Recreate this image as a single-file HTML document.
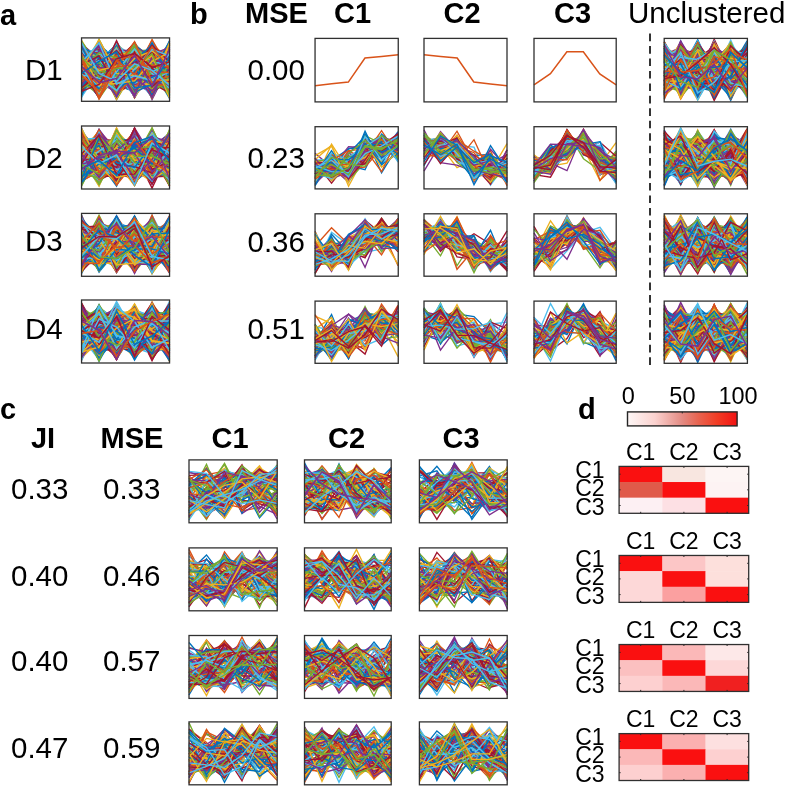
<!DOCTYPE html>
<html><head><meta charset="utf-8"><title>Figure</title>
<style>
html,body{margin:0;padding:0;background:#fff;overflow:hidden}
svg{display:block}
text{font-family:"Liberation Sans",Arial,Helvetica,sans-serif;fill:#000}
.L{font-weight:bold;font-size:29px}
.H{font-weight:bold;font-size:29px}
.N{font-size:29.5px}
.s{font-size:23px}
.s2{font-size:23.5px}
g path{fill:none;stroke-linejoin:miter;stroke-miterlimit:3}
.k0{stroke:#0072BD}.k1{stroke:#D95319}.k2{stroke:#EDB120}.k3{stroke:#7E2F8E}.k4{stroke:#77AC30}.k5{stroke:#4DBEEE}.k6{stroke:#A2142F}
.bx{fill:none;stroke:#303030;stroke-width:1.3}
.tk{fill:none;stroke:#262626;stroke-width:1}
</style></head><body>
<svg width="785" height="787" viewBox="0 0 785 787">
<rect width="785" height="787" fill="#fff"/>
<text class="L" x="0" y="24.5">a</text>
<text class="L" x="190" y="24">b</text>
<text class="L" x="0" y="419">c</text>
<text class="L" x="578" y="418.5">d</text>
<text class="H" x="245" y="22.7">MSE</text>
<text class="H" x="352.5" y="22.7" text-anchor="middle">C1</text>
<text class="H" x="462" y="22.7" text-anchor="middle">C2</text>
<text class="H" x="572.5" y="22.7" text-anchor="middle">C3</text>
<text class="N" x="628" y="22.7">Unclustered</text>
<text class="N" x="25" y="80.3">D1</text>
<text class="N" x="25" y="167.8">D2</text>
<text class="N" x="25" y="251.3">D3</text>
<text class="N" x="25" y="339.2">D4</text>
<text class="N" x="247.5" y="80.3">0.00</text>
<text class="N" x="247.5" y="168.2">0.23</text>
<text class="N" x="247.5" y="252">0.36</text>
<text class="N" x="247.5" y="339">0.51</text>
<path d="M650 33.6V366" stroke="#333" stroke-width="2" stroke-dasharray="7.6 4.85" fill="none"/>
<text class="H" x="43" y="447.6" text-anchor="middle">JI</text>
<text class="H" x="100.5" y="447.6">MSE</text>
<text class="H" x="230" y="447.6" text-anchor="middle">C1</text>
<text class="H" x="346.5" y="447.6" text-anchor="middle">C2</text>
<text class="H" x="461" y="447.6" text-anchor="middle">C3</text>
<text class="N" x="11" y="498.5">0.33</text><text class="N" x="103" y="498.5">0.33</text>
<text class="N" x="11" y="585.5">0.40</text><text class="N" x="103" y="585.5">0.46</text>
<text class="N" x="11" y="670.8">0.40</text><text class="N" x="103" y="670.8">0.57</text>
<text class="N" x="11" y="758.2">0.47</text><text class="N" x="103" y="758.2">0.59</text>
<g style="stroke-width:3" transform="translate(81.55,37.9) scale(.5)">
<path class="k1" d="M0 69 35 15 70 92 106 97 141 51 176 56M0 88 35 17 70 50 106 103 141 68 176 55M0 83 35 44 70 101 106 22 141 82 176 48"/>
<path class="k0" d="M0 40 35 22 70 57 106 94 141 68 176 100M0 94 35 60 70 26 106 103 141 39 176 59M0 71 35 105 70 64 106 80 141 20 176 39M0 102 35 36 70 93 106 38 141 74 176 38"/>
<path class="k4" d="M0 44 35 54 70 123 106 64 141 50 176 45M0 37 35 32 70 88 106 76 141 43 176 104M0 70 35 71 70 27 106 36 141 112 176 65"/>
<path class="k5" d="M0 96 35 60 70 77 106 71 141 7 176 71M0 88 35 73 70 14 106 39 141 83 176 84M0 59 35 102 70 50 106 95 141 22 176 53"/>
<path class="k2" d="M0 46 35 88 70 51 106 22 141 105 176 69M0 83 35 49 70 78 106 49 141 19 176 102M0 74 35 18 70 88 106 99 141 40 176 61"/>
<path class="k3" d="M0 93 35 72 70 91 106 36 141 71 176 18M0 31 35 70 70 35 106 113 141 77 176 54M0 66 35 9 70 94 106 88 141 65 176 57"/>
<path class="k6" d="M0 69 35 11 70 104 106 74 141 60 176 63M0 79 35 6 70 86 106 81 141 54 176 74M0 41 35 64 70 48 106 113 141 83 176 32"/>
<path class="k6" d="M0 21 35 91 70 61 106 71 141 99 176 38M0 27 35 35 70 87 106 98 141 48 176 85M0 28 35 82 70 45 106 76 141 108 176 41"/>
<path class="k1" d="M0 64 35 110 70 33 106 28 141 70 176 75M0 92 35 95 70 15 106 73 141 48 176 58M0 44 35 30 70 76 106 109 141 40 176 81M0 83 35 92 70 84 106 16 141 38 176 68"/>
<path class="k2" d="M0 60 35 93 70 9 106 76 141 56 176 86M0 86 35 91 70 9 106 76 141 65 176 53M0 108 35 31 70 51 106 34 141 84 176 72"/>
<path class="k3" d="M0 84 35 105 70 25 106 69 141 34 176 64M0 34 35 49 70 58 106 87 141 112 176 41M0 96 35 91 70 41 106 86 141 33 176 34"/>
<path class="k4" d="M0 103 35 57 70 87 106 16 141 63 176 54M0 40 35 121 70 71 106 54 141 50 176 44M0 18 35 95 70 43 106 65 141 64 176 96"/>
<path class="k0" d="M0 54 35 48 70 105 106 21 141 90 176 63M0 52 35 30 70 95 106 107 141 45 176 51M0 27 35 65 70 101 106 94 141 33 176 61"/>
<path class="k5" d="M0 92 35 76 70 11 106 73 141 83 176 46M0 87 35 28 70 111 106 48 141 59 176 47M0 95 35 37 70 77 106 69 141 87 176 17"/>
<path class="k4" d="M0 40 35 118 70 44 106 52 141 48 176 78M0 96 35 41 70 93 106 51 141 21 176 79M0 58 35 22 70 55 106 69 141 115 176 61"/>
<path class="k5" d="M0 92 35 88 70 33 106 67 141 81 176 20M0 86 35 63 70 69 106 97 141 55 176 10M0 96 35 83 70 28 106 31 141 52 176 90"/>
<path class="k6" d="M0 79 35 76 70 110 106 29 141 43 176 44M0 48 35 45 70 85 106 20 141 95 176 88M0 79 35 87 70 52 106 9 141 63 176 90"/>
<path class="k1" d="M0 30 35 59 70 77 106 93 141 95 176 27M0 22 35 73 70 83 106 101 141 68 176 33M0 38 35 40 70 39 106 107 141 64 176 92"/>
<path class="k3" d="M0 73 35 107 70 28 106 35 141 85 176 53M0 62 35 53 70 53 106 36 141 123 176 54M0 42 35 31 70 109 106 75 141 43 176 81"/>
<path class="k0" d="M0 12 35 62 70 53 106 95 141 91 176 67M0 41 35 116 70 48 106 33 141 76 176 66M0 91 35 37 70 43 106 90 141 29 176 90"/>
<path class="k2" d="M0 89 35 38 70 77 106 19 141 97 176 60M0 41 35 60 70 78 106 111 141 66 176 25M0 15 35 94 70 90 106 76 141 43 176 63M0 60 35 58 70 94 106 99 141 16 176 53"/>
<path class="k1" d="M0 18 35 106 70 71 106 69 141 43 176 74M0 94 35 30 70 80 106 77 141 21 176 78M0 66 35 66 70 107 106 65 141 64 176 12"/>
<path class="k2" d="M0 78 35 58 70 86 106 96 141 49 176 13M0 46 35 78 70 83 106 97 141 13 176 63M0 5 35 65 70 84 106 63 141 80 176 84"/>
<path class="k0" d="M0 54 35 103 70 69 106 32 141 92 176 30M0 95 35 46 70 13 106 87 141 75 176 65M0 20 35 61 70 77 106 111 141 61 176 49"/>
<path class="k6" d="M0 76 35 94 70 16 106 74 141 36 176 84M0 26 35 79 70 54 106 103 141 34 176 84M0 31 35 85 70 65 106 95 141 82 176 22"/>
<path class="k3" d="M0 53 35 29 70 113 106 84 141 54 176 48M0 102 35 46 70 70 106 82 141 15 176 65M0 62 35 71 70 65 106 69 141 10 176 103M0 62 35 116 70 25 106 64 141 45 176 69"/>
<path class="k4" d="M0 73 35 27 70 54 106 101 141 91 176 34M0 16 35 94 70 54 106 75 141 93 176 47M0 92 35 77 70 86 106 26 141 24 176 75"/>
<path class="k5" d="M0 58 35 116 70 36 106 55 141 36 176 79M0 65 35 23 70 59 106 117 141 62 176 54M0 79 35 58 70 23 106 108 141 40 176 73"/>
<path class="k4" d="M0 87 35 102 70 54 106 75 141 23 176 39M0 82 35 25 70 50 106 104 141 38 176 81M0 69 35 55 70 37 106 120 141 58 176 42M0 90 35 22 70 42 106 101 141 52 176 73"/>
<path class="k6" d="M0 36 35 32 70 54 106 74 141 70 176 114M0 13 35 65 70 69 106 101 141 83 176 49M0 92 35 76 70 45 106 11 141 80 176 76"/>
<path class="k0" d="M0 64 35 80 70 44 106 115 141 36 176 41M0 56 35 69 70 27 106 112 141 77 176 39M0 67 35 30 70 74 106 26 141 104 176 79"/>
<path class="k1" d="M0 63 35 73 70 37 106 118 141 40 176 48M0 47 35 27 70 55 106 84 141 56 176 112M0 67 35 37 70 29 106 107 141 89 176 51"/>
<path class="k2" d="M0 54 35 48 70 112 106 88 141 33 176 45M0 99 35 31 70 50 106 39 141 101 176 60M0 81 35 109 70 27 106 44 141 44 176 75"/>
<path class="k3" d="M0 66 35 120 70 55 106 35 141 40 176 65M0 67 35 74 70 113 106 60 141 26 176 40M0 30 35 73 70 28 106 96 141 94 176 58"/>
<path class="k5" d="M0 80 35 25 70 79 106 51 141 39 176 107M0 101 35 84 70 35 106 77 141 61 176 22M0 71 35 14 70 46 106 92 141 93 176 65"/>
<path class="k3" d="M0 68 35 49 70 96 106 85 141 71 176 11M0 47 35 109 70 39 106 94 141 40 176 52M0 81 35 78 70 45 106 46 141 24 176 106"/>
<path class="k2" d="M0 69 35 95 70 9 106 55 141 84 176 68M0 9 35 54 70 95 106 75 141 82 176 66M0 29 35 78 70 61 106 75 141 30 176 107"/>
<path class="k4" d="M0 49 35 83 70 57 106 13 141 87 176 92M0 52 35 40 70 63 106 67 141 120 176 38M0 29 35 59 70 70 106 35 141 77 176 111"/>
<path class="k5" d="M0 63 35 101 70 97 106 55 141 29 176 35M0 53 35 78 70 72 106 112 141 29 176 37M0 41 35 36 70 57 106 76 141 118 176 53M0 73 35 105 70 81 106 52 141 53 176 17"/>
<path class="k1" d="M0 71 35 52 70 30 106 81 141 36 176 111M0 75 35 69 70 114 106 33 141 55 176 35M0 39 35 115 70 77 106 30 141 57 176 63"/>
<path class="k6" d="M0 66 35 60 70 11 106 73 141 105 176 64M0 48 35 44 70 122 106 46 141 69 176 51M0 50 35 52 70 87 106 26 141 110 176 54"/>
<path class="k0" d="M0 30 35 71 70 97 106 90 141 24 176 69M0 27 35 63 70 112 106 38 141 78 176 63M0 96 35 78 70 8 106 70 141 74 176 54"/>
<path class="k6" d="M0 42 35 99 70 66 106 73 141 85 176 15M0 48 35 29 70 69 106 68 141 48 176 117M0 68 35 21 70 72 106 91 141 95 176 33M0 74 35 118 70 35 106 40 141 55 176 58"/>
<path class="k2" d="M0 96 35 62 70 64 106 52 141 93 176 14M0 98 35 88 70 24 106 59 141 32 176 79M0 86 35 56 70 19 106 90 141 39 176 90"/>
<path class="k1" d="M0 55 35 100 70 9 106 71 141 73 176 72M0 32 35 43 70 70 106 105 141 39 176 92M0 72 35 53 70 65 106 112 141 60 176 18"/>
<path class="k5" d="M0 9 35 84 70 73 106 81 141 47 176 87M0 72 35 68 70 24 106 61 141 42 176 113M0 63 35 117 70 57 106 28 141 72 176 44"/>
<path class="k3" d="M0 31 35 88 70 109 106 47 141 39 176 66M0 52 35 92 70 80 106 12 141 56 176 89M0 60 35 25 70 33 106 100 141 72 176 90"/>
<path class="k0" d="M0 76 35 118 70 33 106 59 141 44 176 52M0 94 35 52 70 30 106 43 141 107 176 54M0 109 35 69 70 41 106 27 141 85 176 49"/>
<path class="k4" d="M0 61 35 94 70 40 106 98 141 67 176 21M0 61 35 48 70 20 106 73 141 112 176 67M0 73 35 33 70 112 106 47 141 77 176 37"/>
<path class="k4" d="M0 71 35 98 70 92 106 23 141 63 176 33M0 10 35 75 70 71 106 67 141 56 176 101M0 75 35 53 70 13 106 66 141 68 176 105"/>
<path class="k1" d="M0 28 35 78 70 90 106 26 141 63 176 95M0 109 35 35 70 78 106 27 141 57 176 74M0 50 35 118 70 29 106 67 141 67 176 50"/>
<path class="k0" d="M0 30 35 74 70 82 106 66 141 25 176 102M0 44 35 99 70 63 106 50 141 99 176 25M0 66 35 34 70 49 106 49 141 62 176 121M0 66 35 14 70 43 106 93 141 88 176 77"/>
<path class="k5" d="M0 47 35 64 70 18 106 103 141 58 176 89M0 25 35 89 70 50 106 108 141 55 176 53M0 53 35 73 70 47 106 68 141 25 176 114"/>
<path class="k3" d="M0 96 35 21 70 50 106 88 141 84 176 42M0 30 35 93 70 28 106 85 141 91 176 54M0 19 35 91 70 45 106 100 141 54 176 71"/>
<path class="k2" d="M0 98 35 40 70 28 106 101 141 64 176 50M0 34 35 81 70 81 106 105 141 49 176 30M0 10 35 73 70 85 106 60 141 96 176 56"/>
<path class="k6" d="M0 33 35 36 70 109 106 90 141 57 176 55M0 93 35 27 70 72 106 33 141 56 176 100M0 61 35 13 70 63 106 81 141 59 176 104"/>
<path class="k6" d="M0 26 35 116 70 57 106 77 141 54 176 51M0 67 35 45 70 69 106 19 141 70 176 110M0 43 35 26 70 65 106 53 141 109 176 85"/>
<path class="k2" d="M0 70 35 82 70 57 106 103 141 14 176 55M0 64 35 85 70 65 106 86 141 5 176 76M0 22 35 63 70 55 106 46 141 90 176 105"/>
<path class="k0" d="M0 92 35 85 70 47 106 58 141 86 176 13M0 72 35 105 70 54 106 26 141 36 176 87M0 17 35 109 70 64 106 51 141 65 176 75"/>
<path class="k3" d="M0 71 35 30 70 50 106 119 141 59 176 51M0 69 35 99 70 54 106 87 141 59 176 12M0 65 35 90 70 68 106 64 141 7 176 88"/>
<path class="k5" d="M0 118 35 66 70 63 106 39 141 32 176 62M0 38 35 98 70 19 106 61 141 87 176 78M0 105 35 77 70 21 106 40 141 81 176 56"/>
<path class="k1" d="M0 33 35 97 70 93 106 37 141 38 176 82M0 32 35 109 70 73 106 28 141 63 176 75M0 103 35 39 70 76 106 84 141 57 176 22M0 45 35 43 70 46 106 119 141 49 176 78"/>
<path class="k4" d="M0 64 35 69 70 49 106 83 141 14 176 102M0 42 35 29 70 43 106 71 141 89 176 106M0 68 35 70 70 43 106 15 141 85 176 100"/>
<path class="k5" d="M0 70 35 30 70 26 106 72 141 77 176 105M0 33 35 117 70 63 106 57 141 73 176 37M0 90 35 96 70 26 106 83 141 35 176 50"/>
<path class="k3" d="M0 43 35 44 70 33 106 100 141 102 176 58M0 113 35 61 70 45 106 70 141 22 176 69M0 21 35 60 70 100 106 97 141 53 176 50"/>
<path class="k4" d="M0 88 35 21 70 53 106 46 141 104 176 68M0 117 35 32 70 60 106 76 141 50 176 45M0 39 35 66 70 49 106 36 141 73 176 117"/>
<path class="k0" d="M0 71 35 87 70 80 106 13 141 42 176 89M0 48 35 40 70 89 106 24 141 80 176 99M0 72 35 58 70 15 106 103 141 51 176 82"/>
<path class="k1" d="M0 42 35 17 70 84 106 97 141 83 176 57M0 73 35 58 70 93 106 69 141 80 176 7M0 64 35 44 70 72 106 46 141 119 176 36"/>
<path class="k6" d="M0 57 35 75 70 51 106 19 141 69 176 110M0 36 35 74 70 89 106 17 141 73 176 91M0 13 35 41 70 85 106 89 141 78 176 74"/>
<path class="k2" d="M0 101 35 66 70 47 106 35 141 98 176 34M0 103 35 50 70 47 106 49 141 32 176 100M0 105 35 23 70 79 106 82 141 49 176 42M0 66 35 34 70 46 106 118 141 70 176 45"/>
<path class="k4" d="M0 72 35 77 70 106 106 54 141 15 176 57M0 47 35 45 70 82 106 44 141 45 176 117M0 63 35 24 70 87 106 73 141 33 176 101"/>
<path class="k3" d="M0 41 35 73 70 73 106 115 141 44 176 35M0 81 35 87 70 24 106 26 141 89 176 74M0 70 35 101 70 78 106 76 141 19 176 36M0 108 35 59 70 30 106 55 141 91 176 38"/>
<path class="k2" d="M0 91 35 39 70 76 106 80 141 13 176 80M0 15 35 50 70 76 106 53 141 98 176 87M0 50 35 84 70 39 106 25 141 104 176 78"/>
<path class="k0" d="M0 20 35 54 70 80 106 78 141 44 176 104M0 30 35 50 70 80 106 39 141 70 176 112M0 109 35 36 70 89 106 31 141 57 176 58"/>
<path class="k5" d="M0 32 35 52 70 93 106 30 141 100 176 72M0 62 35 40 70 70 106 117 141 61 176 30M0 70 35 101 70 58 106 13 141 84 176 55"/>
<path class="k6" d="M0 53 35 31 70 48 106 49 141 91 176 110M0 46 35 109 70 28 106 91 141 56 176 51M0 85 35 90 70 91 106 38 141 20 176 57"/>
<path class="k1" d="M0 85 35 91 70 53 106 48 141 15 176 88M0 26 35 76 70 50 106 115 141 58 176 55M0 17 35 60 70 54 106 102 141 55 176 91"/>
<path class="k4" d="M0 87 35 44 70 75 106 105 141 27 176 43M0 102 35 70 70 71 106 9 141 70 176 59M0 63 35 77 70 32 106 110 141 69 176 29M0 67 35 44 70 101 106 89 141 18 176 61"/>
<path class="k0" d="M0 49 35 102 70 86 106 23 141 78 176 42M0 56 35 44 70 25 106 95 141 56 176 103M0 86 35 71 70 24 106 87 141 86 176 26"/>
<path class="k6" d="M0 67 35 74 70 46 106 78 141 13 176 101M0 86 35 65 70 22 106 107 141 55 176 44M0 34 35 83 70 39 106 57 141 114 176 54"/>
<path class="k1" d="M0 52 35 102 70 67 106 75 141 74 176 11M0 77 35 74 70 53 106 40 141 26 176 110M0 72 35 24 70 65 106 106 141 78 176 34"/>
<path class="k3" d="M0 9 35 50 70 70 106 73 141 88 176 90M0 61 35 96 70 55 106 19 141 99 176 51M0 60 35 110 70 81 106 29 141 33 176 67"/>
<path class="k5" d="M0 87 35 32 70 49 106 35 141 107 176 71M0 119 35 42 70 72 106 38 141 64 176 46M0 69 35 76 70 58 106 77 141 7 176 94"/>
<path class="k2" d="M0 39 35 90 70 103 106 54 141 70 176 24M0 16 35 46 70 61 106 100 141 90 176 67M0 45 35 76 70 74 106 79 141 95 176 12"/>
<path class="k6" d="M0 81 35 23 70 40 106 108 141 58 176 71M0 98 35 56 70 34 106 94 141 73 176 26M0 42 35 109 70 32 106 52 141 91 176 54"/>
<path class="k5" d="M0 82 35 48 70 71 106 97 141 11 176 71M0 93 35 63 70 10 106 56 141 90 176 70M0 27 35 37 70 73 106 87 141 105 176 51M0 88 35 40 70 39 106 98 141 30 176 86"/>
<path class="k3" d="M0 40 35 18 70 105 106 68 141 73 176 75M0 57 35 55 70 60 106 118 141 26 176 65M0 76 35 71 70 74 106 39 141 103 176 18"/>
<path class="k2" d="M0 21 35 90 70 84 106 29 141 80 176 77M0 25 35 71 70 40 106 70 141 61 176 113M0 89 35 96 70 84 106 50 141 30 176 31"/>
<path class="k0" d="M0 108 35 39 70 43 106 49 141 96 176 46M0 74 35 56 70 88 106 82 141 74 176 6M0 89 35 102 70 80 106 36 141 32 176 42"/>
<path class="k4" d="M0 90 35 90 70 35 106 92 141 43 176 30M0 63 35 53 70 52 106 19 141 105 176 88M0 93 35 104 70 60 106 32 141 60 176 31"/>
<path class="k1" d="M0 52 35 46 70 98 106 24 141 101 176 60M0 81 35 88 70 90 106 65 141 13 176 43M0 39 35 109 70 27 106 87 141 63 176 55"/>
<path class="k1" d="M0 49 35 105 70 36 106 66 141 32 176 93M0 41 35 108 70 69 106 89 141 32 176 42M0 96 35 86 70 31 106 70 141 75 176 22"/>
<path class="k6" d="M0 54 35 91 70 68 106 29 141 105 176 34M0 22 35 84 70 103 106 63 141 36 176 72M0 47 35 67 70 104 106 18 141 87 176 58M0 106 35 74 70 43 106 44 141 27 176 86"/>
<path class="k4" d="M0 88 35 113 70 42 106 44 141 51 176 42M0 8 35 66 70 52 106 88 141 86 176 80M0 113 35 54 70 53 106 49 141 27 176 83"/>
<path class="k2" d="M0 54 35 78 70 51 106 96 141 88 176 14M0 38 35 52 70 122 106 61 141 46 176 60M0 60 35 95 70 49 106 106 141 37 176 35"/>
<path class="k0" d="M0 45 35 47 70 118 106 58 141 36 176 77M0 100 35 54 70 25 106 79 141 87 176 35M0 71 35 30 70 93 106 44 141 103 176 40"/>
<path class="k5" d="M0 73 35 49 70 90 106 91 141 11 176 66M0 56 35 36 70 108 106 26 141 78 176 75M0 26 35 55 70 73 106 100 141 93 176 35"/>
<path class="k3" d="M0 85 35 82 70 71 106 90 141 33 176 19M0 27 35 66 70 75 106 29 141 78 176 105M0 81 35 84 70 42 106 50 141 102 176 22"/>
<path class="k0" d="M0 115 35 43 70 67 106 40 141 78 176 37M0 34 35 82 70 53 106 37 141 114 176 61M0 57 35 116 70 30 106 43 141 57 176 76M0 69 35 34 70 25 106 82 141 63 176 106"/>
<path class="k2" d="M0 46 35 99 70 20 106 85 141 46 176 84M0 56 35 65 70 20 106 109 141 81 176 49M0 71 35 33 70 94 106 60 141 97 176 25"/>
<path class="k5" d="M0 14 35 89 70 50 106 59 141 99 176 69M0 39 35 73 70 22 106 94 141 56 176 97M0 24 35 27 70 82 106 93 141 79 176 76"/>
<path class="k4" d="M0 16 35 74 70 52 106 109 141 69 176 60M0 83 35 3 70 70 106 84 141 70 176 70M0 57 35 71 70 34 106 26 141 101 176 91"/>
<path class="k6" d="M0 56 35 111 70 33 106 35 141 61 176 85M0 25 35 84 70 76 106 49 141 40 176 105M0 94 35 42 70 84 106 82 141 14 176 65"/>
<path class="k1" d="M0 21 35 36 70 61 106 74 141 94 176 94M0 87 35 76 70 77 106 72 141 4 176 64M0 68 35 78 70 45 106 19 141 108 176 62"/>
<path class="k3" d="M0 66 35 6 70 68 106 94 141 79 176 68M0 91 35 79 70 92 106 18 141 37 176 62M0 53 35 64 70 43 106 67 141 119 176 34"/>
<path class="k2" d="M0 23 35 35 70 84 106 72 141 103 176 64M0 48 35 95 70 36 106 26 141 85 176 90M0 56 35 58 70 76 106 85 141 95 176 10"/>
<path class="k6" d="M0 107 35 53 70 25 106 64 141 42 176 89M0 64 35 66 70 37 106 81 141 25 176 109M0 79 35 80 70 6 106 87 141 75 176 53"/>
<path class="k4" d="M0 101 35 81 70 55 106 18 141 44 176 82M0 7 35 59 70 82 106 60 141 90 176 82M0 35 35 105 70 88 106 53 141 72 176 28"/>
<path class="k1" d="M0 21 35 56 70 112 106 77 141 54 176 61M0 19 35 67 70 35 106 98 141 84 176 77M0 35 35 51 70 67 106 86 141 33 176 109M0 67 35 93 70 36 106 105 141 37 176 43"/>
<path class="k5" d="M0 25 35 72 70 71 106 102 141 81 176 30M0 66 35 99 70 96 106 20 141 49 176 51M0 68 35 45 70 81 106 14 141 71 176 101"/>
<path class="k3" d="M0 61 35 12 70 62 106 105 141 77 176 62M0 44 35 71 70 117 106 32 141 49 176 66M0 99 35 25 70 50 106 74 141 94 176 38"/>
<path class="k0" d="M0 35 35 40 70 61 106 109 141 92 176 43M0 68 35 102 70 71 106 44 141 15 176 80M0 17 35 86 70 40 106 62 141 96 176 80"/>
<path class="k0" d="M0 19 35 36 70 96 106 87 141 79 176 64M0 46 35 88 70 82 106 90 141 13 176 61M0 99 35 51 70 76 106 68 141 10 176 76"/>
<path class="k4" d="M0 62 35 30 70 40 106 112 141 53 176 84M0 83 35 48 70 107 106 19 141 54 176 70M0 67 35 66 70 77 106 14 141 106 176 51"/>
<path class="k3" d="M0 32 35 81 70 56 106 114 141 39 176 59M0 14 35 59 70 60 106 80 141 106 176 62M0 61 35 14 70 93 106 50 141 66 176 96"/>
<path class="k6" d="M0 54 35 36 70 100 106 28 141 98 176 64M0 100 35 71 70 87 106 60 141 15 176 48M0 64 35 120 70 48 106 32 141 58 176 58"/>
<path class="k2" d="M0 72 35 110 70 80 106 41 141 26 176 51M0 41 35 65 70 56 106 63 141 35 176 120M0 63 35 4 70 71 106 75 141 84 176 84M0 33 35 94 70 91 106 86 141 47 176 29"/>
<path class="k5" d="M0 49 35 10 70 92 106 76 141 85 176 68M0 74 35 80 70 105 106 62 141 23 176 36M0 57 35 114 70 68 106 22 141 68 176 51"/>
<path class="k1" d="M0 34 35 122 70 58 106 53 141 55 176 58M0 60 35 87 70 59 106 8 141 90 176 76M0 44 35 118 70 45 106 35 141 68 176 69"/>
<path class="k4" d="M0 37 35 79 70 61 106 58 141 32 176 114"/>
<path class="k0" d="M0 71 35 47 70 28 106 100 141 95 176 38"/>
<path class="k6" d="M0 107 35 93 70 42 106 31 141 59 176 48"/>
<path class="k1" d="M0 75 35 107 70 45 106 73 141 18 176 62"/>
<path class="k5" d="M0 10 35 71 70 87 106 52 141 65 176 95"/>
<path class="k3" d="M0 57 35 90 70 81 106 35 141 96 176 23"/>
</g>
<rect class="bx" x="81.55" y="37.9" width="88" height="63.4"/>
<g style="stroke-width:3" transform="translate(81.55,126) scale(.5)">
<path class="k2" d="M0 28 35 59 70 64 106 118 141 59 176 50M0 86 35 101 70 22 106 62 141 36 176 70M0 72 35 45 70 50 106 42 141 49 176 120"/>
<path class="k3" d="M0 47 35 73 70 74 106 101 141 69 176 13M0 41 35 106 70 62 106 24 141 57 176 88M0 94 35 51 70 92 106 29 141 31 176 81"/>
<path class="k6" d="M0 85 35 10 70 47 106 79 141 68 176 88M0 87 35 8 70 70 106 90 141 69 176 54M0 72 35 69 70 42 106 98 141 81 176 14"/>
<path class="k4" d="M0 91 35 77 70 99 106 28 141 35 176 48M0 105 35 47 70 39 106 67 141 90 176 30M0 62 35 58 70 78 106 36 141 31 176 113"/>
<path class="k1" d="M0 94 35 74 70 94 106 52 141 47 176 17M0 81 35 23 70 32 106 101 141 77 176 63M0 81 35 109 70 50 106 61 141 20 176 57"/>
<path class="k0" d="M0 93 35 90 70 29 106 30 141 52 176 84M0 35 35 71 70 52 106 75 141 112 176 32M0 80 35 67 70 101 106 71 141 45 176 14M0 48 35 31 70 115 106 74 141 66 176 44"/>
<path class="k5" d="M0 117 35 47 70 68 106 52 141 65 176 29M0 18 35 70 70 58 106 57 141 112 176 62M0 32 35 55 70 56 106 36 141 102 176 97"/>
<path class="k3" d="M0 45 35 50 70 90 106 55 141 108 176 29M0 26 35 102 70 94 106 60 141 60 176 37M0 78 35 30 70 63 106 61 141 112 176 35"/>
<path class="k5" d="M0 85 35 15 70 53 106 101 141 51 176 73M0 91 35 24 70 44 106 59 141 105 176 56M0 85 35 72 70 23 106 46 141 105 176 47"/>
<path class="k6" d="M0 13 35 78 70 105 106 54 141 63 176 65M0 97 35 40 70 72 106 98 141 32 176 40M0 45 35 72 70 19 106 54 141 104 176 84"/>
<path class="k4" d="M0 55 35 108 70 20 106 52 141 84 176 59M0 26 35 86 70 50 106 46 141 109 176 60M0 65 35 66 70 57 106 18 141 112 176 59"/>
<path class="k0" d="M0 99 35 51 70 27 106 95 141 37 176 70M0 84 35 8 70 71 106 72 141 53 176 91M0 22 35 102 70 60 106 50 141 50 176 95"/>
<path class="k2" d="M0 106 35 17 70 54 106 71 141 78 176 51M0 45 35 73 70 102 106 14 141 69 176 75M0 88 35 74 70 57 106 77 141 5 176 78"/>
<path class="k1" d="M0 104 35 22 70 75 106 71 141 72 176 34M0 13 35 68 70 86 106 49 141 65 176 98M0 95 35 86 70 36 106 37 141 89 176 34M0 73 35 57 70 33 106 85 141 103 176 26"/>
<path class="k4" d="M0 75 35 41 70 118 106 60 141 39 176 46M0 80 35 68 70 37 106 35 141 45 176 113M0 23 35 98 70 48 106 77 141 91 176 41"/>
<path class="k3" d="M0 104 35 41 70 54 106 98 141 36 176 45M0 52 35 67 70 60 106 113 141 67 176 20M0 41 35 112 70 78 106 29 141 50 176 68"/>
<path class="k6" d="M0 53 35 83 70 50 106 83 141 95 176 14M0 10 35 55 70 56 106 86 141 82 176 89M0 87 35 91 70 51 106 37 141 89 176 23"/>
<path class="k1" d="M0 94 35 103 70 33 106 31 141 55 176 62M0 112 35 53 70 66 106 34 141 34 176 79M0 28 35 59 70 77 106 98 141 88 176 28"/>
<path class="k2" d="M0 26 35 63 70 112 106 61 141 76 176 40M0 74 35 109 70 17 106 53 141 60 176 65M0 54 35 98 70 20 106 43 141 72 176 92M0 67 35 92 70 73 106 5 141 66 176 75"/>
<path class="k0" d="M0 88 35 68 70 76 106 13 141 90 176 43M0 43 35 82 70 52 106 21 141 76 176 104M0 84 35 60 70 54 106 48 141 109 176 23"/>
<path class="k5" d="M0 44 35 94 70 100 106 62 141 57 176 21M0 42 35 104 70 91 106 40 141 71 176 31M0 91 35 29 70 82 106 27 141 93 176 57"/>
<path class="k0" d="M0 74 35 96 70 67 106 18 141 86 176 37M0 35 35 20 70 73 106 101 141 79 176 70M0 100 35 21 70 52 106 80 141 84 176 41"/>
<path class="k2" d="M0 78 35 43 70 67 106 76 141 14 176 99M0 67 35 80 70 9 106 49 141 84 176 88M0 26 35 55 70 39 106 80 141 69 176 110"/>
<path class="k3" d="M0 19 35 43 70 55 106 73 141 99 176 89M0 101 35 47 70 50 106 39 141 102 176 39M0 60 35 104 70 71 106 71 141 12 176 60M0 22 35 104 70 36 106 76 141 80 176 59"/>
<path class="k5" d="M0 67 35 119 70 45 106 64 141 51 176 33M0 93 35 31 70 85 106 93 141 40 176 36M0 68 35 23 70 44 106 51 141 106 176 86"/>
<path class="k1" d="M0 44 35 41 70 102 106 27 141 77 176 87M0 60 35 20 70 60 106 90 141 45 176 103M0 68 35 105 70 24 106 70 141 78 176 32"/>
<path class="k6" d="M0 99 35 93 70 49 106 40 141 73 176 24M0 27 35 89 70 64 106 25 141 85 176 88M0 48 35 20 70 71 106 47 141 97 176 95"/>
<path class="k4" d="M0 109 35 89 70 44 106 28 141 54 176 54M0 49 35 17 70 91 106 55 141 67 176 99M0 76 35 94 70 88 106 52 141 57 176 12"/>
<path class="k1" d="M0 118 35 40 70 37 106 50 141 72 176 61M0 96 35 24 70 61 106 80 141 30 176 86M0 110 35 91 70 39 106 48 141 53 176 38"/>
<path class="k6" d="M0 35 35 67 70 75 106 24 141 107 176 70M0 113 35 66 70 56 106 24 141 46 176 74M0 35 35 51 70 38 106 52 141 102 176 100"/>
<path class="k3" d="M0 66 35 51 70 94 106 22 141 46 176 100M0 79 35 25 70 54 106 51 141 113 176 55M0 60 35 64 70 93 106 69 141 7 176 84"/>
<path class="k0" d="M0 39 35 103 70 73 106 52 141 87 176 24M0 81 35 59 70 74 106 20 141 39 176 104M0 17 35 53 70 91 106 51 141 67 176 100"/>
<path class="k4" d="M0 74 35 61 70 16 106 70 141 50 176 107M0 57 35 89 70 84 106 51 141 86 176 11M0 110 35 63 70 61 106 71 141 16 176 57M0 108 35 53 70 44 106 48 141 92 176 33"/>
<path class="k2" d="M0 83 35 29 70 90 106 63 141 23 176 90M0 53 35 59 70 106 106 17 141 82 176 62M0 19 35 108 70 49 106 66 141 79 176 57"/>
<path class="k5" d="M0 14 35 57 70 104 106 76 141 73 176 54M0 92 35 24 70 65 106 29 141 85 176 84M0 50 35 66 70 77 106 38 141 33 176 114"/>
<path class="k3" d="M0 46 35 17 70 79 106 52 141 93 176 92M0 83 35 73 70 97 106 68 141 40 176 16M0 76 35 7 70 54 106 74 141 91 176 77"/>
<path class="k5" d="M0 85 35 99 70 78 106 59 141 26 176 30M0 19 35 110 70 48 106 74 141 61 176 65M0 64 35 108 70 57 106 51 141 18 176 80M0 47 35 71 70 16 106 101 141 85 176 58"/>
<path class="k2" d="M0 50 35 18 70 107 106 69 141 78 176 55M0 63 35 23 70 41 106 103 141 91 176 58M0 11 35 57 70 96 106 62 141 62 176 89"/>
<path class="k4" d="M0 60 35 60 70 90 106 11 141 60 176 96M0 89 35 41 70 91 106 15 141 66 176 77M0 32 35 30 70 72 106 60 141 75 176 110"/>
<path class="k1" d="M0 44 35 115 70 53 106 28 141 69 176 70M0 94 35 64 70 52 106 11 141 67 176 89M0 41 35 39 70 66 106 99 141 99 176 33"/>
<path class="k0" d="M0 16 35 109 70 62 106 53 141 70 176 68M0 90 35 96 70 27 106 77 141 29 176 59M0 48 35 72 70 120 106 38 141 48 176 52"/>
<path class="k6" d="M0 59 35 32 70 56 106 33 141 97 176 101M0 75 35 61 70 18 106 110 141 61 176 53M0 23 35 67 70 47 106 114 141 59 176 69"/>
<path class="k2" d="M0 67 35 84 70 23 106 105 141 62 176 37M0 85 35 104 70 39 106 67 141 61 176 22M0 70 35 79 70 53 106 110 141 43 176 24"/>
<path class="k5" d="M0 107 35 63 70 79 106 15 141 56 176 59M0 59 35 64 70 14 106 57 141 78 176 105M0 64 35 18 70 76 106 82 141 100 176 38"/>
<path class="k6" d="M0 57 35 109 70 89 106 42 141 31 176 50M0 61 35 105 70 56 106 84 141 17 176 54M0 57 35 81 70 42 106 37 141 115 176 45M0 63 35 64 70 77 106 5 141 78 176 90"/>
<path class="k4" d="M0 41 35 87 70 12 106 81 141 78 176 79M0 104 35 22 70 71 106 85 141 39 176 57M0 46 35 101 70 40 106 96 141 29 176 66"/>
<path class="k0" d="M0 30 35 31 70 70 106 87 141 104 176 57M0 10 35 62 70 57 106 91 141 92 176 67M0 39 35 54 70 88 106 20 141 80 176 96"/>
<path class="k1" d="M0 24 35 54 70 40 106 67 141 104 176 90M0 52 35 93 70 63 106 9 141 78 176 82M0 96 35 64 70 34 106 28 141 57 176 99"/>
<path class="k3" d="M0 20 35 87 70 69 106 56 141 103 176 42M0 14 35 106 70 53 106 65 141 71 176 69M0 59 35 40 70 84 106 100 141 75 176 19"/>
<path class="k4" d="M0 77 35 23 70 51 106 47 141 70 176 110M0 59 35 52 70 113 106 20 141 65 176 69M0 50 35 65 70 48 106 104 141 21 176 89"/>
<path class="k1" d="M0 69 35 29 70 106 106 52 141 86 176 35M0 73 35 81 70 5 106 88 141 69 176 62M0 60 35 34 70 39 106 62 141 65 176 118"/>
<path class="k2" d="M0 49 35 11 70 69 106 96 141 85 176 68M0 68 35 88 70 4 106 76 141 63 176 79M0 71 35 58 70 81 106 62 141 97 176 9"/>
<path class="k0" d="M0 37 35 33 70 60 106 112 141 83 176 53M0 51 35 19 70 112 106 65 141 64 176 67M0 65 35 32 70 59 106 119 141 44 176 58M0 37 35 80 70 16 106 92 141 69 176 85"/>
<path class="k6" d="M0 5 35 85 70 83 106 61 141 76 176 68M0 49 35 94 70 72 106 60 141 13 176 90M0 43 35 67 70 55 106 59 141 34 176 119"/>
<path class="k5" d="M0 81 35 99 70 21 106 35 141 82 176 61M0 43 35 68 70 85 106 14 141 97 176 72M0 54 35 70 70 32 106 76 141 34 176 112"/>
<path class="k3" d="M0 96 35 31 70 27 106 58 141 96 176 69M0 79 35 68 70 82 106 4 141 61 176 83M0 15 35 94 70 69 106 89 141 42 176 68"/>
<path class="k1" d="M0 13 35 86 70 51 106 67 141 99 176 62M0 75 35 39 70 40 106 107 141 84 176 33M0 58 35 51 70 100 106 62 141 91 176 17M0 49 35 29 70 33 106 94 141 80 176 94"/>
<path class="k5" d="M0 112 35 43 70 34 106 80 141 68 176 41M0 69 35 23 70 39 106 89 141 102 176 56M0 62 35 116 70 39 106 30 141 71 176 60"/>
<path class="k4" d="M0 32 35 93 70 88 106 69 141 76 176 20M0 22 35 76 70 104 106 67 141 74 176 35M0 41 35 23 70 69 106 69 141 111 176 64"/>
<path class="k3" d="M0 60 35 11 70 59 106 64 141 90 176 94M0 65 35 77 70 14 106 105 141 64 176 52M0 27 35 43 70 114 106 60 141 57 176 77"/>
<path class="k6" d="M0 32 35 88 70 103 106 46 141 34 176 75M0 41 35 58 70 95 106 105 141 45 176 34M0 86 35 44 70 99 106 70 141 16 176 62"/>
<path class="k0" d="M0 113 35 28 70 67 106 36 141 63 176 71M0 40 35 112 70 32 106 86 141 54 176 53M0 32 35 59 70 103 106 54 141 35 176 96"/>
<path class="k2" d="M0 33 35 79 70 19 106 89 141 69 176 90M0 61 35 120 70 39 106 46 141 45 176 68M0 66 35 20 70 50 106 103 141 50 176 90"/>
<path class="k4" d="M0 120 35 50 70 34 106 50 141 57 176 67M0 76 35 12 70 83 106 45 141 70 176 93M0 27 35 73 70 75 106 54 141 111 176 38"/>
<path class="k2" d="M0 30 35 45 70 42 106 94 141 104 176 63M0 34 35 32 70 48 106 93 141 69 176 102M0 63 35 110 70 66 106 20 141 73 176 46M0 69 35 91 70 48 106 32 141 104 176 35"/>
<path class="k6" d="M0 91 35 98 70 73 106 32 141 59 176 25M0 30 35 54 70 114 106 39 141 71 176 70M0 44 35 49 70 57 106 54 141 124 176 50"/>
<path class="k5" d="M0 22 35 60 70 52 106 106 141 89 176 50M0 5 35 72 70 86 106 85 141 66 176 65M0 67 35 46 70 97 106 45 141 99 176 25"/>
<path class="k1" d="M0 34 35 36 70 88 106 102 141 79 176 39M0 42 35 74 70 61 106 67 141 22 176 110M0 41 35 86 70 92 106 40 141 92 176 27"/>
<path class="k3" d="M0 53 35 96 70 51 106 28 141 47 176 104M0 43 35 102 70 66 106 17 141 68 176 83M0 84 35 23 70 46 106 41 141 95 176 90"/>
<path class="k0" d="M0 64 35 69 70 104 106 78 141 14 176 49M0 98 35 57 70 64 106 33 141 97 176 29M0 62 35 46 70 63 106 112 141 74 176 21"/>
<path class="k4" d="M0 22 35 32 70 60 106 85 141 92 176 86M0 48 35 53 70 18 106 94 141 98 176 68M0 73 35 115 70 41 106 70 141 38 176 40"/>
<path class="k0" d="M0 28 35 56 70 114 106 77 141 44 176 59M0 25 35 75 70 53 106 67 141 113 176 47M0 65 35 25 70 50 106 115 141 68 176 55"/>
<path class="k2" d="M0 103 35 36 70 97 106 38 141 62 176 43M0 75 35 21 70 91 106 49 141 44 176 98M0 70 35 75 70 30 106 68 141 107 176 28"/>
<path class="k3" d="M0 74 35 25 70 77 106 109 141 52 176 41M0 22 35 54 70 51 106 102 141 95 176 55M0 112 35 44 70 75 106 49 141 27 176 72M0 100 35 60 70 60 106 28 141 34 176 95"/>
<path class="k5" d="M0 75 35 65 70 106 106 57 141 61 176 14M0 58 35 61 70 97 106 23 141 98 176 40M0 98 35 25 70 40 106 46 141 93 176 75"/>
<path class="k6" d="M0 26 35 63 70 32 106 85 141 67 176 104M0 89 35 23 70 79 106 30 141 93 176 63M0 81 35 75 70 109 106 33 141 43 176 37"/>
<path class="k1" d="M0 41 35 92 70 83 106 53 141 19 176 91M0 33 35 95 70 27 106 82 141 91 176 50M0 19 35 76 70 74 106 93 141 32 176 83"/>
<path class="k1" d="M0 93 35 80 70 94 106 51 141 33 176 27M0 35 35 108 70 83 106 57 141 28 176 67M0 73 35 102 70 21 106 65 141 36 176 81"/>
<path class="k0" d="M0 31 35 70 70 117 106 55 141 43 176 62M0 41 35 37 70 107 106 34 141 72 176 87M0 58 35 88 70 9 106 70 141 62 176 91"/>
<path class="k5" d="M0 117 35 26 70 62 106 61 141 63 176 48M0 57 35 34 70 75 106 25 141 81 176 105M0 79 35 83 70 70 106 23 141 94 176 28"/>
<path class="k6" d="M0 53 35 105 70 39 106 79 141 78 176 23M0 78 35 96 70 88 106 17 141 55 176 43M0 88 35 64 70 31 106 38 141 48 176 108"/>
<path class="k4" d="M0 75 35 105 70 26 106 59 141 33 176 79M0 50 35 21 70 50 106 66 141 86 176 106M0 102 35 60 70 21 106 71 141 38 176 86M0 24 35 86 70 77 106 98 141 63 176 30"/>
<path class="k2" d="M0 92 35 64 70 54 106 85 141 75 176 9M0 94 35 50 70 32 106 58 141 38 176 105M0 64 35 17 70 77 106 99 141 40 176 81"/>
<path class="k3" d="M0 50 35 26 70 72 106 56 141 116 176 58M0 78 35 55 70 78 106 86 141 6 176 75M0 83 35 42 70 95 106 43 141 91 176 24"/>
<path class="k6" d="M0 55 35 50 70 75 106 27 141 115 176 56M0 34 35 60 70 64 106 46 141 54 176 120M0 44 35 102 70 99 106 59 141 35 176 39"/>
<path class="k3" d="M0 67 35 101 70 74 106 10 141 72 176 53M0 29 35 91 70 23 106 76 141 92 176 66M0 57 35 74 70 79 106 6 141 89 176 74"/>
<path class="k2" d="M0 35 35 51 70 72 106 119 141 51 176 50M0 27 35 104 70 59 106 91 141 59 176 38M0 50 35 46 70 45 106 88 141 112 176 36"/>
<path class="k5" d="M0 83 35 38 70 81 106 72 141 90 176 15M0 21 35 59 70 101 106 81 141 37 176 79M0 39 35 113 70 37 106 83 141 62 176 44M0 39 35 68 70 18 106 84 141 100 176 69"/>
<path class="k0" d="M0 9 35 82 70 71 106 52 141 94 176 70M0 75 35 13 70 96 106 79 141 43 176 72M0 39 35 26 70 51 106 67 141 99 176 96"/>
<path class="k1" d="M0 14 35 67 70 55 106 105 141 59 176 77M0 90 35 105 70 52 106 38 141 27 176 66M0 107 35 48 70 52 106 69 141 82 176 20"/>
<path class="k4" d="M0 69 35 34 70 78 106 81 141 97 176 19M0 118 35 55 70 42 106 63 141 32 176 68M0 68 35 112 70 73 106 21 141 48 176 57"/>
<path class="k6" d="M0 56 35 68 70 61 106 117 141 50 176 26M0 27 35 36 70 66 106 112 141 72 176 64M0 51 35 96 70 40 106 22 141 96 176 72M0 11 35 96 70 48 106 85 141 69 176 68"/>
<path class="k1" d="M0 73 35 37 70 27 106 110 141 53 176 77M0 88 35 53 70 89 106 36 141 90 176 23M0 109 35 91 70 57 106 38 141 42 176 41"/>
<path class="k0" d="M0 20 35 74 70 92 106 55 141 96 176 40M0 114 35 68 70 56 106 72 141 28 176 40M0 89 35 49 70 36 106 69 141 30 176 105"/>
<path class="k4" d="M0 87 35 75 70 10 106 75 141 86 176 46M0 116 35 26 70 68 106 64 141 59 176 46M0 43 35 117 70 59 106 76 141 47 176 36"/>
<path class="k5" d="M0 97 35 89 70 57 106 68 141 13 176 54M0 24 35 106 70 61 106 79 141 35 176 72M0 79 35 109 70 58 106 19 141 50 176 63"/>
<path class="k2" d="M0 93 35 72 70 61 106 28 141 96 176 28M0 59 35 43 70 73 106 109 141 21 176 74M0 42 35 64 70 79 106 78 141 16 176 99"/>
<path class="k3" d="M0 17 35 58 70 59 106 76 141 109 176 60M0 45 35 91 70 79 106 23 141 96 176 44M0 81 35 20 70 56 106 105 141 74 176 42"/>
<path class="k1" d="M0 50 35 108 70 80 106 25 141 73 176 42M0 30 35 67 70 22 106 92 141 80 176 87M0 62 35 8 70 85 106 54 141 82 176 87"/>
<path class="k0" d="M0 15 35 82 70 71 106 100 141 43 176 69M0 92 35 89 70 35 106 37 141 91 176 34M0 22 35 56 70 72 106 65 141 113 176 49M0 99 35 88 70 24 106 32 141 61 176 74"/>
<path class="k6" d="M0 58 35 23 70 53 106 70 141 115 176 60M0 66 35 26 70 39 106 113 141 68 176 64M0 75 35 78 70 16 106 91 141 82 176 35"/>
<path class="k5" d="M0 111 35 63 70 17 106 63 141 56 176 69M0 78 35 87 70 99 106 31 141 26 176 56M0 78 35 52 70 28 106 36 141 77 176 107"/>
<path class="k3" d="M0 89 35 81 70 92 106 64 141 21 176 32M0 64 35 14 70 79 106 103 141 70 176 48M0 93 35 94 70 36 106 57 141 76 176 22"/>
<path class="k2" d="M0 51 35 78 70 115 106 36 141 62 176 36M0 81 35 14 70 88 106 82 141 75 176 37M0 29 35 67 70 38 106 88 141 49 176 107"/>
<path class="k4" d="M0 81 35 67 70 15 106 103 141 45 176 66M0 98 35 64 70 21 106 89 141 71 176 34M0 67 35 40 70 23 106 87 141 105 176 57"/>
<path class="k4" d="M0 64 35 82 70 82 106 67 141 4 176 80M0 31 35 53 70 71 106 54 141 51 176 119M0 86 35 62 70 65 106 65 141 92 176 7"/>
<path class="k0" d="M0 58 35 39 70 106 106 36 141 45 176 94M0 106 35 65 70 43 106 48 141 26 176 89M0 15 35 60 70 80 106 42 141 89 176 92"/>
<path class="k6" d="M0 58 35 102 70 35 106 23 141 79 176 81M0 90 35 55 70 108 106 52 141 30 176 42M0 12 35 102 70 63 106 83 141 56 176 62"/>
<path class="k5" d="M0 27 35 24 70 80 106 75 141 96 176 75M0 66 35 103 70 59 106 86 141 18 176 46M0 39 35 78 70 100 106 25 141 89 176 46"/>
<path class="k1" d="M0 110 35 26 70 54 106 45 141 85 176 58M0 10 35 76 70 74 106 50 141 96 176 72M0 41 35 102 70 58 106 47 141 32 176 98M0 10 35 72 70 66 106 55 141 77 176 99"/>
<path class="k2" d="M0 65 35 51 70 20 106 50 141 105 176 87M0 106 35 89 70 65 106 52 141 29 176 37M0 38 35 82 70 90 106 26 141 46 176 97"/>
<path class="k3" d="M0 109 35 81 70 33 106 38 141 74 176 43M0 29 35 50 70 88 106 31 141 88 176 93M0 86 35 66 70 29 106 41 141 47 176 109"/>
<path class="k1" d="M0 58 35 48 70 118 106 72 141 30 176 52M0 53 35 63 70 59 106 114 141 68 176 21M0 16 35 91 70 74 106 56 141 95 176 47"/>
<path class="k5" d="M0 92 35 13 70 87 106 79 141 46 176 61M0 48 35 77 70 18 106 62 141 65 176 108M0 77 35 50 70 28 106 75 141 110 176 39"/>
<path class="k2" d="M0 5 35 76 70 67 106 60 141 83 176 87M0 29 35 63 70 103 106 95 141 47 176 41M0 44 35 78 70 42 106 116 141 62 176 36M0 52 35 81 70 12 106 69 141 63 176 101"/>
<path class="k6" d="M0 76 35 20 70 77 106 81 141 94 176 31M0 32 35 74 70 69 106 115 141 45 176 43M0 68 35 65 70 83 106 4 141 87 176 71"/>
<path class="k4" d="M0 108 35 18 70 64 106 51 141 57 176 80M0 25 35 66 70 31 106 73 141 78 176 104M0 93 35 105 70 29 106 46 141 41 176 64"/>
<path class="k0" d="M0 106 35 25 70 73 106 83 141 38 176 53M0 102 35 76 70 65 106 44 141 76 176 15M0 113 35 62 70 67 106 41 141 25 176 69"/>
<path class="k3" d="M0 69 35 16 70 56 106 55 141 108 176 73M0 77 35 65 70 51 106 105 141 67 176 14M0 57 35 103 70 50 106 20 141 92 176 56"/>
<path class="k6" d="M0 56 35 19 70 97 106 96 141 47 176 63"/>
<path class="k4" d="M0 77 35 96 70 8 106 61 141 60 176 76"/>
<path class="k1" d="M0 25 35 93 70 67 106 29 141 71 176 94"/>
<path class="k5" d="M0 41 35 75 70 58 106 117 141 34 176 54"/>
<path class="k0" d="M0 85 35 69 70 99 106 33 141 21 176 71"/>
<path class="k3" d="M0 87 35 59 70 50 106 54 141 21 176 106"/>
</g>
<rect class="bx" x="81.55" y="126" width="88" height="63"/>
<g style="stroke-width:3" transform="translate(81.55,213.4) scale(.5)">
<path class="k2" d="M0 9 35 86 70 58 106 84 141 86 176 54M0 53 35 69 70 24 106 40 141 106 176 84M0 55 35 32 70 77 106 116 141 50 176 48"/>
<path class="k1" d="M0 50 35 72 70 80 106 26 141 41 176 109M0 24 35 97 70 83 106 28 141 70 176 75M0 112 35 41 70 83 106 36 141 63 176 43"/>
<path class="k0" d="M0 71 35 46 70 99 106 61 141 85 176 15M0 30 35 78 70 50 106 106 141 81 176 33M0 43 35 98 70 71 106 88 141 62 176 16M0 63 35 94 70 15 106 88 141 42 176 75"/>
<path class="k5" d="M0 88 35 56 70 10 106 67 141 64 176 94M0 75 35 75 70 14 106 41 141 95 176 78M0 45 35 52 70 107 106 90 141 27 176 57"/>
<path class="k6" d="M0 87 35 19 70 32 106 87 141 84 176 67M0 81 35 66 70 62 106 18 141 105 176 45M0 21 35 68 70 113 106 68 141 55 176 53"/>
<path class="k4" d="M0 101 35 99 70 40 106 42 141 35 176 61M0 65 35 88 70 52 106 55 141 16 176 102M0 30 35 51 70 118 106 51 141 58 176 70"/>
<path class="k3" d="M0 95 35 44 70 34 106 70 141 100 176 34M0 56 35 90 70 80 106 29 141 96 176 28M0 19 35 101 70 65 106 40 141 86 176 66"/>
<path class="k4" d="M0 24 35 111 70 61 106 58 141 80 176 43M0 57 35 86 70 11 106 82 141 90 176 51M0 65 35 69 70 53 106 85 141 95 176 10"/>
<path class="k1" d="M0 78 35 20 70 107 106 70 141 42 176 59M0 56 35 50 70 114 106 45 141 32 176 81M0 81 35 24 70 101 106 71 141 30 176 70M0 111 35 63 70 68 106 36 141 27 176 74"/>
<path class="k0" d="M0 48 35 117 70 75 106 46 141 34 176 58M0 106 35 79 70 59 106 23 141 37 176 74M0 19 35 66 70 88 106 45 141 103 176 57"/>
<path class="k3" d="M0 98 35 85 70 27 106 31 141 54 176 83M0 39 35 50 70 33 106 58 141 111 176 86M0 106 35 15 70 51 106 77 141 62 176 66"/>
<path class="k6" d="M0 61 35 67 70 52 106 13 141 101 176 84M0 61 35 47 70 38 106 40 141 118 176 73M0 73 35 28 70 70 106 26 141 101 176 79"/>
<path class="k5" d="M0 93 35 97 70 22 106 53 141 40 176 73M0 41 35 93 70 106 106 62 141 35 176 40M0 112 35 57 70 85 106 45 141 45 176 34"/>
<path class="k2" d="M0 50 35 76 70 87 106 7 141 80 176 78M0 95 35 8 70 66 106 73 141 56 176 79M0 117 35 49 70 71 106 63 141 30 176 47"/>
<path class="k3" d="M0 81 35 84 70 93 106 31 141 67 176 20M0 19 35 42 70 52 106 84 141 96 176 84M0 12 35 71 70 99 106 84 141 59 176 52"/>
<path class="k6" d="M0 25 35 39 70 88 106 58 141 61 176 106M0 77 35 26 70 39 106 103 141 48 176 85M0 75 35 61 70 47 106 117 141 32 176 46"/>
<path class="k0" d="M0 29 35 80 70 41 106 112 141 65 176 51M0 4 35 84 70 82 106 64 141 75 176 69M0 24 35 98 70 88 106 80 141 39 176 48"/>
<path class="k2" d="M0 29 35 68 70 93 106 99 141 30 176 59M0 27 35 58 70 112 106 65 141 40 176 76M0 46 35 35 70 107 106 40 141 56 176 94M0 84 35 29 70 22 106 91 141 82 176 71"/>
<path class="k5" d="M0 74 35 15 70 63 106 94 141 42 176 88M0 116 35 69 70 71 106 38 141 42 176 41M0 70 35 26 70 52 106 108 141 83 176 39"/>
<path class="k4" d="M0 65 35 113 70 41 106 68 141 65 176 25M0 76 35 31 70 41 106 111 141 75 176 44M0 50 35 34 70 27 106 98 141 78 176 90"/>
<path class="k1" d="M0 90 35 72 70 78 106 19 141 86 176 32M0 39 35 78 70 60 106 51 141 115 176 34M0 75 35 32 70 45 106 97 141 95 176 34"/>
<path class="k3" d="M0 87 35 92 70 66 106 8 141 68 176 57M0 84 35 51 70 86 106 57 141 87 176 11M0 82 35 110 70 28 106 43 141 48 176 66M0 90 35 70 70 11 106 50 141 65 176 91"/>
<path class="k1" d="M0 54 35 35 70 115 106 54 141 40 176 79M0 88 35 27 70 34 106 94 141 86 176 49M0 61 35 37 70 52 106 40 141 69 176 119"/>
<path class="k6" d="M0 71 35 94 70 87 106 25 141 73 176 26M0 76 35 95 70 36 106 19 141 90 176 61M0 26 35 35 70 91 106 94 141 82 176 50"/>
<path class="k2" d="M0 43 35 92 70 15 106 69 141 93 176 66M0 77 35 25 70 41 106 73 141 52 176 110M0 83 35 78 70 34 106 22 141 61 176 100"/>
<path class="k0" d="M0 46 35 96 70 56 106 50 141 103 176 27M0 74 35 85 70 107 106 36 141 34 176 42M0 65 35 84 70 46 106 109 141 51 176 24"/>
<path class="k5" d="M0 96 35 40 70 21 106 81 141 51 176 88M0 6 35 87 70 71 106 72 141 84 176 57M0 65 35 85 70 84 106 36 141 17 176 91"/>
<path class="k4" d="M0 63 35 83 70 20 106 104 141 67 176 40M0 56 35 19 70 98 106 53 141 96 176 55M0 49 35 38 70 48 106 52 141 120 176 70"/>
<path class="k1" d="M0 26 35 97 70 53 106 59 141 101 176 42M0 86 35 25 70 92 106 46 141 90 176 38M0 81 35 26 70 32 106 96 141 90 176 53"/>
<path class="k5" d="M0 25 35 39 70 77 106 50 141 82 176 105M0 83 35 72 70 66 106 7 141 92 176 57M0 52 35 71 70 103 106 46 141 85 176 19"/>
<path class="k3" d="M0 91 35 62 70 63 106 47 141 97 176 16M0 102 35 59 70 36 106 36 141 46 176 98M0 92 35 31 70 63 106 105 141 46 176 40"/>
<path class="k6" d="M0 81 35 111 70 45 106 68 141 42 176 30M0 31 35 109 70 56 106 57 141 87 176 38M0 8 35 89 70 62 106 56 141 83 176 81"/>
<path class="k4" d="M0 45 35 70 70 85 106 78 141 11 176 89M0 70 35 102 70 82 106 67 141 22 176 35M0 35 35 91 70 74 106 27 141 100 176 52M0 91 35 96 70 55 106 15 141 70 176 50"/>
<path class="k2" d="M0 62 35 71 70 75 106 6 141 69 176 94M0 5 35 80 70 60 106 72 141 90 176 70M0 67 35 44 70 49 106 23 141 101 176 93"/>
<path class="k0" d="M0 112 35 37 70 83 106 40 141 63 176 42M0 51 35 49 70 82 106 72 141 18 176 105M0 41 35 52 70 105 106 64 141 25 176 89"/>
<path class="k5" d="M0 46 35 71 70 112 106 22 141 65 176 61M0 63 35 46 70 15 106 73 141 78 176 103M0 84 35 25 70 88 106 96 141 44 176 41M0 84 35 65 70 73 106 82 141 4 176 70"/>
<path class="k3" d="M0 115 35 57 70 40 106 72 141 30 176 63M0 73 35 37 70 85 106 15 141 77 176 90M0 59 35 40 70 66 106 24 141 109 176 80"/>
<path class="k6" d="M0 38 35 52 70 40 106 114 141 49 176 84M0 36 35 53 70 80 106 44 141 48 176 116M0 42 35 88 70 16 106 96 141 62 176 73"/>
<path class="k2" d="M0 73 35 70 70 50 106 9 141 84 176 91M0 111 35 24 70 43 106 57 141 63 176 78M0 29 35 64 70 111 106 58 141 79 176 36"/>
<path class="k4" d="M0 14 35 42 70 76 106 66 141 87 176 92M0 30 35 65 70 48 106 71 141 116 176 48M0 35 35 98 70 27 106 89 141 48 176 80"/>
<path class="k1" d="M0 53 35 65 70 13 106 89 141 98 176 60M0 15 35 87 70 75 106 37 141 88 176 76M0 83 35 59 70 66 106 38 141 107 176 25"/>
<path class="k0" d="M0 80 35 81 70 19 106 31 141 77 176 90M0 57 35 76 70 93 106 94 141 25 176 32M0 71 35 34 70 79 106 43 141 39 176 111"/>
<path class="k0" d="M0 38 35 37 70 59 106 54 141 118 176 70M0 27 35 36 70 73 106 51 141 87 176 104M0 113 35 28 70 56 106 54 141 82 176 45"/>
<path class="k1" d="M0 30 35 110 70 82 106 64 141 57 176 34M0 35 35 58 70 38 106 79 141 52 176 115M0 77 35 73 70 59 106 80 141 4 176 83"/>
<path class="k4" d="M0 70 35 4 70 74 106 89 141 64 176 76M0 37 35 106 70 44 106 46 141 48 176 96M0 15 35 47 70 66 106 63 141 87 176 100"/>
<path class="k3" d="M0 31 35 48 70 118 106 63 141 51 176 67M0 35 35 26 70 67 106 77 141 109 176 64M0 67 35 55 70 33 106 36 141 71 176 115"/>
<path class="k5" d="M0 72 35 61 70 22 106 47 141 112 176 63M0 53 35 102 70 31 106 63 141 94 176 34M0 60 35 55 70 73 106 111 141 59 176 19"/>
<path class="k6" d="M0 100 35 51 70 54 106 44 141 29 176 100M0 53 35 88 70 28 106 42 141 108 176 59M0 48 35 92 70 22 106 101 141 68 176 47M0 56 35 37 70 114 106 45 141 42 176 83"/>
<path class="k2" d="M0 101 35 61 70 43 106 91 141 63 176 20M0 47 35 36 70 62 106 37 141 112 176 83M0 100 35 80 70 65 106 28 141 26 176 79"/>
<path class="k0" d="M0 111 35 42 70 81 106 39 141 69 176 35M0 120 35 52 70 55 106 34 141 65 176 51M0 62 35 67 70 86 106 6 141 69 176 88M0 24 35 53 70 98 106 56 141 47 176 99"/>
<path class="k5" d="M0 104 35 49 70 95 106 49 141 52 176 28M0 76 35 70 70 54 106 18 141 108 176 51M0 50 35 117 70 45 106 45 141 79 176 41"/>
<path class="k1" d="M0 63 35 113 70 52 106 62 141 20 176 68M0 78 35 70 70 106 106 54 141 16 176 53M0 21 35 64 70 105 106 41 141 83 176 63"/>
<path class="k4" d="M0 46 35 62 70 70 106 49 141 32 176 118M0 62 35 24 70 63 106 42 141 75 176 112M0 79 35 58 70 63 106 9 141 99 176 69"/>
<path class="k3" d="M0 63 35 59 70 76 106 88 141 85 176 6M0 112 35 21 70 67 106 60 141 47 176 69M0 30 35 75 70 61 106 40 141 58 176 115"/>
<path class="k6" d="M0 12 35 50 70 77 106 95 141 84 176 60M0 91 35 56 70 39 106 92 141 80 176 19M0 41 35 115 70 28 106 63 141 59 176 71"/>
<path class="k2" d="M0 118 35 52 70 35 106 57 141 42 176 73M0 56 35 100 70 22 106 93 141 42 176 65M0 46 35 92 70 19 106 48 141 91 176 82"/>
<path class="k5" d="M0 44 35 75 70 87 106 82 141 10 176 79M0 74 35 98 70 77 106 75 141 36 176 18M0 16 35 76 70 53 106 63 141 108 176 61"/>
<path class="k1" d="M0 85 35 84 70 91 106 62 141 41 176 15M0 93 35 7 70 76 106 63 141 79 176 59M0 72 35 31 70 40 106 48 141 74 176 113M0 81 35 90 70 6 106 59 141 72 176 69"/>
<path class="k4" d="M0 41 35 76 70 68 106 53 141 28 176 113M0 65 35 114 70 72 106 28 141 58 176 40M0 19 35 98 70 51 106 58 141 55 176 96"/>
<path class="k6" d="M0 81 35 46 70 113 106 41 141 33 176 64M0 81 35 57 70 43 106 56 141 113 176 28M0 116 35 80 70 54 106 41 141 39 176 47"/>
<path class="k2" d="M0 46 35 54 70 48 106 39 141 120 176 70M0 45 35 53 70 91 106 100 141 69 176 20M0 32 35 81 70 81 106 19 141 93 176 71"/>
<path class="k3" d="M0 22 35 48 70 67 106 70 141 56 176 113M0 30 35 54 70 36 106 67 141 81 176 110M0 83 35 11 70 53 106 65 141 99 176 67"/>
<path class="k0" d="M0 12 35 53 70 84 106 55 141 77 176 97M0 46 35 45 70 91 106 59 141 107 176 29M0 9 35 52 70 93 106 78 141 79 176 67"/>
<path class="k5" d="M0 18 35 91 70 70 106 97 141 42 176 59M0 63 35 64 70 34 106 40 141 59 176 118M0 56 35 110 70 20 106 53 141 80 176 57"/>
<path class="k4" d="M0 104 35 76 70 36 106 32 141 44 176 86M0 72 35 29 70 71 106 109 141 31 176 65M0 39 35 40 70 44 106 117 141 75 176 62"/>
<path class="k2" d="M0 67 35 37 70 54 106 42 141 120 176 57M0 99 35 24 70 58 106 76 141 33 176 86M0 25 35 88 70 107 106 52 141 59 176 46M0 13 35 104 70 51 106 65 141 68 176 75"/>
<path class="k3" d="M0 44 35 22 70 67 106 108 141 54 176 82M0 62 35 49 70 104 106 29 141 93 176 40M0 87 35 35 70 67 106 90 141 81 176 17"/>
<path class="k0" d="M0 44 35 100 70 84 106 70 141 15 176 64M0 66 35 63 70 57 106 117 141 27 176 47M0 72 35 96 70 39 106 96 141 26 176 48"/>
<path class="k6" d="M0 38 35 61 70 66 106 59 141 118 176 35M0 95 35 77 70 16 106 67 141 84 176 38M0 55 35 75 70 14 106 60 141 106 176 69"/>
<path class="k1" d="M0 37 35 66 70 117 106 70 141 36 176 52M0 64 35 91 70 48 106 11 141 75 176 88M0 91 35 53 70 16 106 64 141 100 176 54"/>
<path class="k0" d="M0 112 35 21 70 73 106 57 141 62 176 52M0 30 35 86 70 49 106 36 141 70 176 107M0 102 35 37 70 83 106 68 141 20 176 69"/>
<path class="k2" d="M0 49 35 67 70 115 106 40 141 33 176 74M0 85 35 75 70 94 106 47 141 12 176 66M0 112 35 61 70 67 106 18 141 59 176 61"/>
<path class="k4" d="M0 57 35 87 70 24 106 76 141 33 176 100M0 65 35 61 70 8 106 87 141 63 176 93M0 25 35 97 70 87 106 76 141 30 176 63"/>
<path class="k3" d="M0 74 35 38 70 50 106 91 141 25 176 99M0 49 35 36 70 69 106 42 141 63 176 119M0 52 35 92 70 65 106 22 141 102 176 45M0 59 35 85 70 61 106 32 141 32 176 109"/>
<path class="k5" d="M0 56 35 75 70 19 106 108 141 49 176 71M0 92 35 84 70 19 106 32 141 78 176 72M0 88 35 39 70 72 106 66 141 96 176 17"/>
<path class="k1" d="M0 91 35 94 70 85 106 40 141 37 176 31M0 74 35 97 70 46 106 87 141 15 176 60M0 52 35 71 70 10 106 63 141 92 176 90"/>
<path class="k6" d="M0 46 35 70 70 38 106 99 141 96 176 29M0 58 35 58 70 26 106 117 141 65 176 54M0 91 35 15 70 78 106 92 141 47 176 53"/>
<path class="k0" d="M0 58 35 112 70 62 106 20 141 53 176 72M0 37 35 36 70 63 106 48 141 78 176 114M0 19 35 74 70 87 106 61 141 98 176 38"/>
<path class="k5" d="M0 87 35 101 70 30 106 39 141 80 176 41M0 80 35 90 70 20 106 90 141 34 176 63M0 19 35 59 70 44 106 87 141 102 176 68"/>
<path class="k3" d="M0 106 35 80 70 80 106 44 141 31 176 36M0 33 35 109 70 43 106 89 141 44 176 60M0 85 35 48 70 9 106 76 141 75 176 85"/>
<path class="k6" d="M0 40 35 86 70 13 106 83 141 70 176 86M0 94 35 102 70 55 106 56 141 47 176 23M0 52 35 82 70 90 106 11 141 57 176 86"/>
<path class="k2" d="M0 44 35 56 70 104 106 90 141 23 176 60M0 40 35 63 70 115 106 28 141 59 176 71M0 104 35 74 70 64 106 51 141 71 176 13"/>
<path class="k1" d="M0 19 35 102 70 39 106 82 141 64 176 71M0 18 35 105 70 57 106 53 141 60 176 85M0 86 35 80 70 49 106 66 141 9 176 88"/>
<path class="k4" d="M0 88 35 63 70 35 106 107 141 54 176 30M0 51 35 33 70 70 106 111 141 35 176 78M0 43 35 94 70 85 106 89 141 46 176 22M0 55 35 74 70 51 106 91 141 13 176 93"/>
<path class="k0" d="M0 110 35 74 70 35 106 67 141 67 176 26M0 79 35 80 70 26 106 24 141 76 176 92M0 92 35 101 70 25 106 52 141 69 176 38"/>
<path class="k3" d="M0 47 35 81 70 52 106 32 141 51 176 115M0 78 35 90 70 5 106 73 141 61 176 70M0 70 35 92 70 78 106 48 141 10 176 80"/>
<path class="k6" d="M0 58 35 42 70 95 106 22 141 99 176 61M0 52 35 30 70 111 106 54 141 44 176 86M0 82 35 43 70 107 106 74 141 27 176 44"/>
<path class="k2" d="M0 96 35 23 70 89 106 74 141 32 176 64M0 97 35 46 70 20 106 97 141 59 176 58M0 56 35 101 70 40 106 78 141 20 176 83"/>
<path class="k4" d="M0 54 35 66 70 87 106 37 141 106 176 27M0 65 35 79 70 37 106 21 141 72 176 104M0 86 35 36 70 31 106 73 141 46 176 106"/>
<path class="k1" d="M0 58 35 30 70 108 106 45 141 46 176 90M0 19 35 92 70 47 106 73 141 97 176 48M0 56 35 100 70 11 106 59 141 70 176 81"/>
<path class="k5" d="M0 29 35 40 70 57 106 94 141 105 176 53M0 82 35 15 70 64 106 104 141 60 176 53M0 69 35 103 70 84 106 42 141 18 176 61M0 89 35 43 70 14 106 84 141 87 176 60"/>
<path class="k2" d="M0 100 35 62 70 79 106 12 141 52 176 72M0 97 35 100 70 31 106 53 141 62 176 34M0 33 35 49 70 64 106 99 141 98 176 35"/>
<path class="k6" d="M0 31 35 54 70 100 106 59 141 36 176 98M0 68 35 44 70 13 106 86 141 70 176 96M0 33 35 91 70 68 106 51 141 103 176 31M0 53 35 75 70 75 106 98 141 67 176 10"/>
<path class="k1" d="M0 65 35 87 70 84 106 69 141 66 176 5M0 71 35 76 70 31 106 111 141 56 176 33M0 21 35 79 70 79 106 102 141 38 176 59"/>
<path class="k4" d="M0 30 35 45 70 69 106 115 141 47 176 71M0 115 35 33 70 47 106 80 141 58 176 44M0 88 35 44 70 29 106 64 141 45 176 108"/>
<path class="k0" d="M0 110 35 44 70 50 106 28 141 59 176 86M0 30 35 56 70 77 106 111 141 69 176 35M0 78 35 69 70 62 106 5 141 74 176 89"/>
<path class="k3" d="M0 60 35 86 70 106 106 34 141 64 176 27M0 64 35 101 70 93 106 57 141 35 176 27M0 63 35 23 70 87 106 80 141 94 176 30"/>
<path class="k5" d="M0 46 35 69 70 92 106 102 141 45 176 25M0 21 35 104 70 56 106 77 141 79 176 40M0 66 35 109 70 48 106 53 141 79 176 22"/>
<path class="k3" d="M0 63 35 33 70 50 106 120 141 49 176 63M0 5 35 89 70 63 106 82 141 65 176 73M0 112 35 50 70 86 106 33 141 53 176 43"/>
<path class="k4" d="M0 104 35 52 70 90 106 46 141 23 176 63M0 91 35 25 70 26 106 70 141 87 176 79M0 63 35 115 70 55 106 37 141 74 176 33"/>
<path class="k2" d="M0 117 35 38 70 42 106 73 141 65 176 43M0 96 35 88 70 64 106 33 141 75 176 22M0 31 35 99 70 100 106 51 141 37 176 58"/>
<path class="k1" d="M0 109 35 72 70 22 106 64 141 39 176 71M0 21 35 54 70 102 106 48 141 92 176 61M0 105 35 78 70 37 106 21 141 75 176 62"/>
<path class="k5" d="M0 104 35 74 70 15 106 57 141 77 176 51M0 62 35 45 70 67 106 48 141 119 176 36M0 83 35 16 70 44 106 98 141 59 176 78"/>
<path class="k6" d="M0 36 35 50 70 29 106 108 141 78 176 77M0 29 35 56 70 83 106 36 141 64 176 109M0 76 35 53 70 19 106 68 141 52 176 109"/>
<path class="k0" d="M0 99 35 44 70 91 106 25 141 43 176 76M0 61 35 104 70 65 106 88 141 32 176 28M0 104 35 54 70 67 106 16 141 53 176 83M0 65 35 27 70 39 106 52 141 89 176 105"/>
<path class="k0" d="M0 103 35 77 70 33 106 25 141 81 176 58M0 56 35 22 70 112 106 77 141 51 176 60M0 91 35 37 70 98 106 32 141 39 176 79"/>
<path class="k6" d="M0 101 35 61 70 10 106 74 141 73 176 60M0 32 35 33 70 103 106 49 141 92 176 68M0 28 35 25 70 80 106 87 141 93 176 64"/>
<path class="k2" d="M0 98 35 28 70 88 106 38 141 83 176 43M0 81 35 27 70 103 106 29 141 66 176 72M0 102 35 30 70 69 106 86 141 63 176 27"/>
<path class="k3" d="M0 79 35 90 70 55 106 19 141 95 176 41M0 53 35 82 70 86 106 82 141 66 176 7M0 41 35 91 70 69 106 18 141 96 176 61"/>
<path class="k4" d="M0 54 35 56 70 13 106 97 141 68 176 90M0 95 35 47 70 52 106 25 141 55 176 103M0 76 35 15 70 76 106 36 141 85 176 89"/>
<path class="k1" d="M0 62 35 91 70 89 106 38 141 81 176 17M0 63 35 64 70 28 106 53 141 51 176 118M0 101 35 24 70 91 106 53 141 70 176 39M0 59 35 31 70 47 106 116 141 48 176 75"/>
<path class="k5" d="M0 90 35 89 70 11 106 78 141 50 176 59M0 9 35 82 70 51 106 90 141 82 176 64M0 37 35 48 70 115 106 47 141 47 176 83"/>
<path class="k3" d="M0 83 35 76 70 48 106 11 141 94 176 64M0 106 35 26 70 56 106 57 141 42 176 91M0 37 35 45 70 48 106 101 141 102 176 45"/>
<path class="k6" d="M0 75 35 95 70 59 106 30 141 92 176 26M0 13 35 56 70 48 106 90 141 87 176 83M0 66 35 23 70 115 106 64 141 55 176 54"/>
<path class="k5" d="M0 19 35 61 70 51 106 100 141 94 176 54M0 19 35 45 70 94 106 78 141 49 176 92M0 42 35 88 70 75 106 71 141 88 176 12"/>
<path class="k4" d="M0 61 35 75 70 31 106 25 141 100 176 86M0 87 35 52 70 48 106 78 141 97 176 16M0 76 35 24 70 107 106 39 141 54 176 77"/>
<path class="k2" d="M0 71 35 93 70 69 106 11 141 46 176 86M0 35 35 105 70 46 106 95 141 56 176 40M0 82 35 45 70 52 106 103 141 76 176 19M0 48 35 53 70 103 106 99 141 33 176 43"/>
<path class="k0" d="M0 38 35 114 70 72 106 74 141 41 176 39M0 64 35 89 70 90 106 62 141 66 176 7M0 89 35 60 70 5 106 71 141 71 176 81"/>
<path class="k1" d="M0 99 35 100 70 27 106 56 141 46 176 49M0 68 35 98 70 62 106 9 141 81 176 60M0 18 35 41 70 68 106 64 141 100 176 86"/>
<path class="k3" d="M0 104 35 50 70 21 106 68 141 46 176 88"/>
<path class="k0" d="M0 72 35 34 70 48 106 84 141 107 176 32"/>
<path class="k1" d="M0 55 35 19 70 78 106 41 141 99 176 85"/>
<path class="k4" d="M0 45 35 87 70 90 106 69 141 11 176 76"/>
<path class="k5" d="M0 85 35 45 70 51 106 17 141 86 176 93"/>
<path class="k6" d="M0 69 35 46 70 47 106 24 141 107 176 85"/>
</g>
<rect class="bx" x="81.55" y="213.4" width="88" height="62.9"/>
<g style="stroke-width:3" transform="translate(81.55,300) scale(.5)">
<path class="k4" d="M0 38 35 106 70 63 106 93 141 35 176 43M0 64 35 43 70 71 106 40 141 41 176 118M0 72 35 41 70 15 106 97 141 72 176 82"/>
<path class="k5" d="M0 89 35 26 70 92 106 30 141 56 176 84M0 73 35 53 70 42 106 29 141 115 176 67M0 32 35 116 70 49 106 53 141 78 176 50"/>
<path class="k3" d="M0 37 35 100 70 100 106 31 141 55 176 56M0 45 35 61 70 104 106 31 141 42 176 95M0 74 35 41 70 114 106 37 141 73 176 39"/>
<path class="k2" d="M0 88 35 82 70 10 106 75 141 77 176 45M0 43 35 33 70 76 106 116 141 63 176 48M0 51 35 51 70 105 106 71 141 82 176 18"/>
<path class="k6" d="M0 89 35 55 70 43 106 72 141 19 176 100M0 50 35 37 70 25 106 93 141 78 176 96M0 96 35 34 70 54 106 24 141 82 176 88"/>
<path class="k0" d="M0 101 35 81 70 51 106 19 141 82 176 45M0 40 35 40 70 88 106 32 141 73 176 105M0 45 35 91 70 37 106 43 141 52 176 110M0 39 35 115 70 42 106 78 141 63 176 40"/>
<path class="k1" d="M0 58 35 70 70 28 106 31 141 102 176 89M0 95 35 83 70 48 106 91 141 30 176 31M0 82 35 33 70 107 106 67 141 62 176 28"/>
<path class="k1" d="M0 65 35 23 70 52 106 97 141 43 176 98M0 102 35 11 70 63 106 61 141 65 176 76M0 78 35 59 70 106 106 39 141 22 176 74M0 53 35 56 70 22 106 60 141 113 176 75"/>
<path class="k6" d="M0 67 35 16 70 106 106 57 141 52 176 81M0 62 35 42 70 56 106 94 141 24 176 101M0 32 35 77 70 45 106 110 141 76 176 38"/>
<path class="k2" d="M0 50 35 94 70 80 106 9 141 71 176 74M0 100 35 26 70 59 106 70 141 32 176 91M0 116 35 81 70 46 106 41 141 53 176 40"/>
<path class="k3" d="M0 73 35 66 70 16 106 91 141 92 176 40M0 41 35 61 70 90 106 37 141 109 176 41M0 76 35 104 70 37 106 21 141 78 176 63"/>
<path class="k0" d="M0 78 35 23 70 105 106 75 141 64 176 34M0 51 35 27 70 118 106 61 141 59 176 62M0 77 35 59 70 110 106 20 141 47 176 65"/>
<path class="k5" d="M0 95 35 84 70 60 106 23 141 32 176 84M0 53 35 82 70 79 106 39 141 22 176 102M0 62 35 99 70 28 106 53 141 38 176 98"/>
<path class="k4" d="M0 105 35 64 70 14 106 52 141 68 176 76M0 100 35 53 70 18 106 48 141 90 176 69M0 81 35 40 70 59 106 20 141 104 176 74"/>
<path class="k3" d="M0 102 35 86 70 48 106 69 141 56 176 17M0 57 35 66 70 16 106 72 141 109 176 58M0 34 35 38 70 103 106 57 141 97 176 49"/>
<path class="k1" d="M0 25 35 74 70 76 106 28 141 101 176 73M0 68 35 117 70 63 106 28 141 54 176 47M0 30 35 86 70 52 106 29 141 96 176 86"/>
<path class="k0" d="M0 15 35 82 70 39 106 93 141 67 176 82M0 41 35 79 70 103 106 43 141 85 176 27M0 80 35 106 70 56 106 71 141 46 176 19"/>
<path class="k6" d="M0 46 35 44 70 103 106 29 141 96 176 60M0 41 35 94 70 26 106 103 141 54 176 59M0 79 35 66 70 110 106 59 141 29 176 34"/>
<path class="k2" d="M0 20 35 57 70 109 106 55 141 81 176 55M0 17 35 74 70 87 106 97 141 40 176 63M0 54 35 85 70 113 106 42 141 34 176 50M0 11 35 56 70 80 106 92 141 54 176 86"/>
<path class="k4" d="M0 55 35 27 70 68 106 71 141 43 176 114M0 61 35 55 70 116 106 22 141 62 176 62M0 73 35 64 70 29 106 55 141 115 176 42"/>
<path class="k5" d="M0 117 35 32 70 68 106 38 141 62 176 62M0 100 35 43 70 58 106 19 141 68 176 90M0 106 35 23 70 46 106 47 141 74 176 83"/>
<path class="k3" d="M0 54 35 87 70 36 106 43 141 112 176 46M0 74 35 101 70 39 106 19 141 83 176 62M0 31 35 84 70 26 106 94 141 88 176 54M0 37 35 88 70 69 106 81 141 87 176 16"/>
<path class="k1" d="M0 94 35 42 70 70 106 15 141 67 176 90M0 82 35 75 70 102 106 58 141 18 176 42M0 97 35 34 70 48 106 81 141 90 176 28"/>
<path class="k5" d="M0 51 35 48 70 75 106 47 141 119 176 39M0 49 35 54 70 66 106 17 141 94 176 97M0 25 35 38 70 64 106 66 141 112 176 73"/>
<path class="k0" d="M0 78 35 64 70 96 106 20 141 86 176 35M0 17 35 48 70 58 106 102 141 65 176 88M0 86 35 39 70 20 106 97 141 80 176 55"/>
<path class="k6" d="M0 99 35 61 70 64 106 59 141 85 176 11M0 73 35 20 70 112 106 57 141 54 176 63M0 90 35 27 70 43 106 106 141 49 176 64"/>
<path class="k2" d="M0 42 35 85 70 79 106 34 141 103 176 34M0 56 35 113 70 33 106 33 141 67 176 75M0 36 35 62 70 119 106 42 141 70 176 50"/>
<path class="k4" d="M0 90 35 17 70 53 106 75 141 46 176 96M0 26 35 28 70 60 106 88 141 95 176 81M0 98 35 53 70 37 106 94 141 25 176 71"/>
<path class="k1" d="M0 36 35 113 70 33 106 80 141 61 176 55M0 31 35 105 70 26 106 66 141 77 176 73M0 83 35 56 70 56 106 64 141 104 176 15"/>
<path class="k3" d="M0 53 35 13 70 67 106 105 141 69 176 70M0 103 35 67 70 94 106 47 141 30 176 38M0 85 35 72 70 39 106 68 141 17 176 97"/>
<path class="k0" d="M0 104 35 62 70 84 106 19 141 66 176 42M0 87 35 31 70 58 106 80 141 97 176 25M0 56 35 39 70 90 106 109 141 34 176 50"/>
<path class="k2" d="M0 50 35 52 70 16 106 71 141 94 176 95M0 78 35 41 70 69 106 111 141 27 176 53M0 69 35 68 70 8 106 98 141 75 176 60"/>
<path class="k5" d="M0 86 35 45 70 14 106 60 141 92 176 81M0 96 35 53 70 89 106 15 141 49 176 76M0 40 35 65 70 93 106 20 141 63 176 98"/>
<path class="k4" d="M0 38 35 113 70 52 106 80 141 32 176 62M0 52 35 71 70 115 106 66 141 27 176 47M0 81 35 86 70 45 106 69 141 11 176 86M0 57 35 106 70 67 106 84 141 22 176 41"/>
<path class="k6" d="M0 37 35 109 70 59 106 65 141 81 176 27M0 34 35 92 70 43 106 63 141 106 176 39M0 79 35 38 70 107 106 27 141 48 176 78"/>
<path class="k5" d="M0 60 35 28 70 38 106 55 141 89 176 107M0 104 35 52 70 31 106 92 141 66 176 34M0 94 35 53 70 80 106 52 141 13 176 86M0 106 35 67 70 21 106 38 141 69 176 78"/>
<path class="k2" d="M0 77 35 82 70 40 106 14 141 92 176 73M0 49 35 96 70 53 106 64 141 19 176 97M0 50 35 79 70 99 106 17 141 48 176 84"/>
<path class="k4" d="M0 80 35 31 70 109 106 34 141 50 176 74M0 17 35 96 70 90 106 75 141 47 176 52M0 71 35 14 70 42 106 92 141 68 176 90"/>
<path class="k6" d="M0 57 35 66 70 75 106 64 141 104 176 12M0 75 35 48 70 117 106 41 141 36 176 60M0 114 35 51 70 70 106 35 141 35 176 74"/>
<path class="k3" d="M0 106 35 51 70 62 106 15 141 69 176 76M0 42 35 55 70 96 106 37 141 42 176 105M0 97 35 67 70 91 106 17 141 42 176 64"/>
<path class="k0" d="M0 89 35 76 70 43 106 102 141 34 176 33M0 63 35 95 70 86 106 72 141 10 176 54M0 78 35 56 70 55 106 114 141 26 176 49"/>
<path class="k1" d="M0 61 35 82 70 66 106 103 141 15 176 51M0 94 35 35 70 38 106 91 141 86 176 34M0 72 35 60 70 111 106 73 141 32 176 30"/>
<path class="k2" d="M0 31 35 48 70 111 106 47 141 53 176 87M0 102 35 86 70 68 106 48 141 17 176 58M0 24 35 81 70 68 106 88 141 27 176 90"/>
<path class="k5" d="M0 79 35 102 70 54 106 83 141 25 176 35M0 24 35 83 70 64 106 46 141 50 176 109M0 45 35 38 70 119 106 51 141 74 176 52"/>
<path class="k6" d="M0 59 35 42 70 94 106 102 141 24 176 57M0 95 35 28 70 103 106 63 141 47 176 42M0 39 35 44 70 61 106 36 141 110 176 87M0 69 35 42 70 45 106 49 141 121 176 51"/>
<path class="k0" d="M0 36 35 81 70 40 106 110 141 73 176 38M0 98 35 41 70 37 106 33 141 98 176 71M0 77 35 21 70 82 106 37 141 102 176 59"/>
<path class="k4" d="M0 28 35 39 70 54 106 91 141 59 176 106M0 89 35 50 70 9 106 64 141 81 176 84M0 34 35 38 70 53 106 55 141 86 176 111"/>
<path class="k3" d="M0 101 35 32 70 35 106 42 141 86 176 81M0 30 35 82 70 113 106 56 141 40 176 57M0 68 35 47 70 33 106 47 141 64 176 119"/>
<path class="k1" d="M0 31 35 76 70 35 106 83 141 106 176 46M0 78 35 90 70 27 106 98 141 31 176 54M0 59 35 50 70 40 106 52 141 54 176 123"/>
<path class="k4" d="M0 47 35 31 70 78 106 47 141 60 176 115M0 71 35 40 70 16 106 93 141 66 176 92M0 77 35 20 70 67 106 85 141 34 176 95"/>
<path class="k6" d="M0 6 35 69 70 68 106 88 141 60 176 86M0 73 35 22 70 104 106 87 141 48 176 44M0 46 35 28 70 70 106 39 141 97 176 98"/>
<path class="k3" d="M0 22 35 76 70 39 106 74 141 60 176 107M0 80 35 62 70 95 106 57 141 8 176 75M0 58 35 56 70 116 106 30 141 44 176 74"/>
<path class="k2" d="M0 89 35 45 70 98 106 19 141 78 176 49M0 62 35 22 70 103 106 89 141 40 176 61M0 27 35 104 70 29 106 69 141 72 176 78"/>
<path class="k1" d="M0 85 35 36 70 52 106 45 141 114 176 46M0 68 35 81 70 24 106 95 141 28 176 82M0 68 35 93 70 15 106 96 141 55 176 50"/>
<path class="k0" d="M0 65 35 95 70 49 106 101 141 44 176 24M0 84 35 56 70 80 106 10 141 92 176 56M0 63 35 61 70 10 106 69 141 73 176 103M0 40 35 97 70 21 106 53 141 91 176 75"/>
<path class="k5" d="M0 48 35 21 70 72 106 109 141 52 176 76M0 46 35 35 70 45 106 95 141 107 176 50M0 68 35 88 70 72 106 23 141 31 176 97"/>
<path class="k1" d="M0 80 35 68 70 58 106 70 141 95 176 7M0 34 35 52 70 99 106 39 141 102 176 51M0 62 35 100 70 64 106 34 141 92 176 25M0 120 35 53 70 41 106 60 141 67 176 38"/>
<path class="k6" d="M0 83 35 52 70 101 106 50 141 76 176 16M0 104 35 37 70 85 106 64 141 23 176 64M0 73 35 21 70 95 106 93 141 37 176 58"/>
<path class="k0" d="M0 63 35 89 70 73 106 63 141 84 176 6M0 51 35 87 70 47 106 76 141 100 176 18M0 20 35 56 70 43 106 88 141 102 176 69"/>
<path class="k5" d="M0 69 35 98 70 13 106 74 141 79 176 45M0 45 35 62 70 24 106 51 141 89 176 107M0 88 35 73 70 94 106 20 141 33 176 70"/>
<path class="k3" d="M0 23 35 68 70 67 106 106 141 79 176 34M0 69 35 34 70 50 106 31 141 100 176 95M0 45 35 21 70 58 106 61 141 103 176 90"/>
<path class="k4" d="M0 88 35 51 70 40 106 76 141 22 176 100M0 8 35 73 70 78 106 69 141 53 176 95M0 63 35 56 70 54 106 44 141 39 176 122"/>
<path class="k2" d="M0 29 35 78 70 26 106 65 141 101 176 80M0 60 35 78 70 85 106 81 141 4 176 69M0 49 35 18 70 81 106 51 141 104 176 76"/>
<path class="k1" d="M0 51 35 97 70 10 106 71 141 80 176 69M0 40 35 18 70 91 106 60 141 77 176 93M0 113 35 39 70 51 106 53 141 85 176 36"/>
<path class="k4" d="M0 38 35 101 70 70 106 94 141 47 176 29M0 32 35 55 70 75 106 34 141 69 176 113M0 71 35 43 70 95 106 83 141 73 176 13"/>
<path class="k0" d="M0 39 35 61 70 108 106 63 141 24 176 84M0 55 35 95 70 31 106 26 141 80 176 91M0 109 35 86 70 43 106 58 141 55 176 27"/>
<path class="k2" d="M0 100 35 59 70 10 106 69 141 61 176 79M0 109 35 90 70 44 106 58 141 39 176 37M0 80 35 50 70 60 106 66 141 106 176 16M0 52 35 57 70 111 106 76 141 63 176 19"/>
<path class="k3" d="M0 53 35 53 70 60 106 25 141 116 176 71M0 82 35 56 70 36 106 21 141 92 176 92M0 79 35 47 70 87 106 27 141 101 176 38"/>
<path class="k5" d="M0 30 35 66 70 111 106 75 141 63 176 32M0 83 35 73 70 38 106 17 141 69 176 98M0 114 35 47 70 83 106 47 141 34 176 53"/>
<path class="k6" d="M0 105 35 47 70 98 106 39 141 45 176 44M0 82 35 104 70 76 106 44 141 52 176 20M0 36 35 35 70 72 106 56 141 117 176 62"/>
<path class="k6" d="M0 92 35 27 70 86 106 52 141 31 176 90M0 50 35 86 70 111 106 29 141 56 176 46M0 58 35 17 70 62 106 99 141 92 176 49"/>
<path class="k5" d="M0 121 35 36 70 60 106 63 141 46 176 53M0 56 35 102 70 55 106 36 141 97 176 32M0 74 35 119 70 45 106 36 141 54 176 51"/>
<path class="k3" d="M0 9 35 68 70 70 106 66 141 63 176 102M0 62 35 104 70 86 106 26 141 33 176 68M0 72 35 34 70 23 106 105 141 75 176 69M0 36 35 79 70 22 106 80 141 102 176 59"/>
<path class="k2" d="M0 85 35 70 70 102 106 49 141 54 176 17M0 71 35 30 70 37 106 63 141 62 176 115M0 41 35 40 70 116 106 62 141 42 176 77"/>
<path class="k0" d="M0 61 35 89 70 32 106 74 141 98 176 24M0 62 35 77 70 29 106 81 141 28 176 102M0 35 35 43 70 41 106 61 141 110 176 87"/>
<path class="k1" d="M0 64 35 108 70 58 106 82 141 21 176 45M0 72 35 85 70 18 106 92 141 77 176 34M0 93 35 45 70 78 106 28 141 37 176 98"/>
<path class="k4" d="M0 17 35 86 70 92 106 37 141 81 176 65M0 58 35 59 70 52 106 112 141 21 176 76M0 17 35 47 70 82 106 80 141 53 176 100"/>
<path class="k0" d="M0 62 35 80 70 106 106 42 141 19 176 69M0 32 35 59 70 82 106 33 141 62 176 110M0 33 35 117 70 74 106 51 141 62 176 41"/>
<path class="k5" d="M0 69 35 71 70 84 106 80 141 71 176 3M0 70 35 76 70 17 106 35 141 87 176 92M0 100 35 16 70 39 106 75 141 77 176 71"/>
<path class="k6" d="M0 10 35 92 70 46 106 81 141 70 176 77M0 83 35 44 70 32 106 65 141 112 176 44M0 74 35 30 70 74 106 68 141 26 176 105"/>
<path class="k2" d="M0 100 35 43 70 51 106 102 141 34 176 49M0 34 35 102 70 62 106 26 141 91 176 63M0 107 35 39 70 77 106 73 141 22 176 59"/>
<path class="k3" d="M0 34 35 25 70 70 106 108 141 71 176 70M0 76 35 35 70 106 106 82 141 49 176 29M0 84 35 30 70 107 106 35 141 50 176 73"/>
<path class="k4" d="M0 14 35 41 70 76 106 93 141 72 176 82M0 22 35 32 70 94 106 92 141 72 176 66M0 64 35 62 70 32 106 51 141 49 176 120M0 82 35 92 70 30 106 95 141 32 176 47"/>
<path class="k1" d="M0 23 35 80 70 37 106 106 141 70 176 62M0 57 35 104 70 27 106 44 141 94 176 53M0 72 35 46 70 89 106 57 141 97 176 16"/>
<path class="k0" d="M0 20 35 94 70 85 106 69 141 32 176 77M0 48 35 51 70 39 106 51 141 70 176 121M0 70 35 112 70 80 106 42 141 40 176 35"/>
<path class="k6" d="M0 83 35 62 70 76 106 91 141 60 176 7M0 30 35 43 70 39 106 102 141 92 176 73M0 64 35 81 70 32 106 91 141 21 176 89"/>
<path class="k2" d="M0 40 35 70 70 63 106 26 141 66 176 113M0 96 35 80 70 65 106 8 141 71 176 58M0 60 35 24 70 53 106 44 141 105 176 91"/>
<path class="k4" d="M0 106 35 72 70 74 106 42 141 18 176 66M0 58 35 75 70 34 106 34 141 114 176 63M0 68 35 41 70 45 106 117 141 71 176 36"/>
<path class="k3" d="M0 106 35 38 70 77 106 26 141 81 176 49M0 67 35 54 70 35 106 88 141 105 176 28M0 89 35 71 70 69 106 51 141 88 176 9"/>
<path class="k5" d="M0 85 35 93 70 9 106 66 141 54 176 71M0 111 35 24 70 73 106 65 141 65 176 39M0 24 35 83 70 71 106 30 141 70 176 100M0 104 35 25 70 66 106 55 141 38 176 90"/>
<path class="k1" d="M0 72 35 71 70 43 106 15 141 75 176 102M0 34 35 46 70 119 106 51 141 56 176 72M0 83 35 72 70 65 106 43 141 100 176 16"/>
<path class="k2" d="M0 27 35 88 70 89 106 49 141 34 176 92M0 77 35 55 70 66 106 19 141 110 176 51M0 37 35 90 70 52 106 22 141 88 176 89"/>
<path class="k0" d="M0 52 35 77 70 104 106 64 141 13 176 67M0 37 35 41 70 52 106 120 141 61 176 66M0 67 35 94 70 55 106 55 141 13 176 93"/>
<path class="k1" d="M0 53 35 78 70 17 106 109 141 60 176 61M0 73 35 92 70 75 106 80 141 8 176 51M0 34 35 80 70 42 106 112 141 69 176 41"/>
<path class="k6" d="M0 70 35 86 70 88 106 60 141 6 176 67M0 76 35 24 70 35 106 89 141 99 176 54M0 56 35 66 70 119 106 30 141 47 176 61M0 86 35 46 70 14 106 87 141 88 176 57"/>
<path class="k3" d="M0 92 35 34 70 17 106 74 141 79 176 80M0 42 35 49 70 68 106 31 141 71 176 116M0 35 35 73 70 21 106 80 141 102 176 67"/>
<path class="k5" d="M0 106 35 32 70 50 106 46 141 95 176 49M0 104 35 50 70 37 106 93 141 65 176 30M0 36 35 30 70 80 106 81 141 105 176 45"/>
<path class="k4" d="M0 25 35 85 70 102 106 70 141 31 176 65M0 109 35 76 70 57 106 43 141 22 176 72M0 23 35 94 70 68 106 61 141 97 176 35"/>
<path class="k0" d="M0 20 35 100 70 50 106 80 141 83 176 44M0 69 35 91 70 77 106 89 141 24 176 28M0 61 35 43 70 45 106 118 141 37 176 74M0 44 35 86 70 74 106 106 141 37 176 31"/>
<path class="k5" d="M0 107 35 82 70 22 106 41 141 63 176 64M0 20 35 61 70 41 106 100 141 65 176 91M0 73 35 74 70 3 106 66 141 87 176 76"/>
<path class="k2" d="M0 71 35 110 70 59 106 75 141 27 176 36M0 27 35 39 70 64 106 52 141 94 176 102M0 50 35 32 70 83 106 93 141 28 176 92"/>
<path class="k1" d="M0 89 35 102 70 17 106 51 141 63 176 56M0 60 35 71 70 76 106 22 141 108 176 41M0 69 35 12 70 61 106 93 141 92 176 51"/>
<path class="k6" d="M0 108 35 32 70 40 106 90 141 48 176 61M0 41 35 19 70 62 106 105 141 77 176 74M0 18 35 87 70 83 106 92 141 58 176 40"/>
<path class="k3" d="M0 54 35 79 70 71 106 88 141 6 176 79M0 51 35 78 70 35 106 30 141 109 176 76M0 9 35 64 70 64 106 85 141 61 176 95"/>
<path class="k4" d="M0 39 35 16 70 94 106 79 141 66 176 84M0 79 35 85 70 95 106 65 141 33 176 21M0 98 35 56 70 96 106 23 141 39 176 66"/>
<path class="k2" d="M0 93 35 87 70 40 106 17 141 83 176 57M0 59 35 91 70 60 106 78 141 7 176 82M0 43 35 109 70 39 106 43 141 92 176 51"/>
<path class="k1" d="M0 29 35 63 70 34 106 68 141 71 176 112M0 56 35 55 70 83 106 100 141 12 176 73M0 46 35 25 70 114 106 52 141 68 176 73M0 71 35 107 70 68 106 62 141 14 176 55"/>
<path class="k0" d="M0 47 35 122 70 59 106 37 141 57 176 57M0 70 35 10 70 89 106 85 141 78 176 47M0 62 35 58 70 97 106 60 141 12 176 89"/>
<path class="k4" d="M0 69 35 71 70 71 106 39 141 107 176 20M0 97 35 10 70 65 106 86 141 57 176 62M0 89 35 27 70 45 106 100 141 38 176 79"/>
<path class="k5" d="M0 98 35 46 70 37 106 72 141 96 176 29M0 97 35 13 70 75 106 82 141 45 176 66M0 67 35 39 70 72 106 89 141 17 176 95"/>
<path class="k6" d="M0 109 35 41 70 42 106 78 141 78 176 31M0 7 35 89 70 58 106 71 141 67 176 86M0 28 35 89 70 45 106 50 141 57 176 109"/>
<path class="k3" d="M0 19 35 62 70 101 106 62 141 90 176 44M0 86 35 42 70 37 106 112 141 58 176 43M0 13 35 74 70 43 106 69 141 88 176 91"/>
<path class="k4" d="M0 55 35 101 70 20 106 41 141 75 176 85M0 53 35 122 70 45 106 56 141 40 176 62M0 52 35 58 70 25 106 107 141 90 176 47"/>
<path class="k1" d="M0 81 35 107 70 38 106 24 141 71 176 56M0 20 35 103 70 49 106 46 141 82 176 78M0 49 35 58 70 35 106 113 141 84 176 39"/>
<path class="k6" d="M0 61 35 40 70 57 106 34 141 119 176 68M0 108 35 45 70 57 106 38 141 37 176 92M0 42 35 23 70 99 106 54 141 67 176 94"/>
<path class="k3" d="M0 36 35 61 70 29 106 110 141 60 176 83M0 115 35 66 70 62 106 47 141 23 176 64M0 69 35 103 70 38 106 45 141 92 176 30"/>
<path class="k0" d="M0 79 35 54 70 62 106 94 141 79 176 9M0 54 35 26 70 79 106 76 141 107 176 37M0 70 35 108 70 80 106 23 141 52 176 45"/>
<path class="k2" d="M0 54 35 24 70 97 106 34 141 83 176 86M0 103 35 77 70 22 106 35 141 62 176 79M0 104 35 94 70 56 106 37 141 58 176 29M0 84 35 76 70 29 106 20 141 81 176 87"/>
<path class="k5" d="M0 100 35 13 70 71 106 80 141 48 176 66M0 60 35 27 70 97 106 54 141 40 176 101M0 65 35 85 70 14 106 43 141 95 176 77"/>
<path class="k4" d="M0 25 35 73 70 90 106 84 141 25 176 81"/>
<path class="k5" d="M0 106 35 38 70 54 106 96 141 42 176 42"/>
<path class="k6" d="M0 62 35 76 70 33 106 113 141 33 176 60"/>
<path class="k0" d="M0 50 35 102 70 22 106 89 141 72 176 43"/>
<path class="k1" d="M0 67 35 61 70 116 106 62 141 43 176 28"/>
<path class="k3" d="M0 42 35 61 70 119 106 41 141 43 176 72"/>
</g>
<rect class="bx" x="81.55" y="300" width="88" height="63"/>
<path class="k1" style="fill:none;stroke-width:1.5" d="M315.05 85.70 331.69 83.85 348.33 82.09 364.97 58.05 381.61 56.49 398.25 54.73"/>
<rect class="bx" x="315.05" y="38.4" width="83.2" height="63.5"/>
<path class="k1" style="fill:none;stroke-width:1.5" d="M424.00 54.79 440.60 56.45 457.20 58.02 473.80 82.02 490.40 83.88 507.00 85.74"/>
<rect class="bx" x="424" y="38.4" width="83" height="63.5"/>
<path class="k1" style="fill:none;stroke-width:1.5" d="M534.00 84.97 550.44 73.63 566.88 51.74 583.32 51.74 599.76 73.83 616.20 84.97"/>
<rect class="bx" x="534" y="38.4" width="82.2" height="63.5"/>
<g style="stroke-width:2.7" transform="translate(315.05,126.7) scale(.5)">
<path class="k4" d="M0 110 33 78 67 61 100 40 133 25 166 60M0 69 33 77 67 106 100 40 133 20 166 62M0 84 33 82 67 89 100 36 133 17 166 65"/>
<path class="k3" d="M0 89 33 105 67 65 100 35 133 36 166 43M0 53 33 81 67 111 100 27 133 58 166 43M0 87 33 99 67 79 100 35 133 28 166 45"/>
<path class="k6" d="M0 84 33 94 67 87 100 44 133 38 166 25M0 71 33 113 67 70 100 43 133 48 166 29M0 87 33 94 67 80 100 53 133 42 166 18"/>
<path class="k0" d="M0 109 33 86 67 43 100 44 133 59 166 32M0 86 33 93 67 83 100 49 133 19 166 43M0 86 33 84 67 54 100 19 133 92 166 39M0 68 33 97 67 97 100 42 133 39 166 30"/>
<path class="k2" d="M0 88 33 93 67 73 100 39 133 63 166 16M0 82 33 89 67 95 100 41 133 37 166 29M0 102 33 68 67 86 100 43 133 20 166 55"/>
<path class="k5" d="M0 67 33 65 67 111 100 65 133 43 166 23M0 88 33 101 67 53 100 64 133 18 166 49M0 103 33 56 67 92 100 38 133 56 166 28"/>
<path class="k1" d="M0 69 33 68 67 104 100 43 133 72 166 16M0 63 33 102 67 90 100 55 133 40 166 23M0 110 33 80 67 60 100 53 133 48 166 23"/>
<path class="k5" d="M0 68 33 98 67 92 100 41 133 51 166 23M0 112 33 74 67 63 100 56 133 43 166 25M0 81 33 93 67 81 100 46 133 59 166 13"/>
<path class="k0" d="M0 86 33 92 67 72 100 58 133 56 166 10M0 80 33 104 67 74 100 49 133 22 166 44M0 118 33 67 67 45 100 33 133 60 166 51"/>
<path class="k6" d="M0 94 33 91 67 80 100 40 133 26 166 42M0 92 33 99 67 68 100 42 133 50 166 23M0 80 33 94 67 82 100 63 133 37 166 18"/>
<path class="k2" d="M0 110 33 66 67 81 100 45 133 40 166 31M0 63 33 108 67 81 100 50 133 49 166 22M0 66 33 37 67 119 100 58 133 51 166 42"/>
<path class="k4" d="M0 91 33 54 67 106 100 52 133 35 166 36M0 96 33 82 67 83 100 21 133 57 166 36M0 70 33 64 67 108 100 71 133 40 166 21"/>
<path class="k3" d="M0 77 33 85 67 91 100 70 133 21 166 30M0 78 33 90 67 96 100 27 133 34 166 48M0 114 33 82 67 40 100 42 133 45 166 50"/>
<path class="k1" d="M0 102 33 77 67 85 100 39 133 42 166 29M0 78 33 93 67 79 100 56 133 8 166 59M0 98 33 79 67 79 100 63 133 24 166 30M0 82 33 93 67 90 100 43 133 39 166 26"/>
<path class="k3" d="M0 104 33 63 67 73 100 66 133 56 166 12M0 63 33 104 67 91 100 44 133 31 166 40M0 98 33 90 67 53 100 71 133 40 166 21"/>
<path class="k0" d="M0 79 33 100 67 86 100 33 133 43 166 32M0 94 33 56 67 78 100 86 133 15 166 44M0 75 33 107 67 79 100 41 133 33 166 38"/>
<path class="k6" d="M0 97 33 90 67 77 100 34 133 29 166 46M0 75 33 87 67 94 100 57 133 45 166 15M0 79 33 90 67 78 100 75 133 37 166 14"/>
<path class="k5" d="M0 97 33 90 67 72 100 56 133 25 166 33M0 95 33 77 67 94 100 34 133 37 166 37M0 72 33 91 67 97 100 28 133 30 166 55"/>
<path class="k4" d="M0 76 33 100 67 87 100 30 133 50 166 31M0 91 33 85 67 80 100 18 133 34 166 65M0 93 33 82 67 89 100 38 133 46 166 25"/>
<path class="k2" d="M0 111 33 63 67 73 100 41 133 61 166 24M0 80 33 86 67 97 100 39 133 50 166 22M0 72 33 107 67 79 100 49 133 42 166 24M0 93 33 72 67 94 100 50 133 45 166 19"/>
<path class="k1" d="M0 103 33 64 67 91 100 41 133 45 166 28M0 99 33 92 67 49 100 64 133 48 166 20M0 82 33 97 67 81 100 56 133 39 166 19"/>
<path class="k2" d="M0 103 33 77 67 83 100 42 133 39 166 28M0 100 33 75 67 74 100 71 133 21 166 33M0 108 33 35 67 88 100 35 133 58 166 50"/>
<path class="k1" d="M0 101 33 93 67 67 100 35 133 37 166 40M0 70 33 90 67 102 100 29 133 43 166 39M0 94 33 55 67 84 100 81 133 43 166 17"/>
<path class="k3" d="M0 95 33 65 67 100 100 49 133 32 166 33M0 77 33 72 67 103 100 40 133 61 166 19M0 74 33 70 67 108 100 58 133 38 166 24M0 87 33 83 67 94 100 26 133 52 166 32"/>
<path class="k6" d="M0 93 33 92 67 58 100 74 133 28 166 28M0 104 33 85 67 73 100 29 133 47 166 35M0 89 33 74 67 96 100 46 133 50 166 18"/>
<path class="k5" d="M0 110 33 53 67 67 100 30 133 77 166 35M0 86 33 100 67 66 100 62 133 38 166 20M0 93 33 104 67 60 100 41 133 39 166 36"/>
<path class="k0" d="M0 95 33 48 67 98 100 34 133 30 166 68M0 86 33 59 67 89 100 9 133 76 166 53M0 85 33 95 67 83 100 23 133 51 166 36"/>
<path class="k4" d="M0 96 33 97 67 60 100 57 133 24 166 39M0 98 33 79 67 87 100 43 133 26 166 40M0 98 33 90 67 76 100 42 133 27 166 40"/>
<path class="k2" d="M0 68 33 102 67 76 100 37 133 71 166 20M0 58 33 39 67 112 100 33 133 81 166 49M0 104 33 69 67 80 100 61 133 34 166 24"/>
<path class="k6" d="M0 78 33 101 67 82 100 49 133 22 166 41M0 73 33 71 67 104 100 67 133 19 166 38M0 94 33 82 67 89 100 25 133 39 166 45"/>
<path class="k1" d="M0 101 33 68 67 48 100 45 133 90 166 22M0 99 33 85 67 83 100 36 133 34 166 37M0 105 33 80 67 74 100 35 133 26 166 53"/>
<path class="k3" d="M0 78 33 79 67 102 100 50 133 45 166 19M0 90 33 90 67 85 100 27 133 34 166 47M0 81 33 88 67 95 100 45 133 21 166 44"/>
<path class="k0" d="M0 82 33 90 67 83 100 14 133 63 166 40M0 81 33 72 67 95 100 33 133 74 166 19M0 116 33 65 67 66 100 39 133 33 166 55"/>
<path class="k5" d="M0 78 33 90 67 92 100 54 133 39 166 19M0 83 33 67 67 100 100 20 133 67 166 37M0 85 33 59 67 99 100 40 133 18 166 71"/>
<path class="k4" d="M0 83 33 100 67 82 100 38 133 43 166 28M0 101 33 61 67 75 100 79 133 18 166 39M0 96 33 99 67 54 100 27 133 57 166 39M0 92 33 75 67 96 100 40 133 46 166 24"/>
</g>
<rect class="bx" x="315.05" y="126.7" width="83.2" height="62.2"/>
<g style="stroke-width:2.7" transform="translate(424,126.7) scale(.5)">
<path class="k1" d="M0 49 33 52 66 17 100 67 133 97 166 91M0 37 33 71 66 20 100 100 133 63 166 83M0 34 33 28 66 51 100 105 133 78 166 77"/>
<path class="k2" d="M0 16 33 38 66 82 100 66 133 73 166 97M0 35 33 44 66 29 100 86 133 98 166 81M0 28 33 47 66 35 100 73 133 97 166 93"/>
<path class="k3" d="M0 42 33 35 66 30 100 92 133 84 166 90M0 89 33 34 66 23 100 95 133 57 166 76M0 37 33 43 66 36 100 92 133 60 166 105"/>
<path class="k0" d="M0 40 33 36 66 34 100 84 133 105 166 73M0 44 33 23 66 41 100 88 133 92 166 85M0 34 33 34 66 37 100 88 133 84 166 95M0 40 33 40 66 28 100 92 133 81 166 93"/>
<path class="k4" d="M0 26 33 36 66 64 100 90 133 54 166 102M0 37 33 48 66 25 100 94 133 93 166 76M0 34 33 64 66 22 100 67 133 95 166 92"/>
<path class="k6" d="M0 47 33 32 66 37 100 104 133 61 166 92M0 49 33 30 66 29 100 85 133 85 166 96M0 49 33 35 66 26 100 78 133 84 166 100"/>
<path class="k5" d="M0 36 33 50 66 24 100 77 133 86 166 99M0 40 33 23 66 55 100 108 133 76 166 70M0 61 33 44 66 38 100 41 133 117 166 72"/>
<path class="k4" d="M0 42 33 37 66 37 100 63 133 86 166 108M0 29 33 48 66 33 100 98 133 74 166 91M0 18 33 59 66 43 100 66 133 99 166 88"/>
<path class="k5" d="M0 29 33 39 66 41 100 89 133 76 166 99M0 37 33 25 66 60 100 63 133 83 166 106M0 36 33 29 66 44 100 84 133 100 166 81"/>
<path class="k0" d="M0 20 33 54 66 38 100 95 133 79 166 87M0 78 33 16 66 61 100 58 133 55 166 106M0 29 33 35 66 50 100 97 133 96 166 65"/>
<path class="k6" d="M0 76 33 25 66 36 100 76 133 54 166 106M0 37 33 50 66 23 100 92 133 86 166 86M0 57 33 14 66 46 100 89 133 75 166 93"/>
<path class="k3" d="M0 6 33 72 66 77 100 90 133 73 166 56M0 33 33 64 66 23 100 96 133 65 166 92M0 51 33 35 66 30 100 98 133 97 166 63"/>
<path class="k1" d="M0 58 33 58 66 26 100 49 133 66 166 116M0 32 33 20 66 70 100 75 133 96 166 81M0 58 33 29 66 32 100 64 133 85 166 105M0 44 33 43 66 47 100 73 133 48 166 118"/>
<path class="k2" d="M0 28 33 68 66 26 100 68 133 94 166 90M0 26 33 42 66 44 100 97 133 70 166 95M0 41 33 55 66 17 100 88 133 90 166 83"/>
<path class="k3" d="M0 40 33 61 66 24 100 70 133 68 166 110M0 51 33 57 66 27 100 111 133 45 166 82M0 29 33 37 66 43 100 88 133 100 166 75"/>
<path class="k1" d="M0 19 33 36 66 67 100 75 133 78 166 99M0 36 33 31 66 43 100 100 133 91 166 73M0 34 33 21 66 58 100 83 133 95 166 82"/>
<path class="k2" d="M0 28 33 38 66 49 100 74 133 109 166 75M0 21 33 38 66 56 100 100 133 86 166 71M0 30 33 64 66 52 100 103 133 90 166 34M0 23 33 33 66 59 100 85 133 97 166 77"/>
<path class="k0" d="M0 23 33 32 66 59 100 97 133 84 166 78M0 42 33 29 66 37 100 77 133 94 166 94M0 17 33 69 66 38 100 99 133 79 166 71"/>
<path class="k5" d="M0 40 33 26 66 43 100 92 133 79 166 94M0 45 33 41 66 28 100 66 133 91 166 103M0 23 33 73 66 32 100 60 133 94 166 91"/>
<path class="k6" d="M0 49 33 36 66 49 100 78 133 115 166 46M0 46 33 43 66 29 100 86 133 61 166 108M0 51 33 36 66 23 100 88 133 91 166 84"/>
<path class="k4" d="M0 42 33 48 66 32 100 57 133 111 166 83M0 37 33 23 66 71 100 97 133 54 166 91M0 44 33 21 66 68 100 71 133 60 166 110"/>
<path class="k2" d="M0 28 33 68 66 37 100 73 133 111 166 56M0 37 33 25 66 55 100 97 133 96 166 63M0 43 33 16 66 61 100 69 133 87 166 97"/>
<path class="k1" d="M0 38 33 29 66 42 100 83 133 79 166 102M0 59 33 56 66 9 100 71 133 91 166 87M0 45 33 41 66 69 100 26 133 98 166 94"/>
<path class="k4" d="M0 34 33 31 66 48 100 68 133 91 166 102M0 36 33 28 66 44 100 79 133 89 166 97M0 21 33 42 66 48 100 82 133 82 166 98"/>
<path class="k0" d="M0 34 33 43 66 63 100 106 133 38 166 88M0 42 33 44 66 27 100 88 133 103 166 69M0 42 33 46 66 30 100 65 133 79 166 111"/>
<path class="k5" d="M0 27 33 23 66 67 100 88 133 86 166 82M0 28 33 37 66 45 100 101 133 87 166 75M0 49 33 19 66 42 100 81 133 87 166 94"/>
<path class="k6" d="M0 23 33 36 66 55 100 81 133 76 166 102M0 39 33 29 66 39 100 88 133 89 166 89M0 45 33 17 66 65 100 79 133 104 166 63"/>
<path class="k3" d="M0 42 33 27 66 40 100 95 133 76 166 94M0 61 33 21 66 55 100 83 133 106 166 47M0 23 33 59 66 34 100 89 133 73 166 97M0 65 33 10 66 47 100 88 133 78 166 84"/>
<path class="k6" d="M0 32 33 39 66 36 100 82 133 96 166 88M0 24 33 74 66 36 100 81 133 103 166 55M0 60 33 22 66 47 100 57 133 77 166 110"/>
<path class="k2" d="M0 32 33 48 66 36 100 108 133 66 166 83M0 59 33 12 66 54 100 81 133 68 166 99M0 30 33 57 66 29 100 67 133 91 166 100"/>
<path class="k1" d="M0 28 33 62 66 29 100 77 133 105 166 72M0 48 33 35 66 39 100 52 133 93 166 106M0 34 33 41 66 36 100 106 133 81 166 75"/>
<path class="k5" d="M0 42 33 21 66 55 100 104 133 84 166 67M0 15 33 60 66 44 100 99 133 82 166 73M0 49 33 37 66 33 100 74 133 67 166 113"/>
<path class="k3" d="M0 44 33 22 66 44 100 87 133 94 166 83M0 54 33 21 66 46 100 77 133 68 166 108M0 48 33 42 66 28 100 59 133 93 166 103"/>
<path class="k4" d="M0 17 33 55 66 42 100 84 133 93 166 83M0 12 33 49 66 61 100 68 133 89 166 94M0 54 33 13 66 49 100 89 133 81 166 87M0 54 33 19 66 39 100 85 133 85 166 91"/>
<path class="k0" d="M0 70 33 19 66 37 100 99 133 65 166 83M0 37 33 56 66 35 100 116 133 58 166 71M0 26 33 68 66 41 100 72 133 55 166 112"/>
</g>
<rect class="bx" x="424" y="126.7" width="83" height="62.2"/>
<g style="stroke-width:2.7" transform="translate(534,126.7) scale(.5)">
<path class="k0" d="M0 88 33 57 66 38 99 29 132 55 164 106M0 93 33 70 66 18 99 34 132 72 164 85M0 102 33 65 66 15 99 46 132 69 164 77M0 89 33 73 66 12 99 42 132 72 164 85"/>
<path class="k5" d="M0 94 33 39 66 51 99 25 132 64 164 99M0 86 33 68 66 45 99 11 132 75 164 89M0 80 33 90 66 6 99 57 132 65 164 75"/>
<path class="k1" d="M0 97 33 89 66 17 99 41 132 65 164 63M0 94 33 41 66 35 99 39 132 62 164 103M0 87 33 70 66 33 99 22 132 97 164 64"/>
<path class="k6" d="M0 87 33 83 66 43 99 22 132 44 164 94M0 93 33 46 66 28 99 34 132 93 164 80M0 84 33 66 66 8 99 53 132 73 164 89"/>
<path class="k4" d="M0 92 33 54 66 23 99 35 132 74 164 95M0 88 33 48 66 42 99 20 132 84 164 92M0 90 33 66 66 34 99 21 132 66 164 95"/>
<path class="k2" d="M0 105 33 74 66 25 99 39 132 50 164 81M0 84 33 50 66 32 99 29 132 77 164 101M0 71 33 75 66 22 99 43 132 108 164 54"/>
<path class="k3" d="M0 65 33 62 66 32 99 32 132 70 164 112M0 96 33 59 66 23 99 32 132 85 164 78M0 61 33 89 66 37 99 20 132 69 164 97"/>
<path class="k6" d="M0 90 33 50 66 62 99 24 132 44 164 103M0 74 33 59 66 11 99 51 132 82 164 96M0 77 33 75 66 64 99 5 132 62 164 89"/>
<path class="k2" d="M0 71 33 89 66 12 99 47 132 64 164 91M0 94 33 76 66 16 99 35 132 76 164 75M0 94 33 79 66 73 99 19 132 76 164 32"/>
<path class="k0" d="M0 90 33 77 66 31 99 19 132 78 164 78M0 84 33 74 66 34 99 17 132 91 164 73M0 61 33 91 66 34 99 37 132 45 164 105"/>
<path class="k5" d="M0 96 33 58 66 27 99 36 132 57 164 98M0 94 33 68 66 35 99 20 132 67 164 90M0 90 33 84 66 40 99 15 132 62 164 83"/>
<path class="k1" d="M0 98 33 68 66 33 99 21 132 69 164 84M0 103 33 75 66 27 99 33 132 82 164 53M0 75 33 75 66 6 99 52 132 81 164 84M0 92 33 50 66 32 99 47 132 46 164 106"/>
<path class="k3" d="M0 84 33 92 66 12 99 45 132 76 164 65M0 100 33 59 66 26 99 31 132 73 164 85M0 63 33 66 66 46 99 14 132 95 164 89"/>
<path class="k4" d="M0 97 33 52 66 22 99 37 132 78 164 87M0 102 33 66 66 32 99 25 132 63 164 84M0 90 33 82 66 20 99 33 132 86 164 64"/>
<path class="k1" d="M0 87 33 85 66 34 99 19 132 62 164 87M0 63 33 63 66 45 99 19 132 107 164 77M0 74 33 47 66 45 99 20 132 94 164 92"/>
<path class="k2" d="M0 81 33 73 66 17 99 32 132 85 164 85M0 68 33 82 66 18 99 40 132 64 164 101M0 80 33 71 66 32 99 20 132 75 164 96M0 93 33 41 66 43 99 25 132 93 164 78"/>
<path class="k4" d="M0 78 33 43 66 63 99 25 132 54 164 110M0 79 33 84 66 9 99 64 132 88 164 49M0 72 33 69 66 46 99 17 132 62 164 107"/>
<path class="k6" d="M0 96 33 101 66 42 99 44 132 31 164 59M0 97 33 53 66 23 99 36 132 74 164 90M0 87 33 87 66 36 99 16 132 80 164 67"/>
<path class="k3" d="M0 98 33 57 66 38 99 21 132 71 164 89M0 92 33 83 66 53 99 9 132 65 164 71M0 59 33 75 66 15 99 51 132 69 164 104"/>
<path class="k5" d="M0 99 33 55 66 43 99 40 132 37 164 100M0 66 33 61 66 36 99 31 132 65 164 114M0 90 33 79 66 33 99 18 132 69 164 84"/>
<path class="k0" d="M0 109 33 44 66 30 99 44 132 62 164 84M0 90 33 75 66 51 99 9 132 66 164 83M0 75 33 71 66 18 99 37 132 70 164 101"/>
<path class="k6" d="M0 70 33 70 66 24 99 29 132 81 164 99M0 85 33 74 66 6 99 56 132 70 164 83M0 90 33 48 66 19 99 46 132 73 164 96"/>
<path class="k5" d="M0 99 33 73 66 30 99 52 132 30 164 89M0 85 33 86 66 57 99 7 132 62 164 77M0 92 33 69 66 28 99 45 132 39 164 100"/>
<path class="k2" d="M0 71 33 59 66 18 99 45 132 74 164 106M0 78 33 65 66 45 99 11 132 81 164 92M0 86 33 61 66 36 99 26 132 58 164 105"/>
<path class="k1" d="M0 74 33 87 66 17 99 33 132 75 164 87M0 84 33 57 66 26 99 32 132 73 164 101M0 67 33 65 66 20 99 36 132 86 164 99"/>
<path class="k0" d="M0 84 33 36 66 63 99 31 132 52 164 108M0 101 33 83 66 31 99 25 132 68 164 64M0 84 33 80 66 50 99 16 132 48 164 96"/>
<path class="k4" d="M0 77 33 92 66 34 99 17 132 79 164 74M0 99 33 59 66 37 99 21 132 71 164 87M0 104 33 54 66 19 99 45 132 71 164 80"/>
<path class="k3" d="M0 87 33 73 66 88 99 9 132 50 164 66M0 100 33 77 66 39 99 18 132 62 164 76M0 109 33 61 66 35 99 36 132 47 164 85M0 104 33 43 66 28 99 43 132 65 164 89"/>
<path class="k0" d="M0 67 33 75 66 54 99 36 132 30 164 111M0 101 33 69 66 23 99 31 132 78 164 72M0 100 33 42 66 30 99 38 132 74 164 89"/>
<path class="k2" d="M0 56 33 82 66 19 99 39 132 82 164 96M0 63 33 80 66 16 99 38 132 92 164 85M0 89 33 93 66 33 99 25 132 52 164 82"/>
<path class="k5" d="M0 92 33 59 66 28 99 29 132 96 164 69M0 96 33 64 66 35 99 19 132 75 164 85M0 89 33 61 66 33 99 20 132 88 164 82"/>
<path class="k1" d="M0 65 33 70 66 20 99 34 132 92 164 91M0 83 33 74 66 7 99 52 132 72 164 85M0 105 33 66 66 66 99 12 132 57 164 66"/>
<path class="k4" d="M0 112 33 65 66 50 99 21 132 64 164 62M0 103 33 56 66 61 99 16 132 53 164 84M0 78 33 56 66 38 99 22 132 75 164 104M0 76 33 88 66 40 99 12 132 80 164 76"/>
<path class="k3" d="M0 78 33 35 66 36 99 39 132 79 164 106M0 89 33 95 66 34 99 32 132 42 164 82M0 84 33 64 66 57 99 6 132 83 164 79"/>
<path class="k6" d="M0 84 33 77 66 18 99 31 132 80 164 83M0 77 33 57 66 16 99 41 132 89 164 92M0 81 33 86 66 19 99 32 132 89 164 66"/>
</g>
<rect class="bx" x="534" y="126.7" width="82.2" height="62.2"/>
<g style="stroke-width:2.7" transform="translate(315.05,213.8) scale(.5)">
<path class="k6" d="M0 73 33 89 67 99 100 35 133 53 166 25M0 68 33 98 67 87 100 61 133 15 166 46M0 81 33 80 67 91 100 50 133 62 166 10"/>
<path class="k3" d="M0 58 33 103 67 95 100 32 133 48 166 38M0 92 33 82 67 88 100 24 133 58 166 30M0 101 33 66 67 85 100 56 133 50 166 16"/>
<path class="k4" d="M0 76 33 86 67 90 100 59 133 9 166 54M0 108 33 86 67 65 100 48 133 34 166 34M0 101 33 69 67 90 100 56 133 32 166 28"/>
<path class="k0" d="M0 93 33 69 67 95 100 30 133 61 166 26M0 88 33 105 67 66 100 39 133 28 166 49M0 110 33 80 67 68 100 43 133 30 166 43M0 84 33 46 67 111 100 53 133 29 166 52"/>
<path class="k2" d="M0 87 33 78 67 95 100 51 133 48 166 16M0 96 33 98 67 47 100 32 133 34 166 67M0 99 33 64 67 91 100 62 133 24 166 34"/>
<path class="k5" d="M0 79 33 98 67 87 100 39 133 46 166 25M0 98 33 66 67 83 100 20 133 73 166 35M0 77 33 100 67 83 100 58 133 34 166 23"/>
<path class="k1" d="M0 96 33 73 67 93 100 30 133 29 166 53M0 83 33 71 67 100 100 17 133 61 166 42M0 87 33 90 67 89 100 50 133 26 166 33"/>
<path class="k5" d="M0 106 33 37 67 62 100 77 133 70 166 23M0 95 33 88 67 64 100 10 133 62 166 57M0 89 33 83 67 93 100 29 133 30 166 50"/>
<path class="k3" d="M0 83 33 106 67 43 100 24 133 50 166 68M0 35 33 108 67 87 100 58 133 55 166 32M0 86 33 101 67 78 100 34 133 40 166 34"/>
<path class="k4" d="M0 102 33 54 67 82 100 21 133 76 166 40M0 82 33 79 67 91 100 55 133 57 166 9M0 94 33 90 67 68 100 36 133 67 166 19"/>
<path class="k6" d="M0 84 33 90 67 71 100 13 133 40 166 76M0 75 33 67 67 101 100 70 133 50 166 12M0 98 33 88 67 81 100 30 133 44 166 34"/>
<path class="k0" d="M0 79 33 99 67 86 100 27 133 34 166 49M0 97 33 75 67 92 100 44 133 26 166 40M0 94 33 79 67 94 100 32 133 35 166 41"/>
<path class="k1" d="M0 84 33 108 67 66 100 44 133 27 166 46M0 89 33 103 67 70 100 45 133 28 166 40M0 77 33 99 67 89 100 26 133 38 166 46M0 65 33 28 67 61 100 85 133 31 166 104"/>
<path class="k2" d="M0 119 33 65 67 47 100 60 133 51 166 33M0 69 33 93 67 85 100 41 133 14 166 73M0 82 33 81 67 88 100 70 133 41 166 12"/>
<path class="k0" d="M0 113 33 41 67 78 100 29 133 55 166 59M0 84 33 82 67 98 100 21 133 43 166 48M0 119 33 57 67 65 100 39 133 37 166 56"/>
<path class="k4" d="M0 75 33 104 67 80 100 36 133 56 166 24M0 66 33 92 67 96 100 22 133 36 166 63M0 92 33 64 67 92 100 72 133 37 166 18"/>
<path class="k3" d="M0 75 33 81 67 79 100 87 133 41 166 11M0 75 33 52 67 111 100 23 133 47 166 66M0 77 33 76 67 42 100 107 133 25 166 47"/>
<path class="k6" d="M0 68 33 93 67 74 100 88 133 24 166 28M0 81 33 95 67 75 100 58 133 9 166 56M0 65 33 98 67 79 100 71 133 12 166 49"/>
<path class="k2" d="M0 93 33 98 67 71 100 27 133 50 166 35M0 90 33 101 67 73 100 35 133 44 166 31M0 83 33 100 67 81 100 24 133 41 166 46M0 36 33 99 67 55 100 37 133 46 166 101"/>
<path class="k1" d="M0 87 33 102 67 61 100 19 133 45 166 61M0 88 33 100 67 59 100 34 133 24 166 68M0 69 33 108 67 47 100 43 133 82 166 26"/>
<path class="k5" d="M0 94 33 84 67 79 100 13 133 51 166 53M0 69 33 88 67 101 100 35 133 24 166 58M0 39 33 92 67 98 100 75 133 38 166 32"/>
<path class="k4" d="M0 86 33 84 67 96 100 38 133 26 166 45M0 95 33 89 67 83 100 44 133 33 166 31M0 95 33 96 67 70 100 49 133 25 166 38"/>
<path class="k1" d="M0 75 33 107 67 75 100 38 133 56 166 24M0 97 33 87 67 71 100 30 133 64 166 25M0 103 33 98 67 51 100 41 133 41 166 40"/>
<path class="k6" d="M0 80 33 96 67 86 100 52 133 20 166 40M0 102 33 51 67 98 100 41 133 36 166 46M0 119 33 64 67 62 100 52 133 36 166 42"/>
<path class="k5" d="M0 88 33 102 67 57 100 60 133 50 166 18M0 56 33 81 67 104 100 74 133 24 166 35M0 84 33 60 67 100 100 72 133 40 166 18"/>
<path class="k3" d="M0 63 33 99 67 76 100 68 133 60 166 9M0 55 33 105 67 81 100 67 133 50 166 17M0 91 33 89 67 45 100 12 133 70 166 67M0 67 33 115 67 43 100 73 133 42 166 35"/>
<path class="k0" d="M0 103 33 79 67 66 100 70 133 23 166 32M0 41 33 86 67 98 100 17 133 62 166 71M0 90 33 75 67 100 100 37 133 38 166 35"/>
<path class="k2" d="M0 86 33 105 67 71 100 40 133 27 166 45M0 51 33 104 67 91 100 40 133 28 166 61M0 101 33 77 67 83 100 45 133 19 166 50"/>
<path class="k4" d="M0 88 33 70 67 84 100 81 133 35 166 16M0 105 33 76 67 72 100 20 133 62 166 40M0 87 33 108 67 53 100 57 133 41 166 28M0 83 33 51 67 98 100 74 133 54 166 14"/>
<path class="k1" d="M0 56 33 106 67 83 100 63 133 21 166 46M0 97 33 55 67 93 100 16 133 56 166 57M0 86 33 65 67 95 100 61 133 58 166 10"/>
<path class="k3" d="M0 94 33 73 67 95 100 45 133 47 166 21M0 72 33 85 67 105 100 31 133 40 166 40M0 85 33 100 67 62 100 18 133 68 166 41"/>
<path class="k0" d="M0 94 33 89 67 84 100 32 133 31 166 43M0 93 33 98 67 41 100 22 133 52 166 69M0 98 33 65 67 93 100 45 133 55 166 19"/>
<path class="k6" d="M0 76 33 75 67 107 100 24 133 52 166 40M0 76 33 93 67 86 100 68 133 30 166 21M0 101 33 82 67 80 100 41 133 47 166 23"/>
<path class="k2" d="M0 72 33 59 67 113 100 24 133 49 166 57M0 42 33 113 67 76 100 55 133 60 166 28M0 87 33 100 67 63 100 69 133 28 166 28"/>
<path class="k5" d="M0 85 33 99 67 82 100 42 133 40 166 27M0 101 33 90 67 71 100 30 133 51 166 32M0 76 33 94 67 95 100 46 133 29 166 34"/>
</g>
<rect class="bx" x="315.05" y="213.8" width="83.2" height="62.4"/>
<g style="stroke-width:2.7" transform="translate(424,213.8) scale(.5)">
<path class="k3" d="M0 61 33 38 66 38 100 78 133 45 166 114M0 58 33 36 66 24 100 71 133 83 166 104M0 47 33 53 66 23 100 108 133 59 166 84"/>
<path class="k2" d="M0 82 33 15 66 37 100 78 133 73 166 89M0 57 33 52 66 12 100 84 133 97 166 73M0 26 33 31 66 53 100 91 133 88 166 85"/>
<path class="k4" d="M0 36 33 29 66 51 100 102 133 93 166 63M0 60 33 20 66 43 100 65 133 105 166 82M0 46 33 19 66 104 100 51 133 75 166 79"/>
<path class="k1" d="M0 31 33 58 66 34 100 95 133 56 166 101M0 29 33 27 66 55 100 84 133 88 166 92M0 54 33 58 66 11 100 95 133 83 166 74"/>
<path class="k6" d="M0 46 33 50 66 27 100 112 133 78 166 61M0 24 33 32 66 64 100 73 133 78 166 103M0 56 33 9 66 70 100 72 133 98 166 69"/>
<path class="k5" d="M0 39 33 23 66 54 100 67 133 93 166 99M0 56 33 14 66 47 100 90 133 89 166 79M0 75 33 7 66 55 100 84 133 65 166 89"/>
<path class="k0" d="M0 77 33 36 66 17 100 82 133 67 166 95M0 11 33 50 66 58 100 92 133 79 166 84M0 30 33 54 66 32 100 108 133 72 166 78M0 76 33 25 66 49 100 52 133 113 166 61"/>
<path class="k6" d="M0 28 33 67 66 63 100 40 133 61 166 115M0 37 33 46 66 42 100 54 133 81 166 114M0 27 33 30 66 69 100 85 133 60 166 102"/>
<path class="k4" d="M0 58 33 22 66 48 100 86 133 54 166 106M0 18 33 48 66 64 100 64 133 108 166 74M0 38 33 42 66 31 100 70 133 95 166 98"/>
<path class="k5" d="M0 49 33 34 66 26 100 97 133 83 166 86M0 39 33 19 66 55 100 78 133 92 166 91M0 47 33 15 66 52 100 86 133 81 166 93"/>
<path class="k2" d="M0 66 33 59 66 6 100 85 133 69 166 89M0 34 33 39 66 64 100 44 133 111 166 82M0 36 33 55 66 30 100 112 133 65 166 77"/>
<path class="k0" d="M0 49 33 46 66 48 100 86 133 33 166 111M0 51 33 45 66 24 100 70 133 76 166 110M0 30 33 31 66 57 100 64 133 98 166 95"/>
<path class="k1" d="M0 29 33 30 66 62 100 73 133 74 166 107M0 21 33 45 66 44 100 92 133 81 166 91M0 30 33 74 66 22 100 75 133 77 166 97M0 46 33 39 66 47 100 111 133 43 166 89"/>
<path class="k3" d="M0 32 33 32 66 55 100 61 133 96 166 99M0 24 33 64 66 39 100 62 133 78 166 109M0 12 33 51 66 54 100 81 133 86 166 91"/>
<path class="k1" d="M0 21 33 55 66 50 100 99 133 96 166 54M0 36 33 19 66 71 100 76 133 101 166 71M0 12 33 40 66 78 100 88 133 74 166 82"/>
<path class="k6" d="M0 36 33 70 66 25 100 58 133 80 166 106M0 16 33 41 66 56 100 87 133 86 166 87M0 27 33 29 66 86 100 91 133 87 166 55"/>
<path class="k3" d="M0 17 33 57 66 70 100 85 133 100 166 46M0 17 33 49 66 69 100 54 133 85 166 101M0 27 33 38 66 46 100 78 133 83 166 103"/>
<path class="k5" d="M0 34 33 53 66 37 100 113 133 59 166 78M0 18 33 57 66 42 100 97 133 73 166 87M0 34 33 17 66 69 100 88 133 83 166 83"/>
<path class="k0" d="M0 32 33 24 66 74 100 64 133 104 166 76M0 55 33 19 66 39 100 92 133 82 166 87M0 46 33 40 66 45 100 44 133 112 166 87"/>
<path class="k2" d="M0 36 33 32 66 42 100 77 133 84 166 103M0 17 33 57 66 62 100 94 133 48 166 96M0 26 33 44 66 40 100 78 133 86 166 100M0 40 33 60 66 17 100 93 133 74 166 90"/>
<path class="k4" d="M0 47 33 32 66 33 100 78 133 80 166 104M0 42 33 44 66 46 100 118 133 50 166 75M0 50 33 25 66 49 100 53 133 96 166 101"/>
<path class="k3" d="M0 49 33 15 66 54 100 72 133 95 166 90M0 20 33 56 66 40 100 100 133 87 166 72M0 20 33 51 66 45 100 69 133 89 166 100M0 38 33 72 66 14 100 86 133 75 166 89"/>
<path class="k5" d="M0 55 33 28 66 49 100 58 133 116 166 69M0 41 33 52 66 26 100 65 133 108 166 83M0 21 33 58 66 44 100 102 133 89 166 60"/>
<path class="k4" d="M0 40 33 84 66 21 100 83 133 51 166 96M0 11 33 59 66 51 100 90 133 76 166 89M0 38 33 38 66 35 100 72 133 106 166 86"/>
<path class="k6" d="M0 50 33 23 66 52 100 59 133 81 166 110M0 12 33 75 66 43 100 81 133 92 166 73M0 33 33 59 66 35 100 75 133 60 166 113"/>
<path class="k0" d="M0 44 33 34 66 31 100 100 133 85 166 80M0 74 33 24 66 26 100 73 133 90 166 86M0 44 33 30 66 61 100 45 133 108 166 88"/>
<path class="k1" d="M0 34 33 28 66 52 100 104 133 70 166 86M0 62 33 27 66 45 100 54 133 114 166 74M0 77 33 53 66 7 100 78 133 72 166 88"/>
<path class="k2" d="M0 24 33 54 66 34 100 98 133 79 166 85M0 34 33 23 66 62 100 73 133 102 166 81M0 63 33 5 66 64 100 78 133 79 166 86"/>
<path class="k1" d="M0 26 33 51 66 59 100 109 133 46 166 85M0 55 33 24 66 34 100 97 133 86 166 79M0 57 33 19 66 111 100 71 133 64 166 53"/>
<path class="k5" d="M0 36 33 23 66 62 100 70 133 78 166 105M0 42 33 23 66 45 100 92 133 90 166 83M0 56 33 23 66 40 100 96 133 62 166 96"/>
<path class="k4" d="M0 36 33 52 66 23 100 98 133 77 166 87M0 44 33 26 66 40 100 100 133 87 166 78M0 15 33 65 66 42 100 99 133 78 166 76M0 27 33 28 66 72 100 61 133 96 166 90"/>
<path class="k6" d="M0 20 33 60 66 79 100 92 133 88 166 34M0 54 33 25 66 41 100 63 133 107 166 85M0 69 33 28 66 28 100 105 133 70 166 74"/>
<path class="k0" d="M0 57 33 30 66 38 100 52 133 103 166 94M0 52 33 46 66 16 100 89 133 78 166 93M0 53 33 20 66 50 100 72 133 110 166 70"/>
<path class="k3" d="M0 22 33 72 66 39 100 53 133 100 166 88M0 43 33 32 66 38 100 76 133 108 166 79M0 15 33 60 66 43 100 83 133 78 166 95"/>
<path class="k2" d="M0 30 33 29 66 50 100 91 133 95 166 79M0 17 33 41 66 78 100 70 133 101 166 67M0 73 33 25 66 30 100 104 133 74 166 67"/>
</g>
<rect class="bx" x="424" y="213.8" width="83" height="62.4"/>
<g style="stroke-width:2.7" transform="translate(534,213.8) scale(.5)">
<path class="k5" d="M0 91 33 45 66 51 99 22 132 65 164 101M0 53 33 110 66 74 99 38 132 27 164 72M0 75 33 86 66 33 99 17 132 87 164 76"/>
<path class="k3" d="M0 104 33 75 66 28 99 37 132 48 164 84M0 79 33 93 66 41 99 18 132 55 164 89M0 51 33 98 66 23 99 38 132 76 164 89"/>
<path class="k4" d="M0 95 33 74 66 27 99 32 132 53 164 94M0 68 33 76 66 22 99 31 132 77 164 100M0 82 33 63 66 39 99 15 132 84 164 90"/>
<path class="k2" d="M0 89 33 71 66 26 99 24 132 89 164 74M0 84 33 91 66 19 99 32 132 77 164 72M0 83 33 93 66 53 99 11 132 56 164 79"/>
<path class="k6" d="M0 105 33 46 66 38 99 38 132 94 164 53M0 86 33 58 66 18 99 38 132 81 164 92M0 48 33 86 66 72 99 9 132 85 164 76"/>
<path class="k1" d="M0 73 33 68 66 7 99 55 132 91 164 81M0 84 33 106 66 29 99 34 132 66 164 56M0 93 33 28 66 49 99 34 132 98 164 71"/>
<path class="k0" d="M0 100 33 77 66 28 99 38 132 43 164 87M0 94 33 74 66 24 99 27 132 73 164 84M0 95 33 92 66 54 99 21 132 39 164 74M0 87 33 63 66 25 99 30 132 73 164 98"/>
<path class="k0" d="M0 74 33 90 66 25 99 24 132 79 164 82M0 89 33 57 66 37 99 25 132 64 164 103M0 100 33 79 66 16 99 47 132 55 164 78"/>
<path class="k3" d="M0 99 33 61 66 38 99 29 132 51 164 97M0 86 33 72 66 17 99 38 132 66 164 96M0 100 33 65 66 55 99 10 132 69 164 75"/>
<path class="k4" d="M0 100 33 71 66 43 99 15 132 65 164 80M0 99 33 72 66 15 99 41 132 75 164 74M0 94 33 82 66 10 99 50 132 69 164 70"/>
<path class="k6" d="M0 81 33 66 66 17 99 35 132 85 164 90M0 25 33 83 66 59 99 41 132 59 164 108M0 115 33 66 66 40 99 29 132 68 164 56"/>
<path class="k1" d="M0 101 33 83 66 35 99 22 132 60 164 73M0 92 33 67 66 39 99 15 132 84 164 78M0 72 33 77 66 15 99 46 132 62 164 102M0 104 33 56 66 23 99 39 132 85 164 67"/>
<path class="k5" d="M0 79 33 79 66 3 99 71 132 63 164 78M0 85 33 92 66 25 99 26 132 65 164 80M0 89 33 68 66 36 99 25 132 55 164 101"/>
<path class="k2" d="M0 93 33 79 66 51 99 12 132 85 164 55M0 80 33 14 66 60 99 43 132 83 164 94M0 81 33 80 66 19 99 41 132 56 164 99"/>
<path class="k5" d="M0 98 33 72 66 26 99 29 132 63 164 86M0 96 33 75 66 27 99 29 132 58 164 90M0 78 33 50 66 38 99 24 132 80 164 103"/>
<path class="k2" d="M0 93 33 59 66 17 99 39 132 89 164 76M0 112 33 46 66 42 99 30 132 67 164 78M0 99 33 77 66 33 99 23 132 82 164 61M0 56 33 104 66 17 99 48 132 67 164 82"/>
<path class="k6" d="M0 93 33 54 66 30 99 27 132 84 164 87M0 99 33 46 66 33 99 46 132 49 164 101M0 80 33 72 66 31 99 27 132 62 164 104"/>
<path class="k4" d="M0 90 33 57 66 25 99 30 132 88 164 85M0 102 33 69 66 21 99 34 132 76 164 72M0 93 33 33 66 30 99 46 132 77 164 95"/>
<path class="k0" d="M0 94 33 39 66 30 99 48 132 60 164 102M0 80 33 62 66 34 99 30 132 58 164 110M0 84 33 55 66 35 99 29 132 64 164 107"/>
<path class="k3" d="M0 82 33 80 66 43 99 12 132 65 164 91M0 91 33 85 66 27 99 31 132 51 164 89M0 111 33 55 66 21 99 55 132 56 164 76"/>
<path class="k1" d="M0 74 33 63 66 5 99 65 132 77 164 91M0 105 33 74 66 39 99 38 132 33 164 84M0 112 33 51 66 42 99 28 132 65 164 77"/>
<path class="k4" d="M0 31 33 68 66 56 99 28 132 97 164 94M0 89 33 80 66 25 99 31 132 94 164 55M0 81 33 24 66 41 99 62 132 108 164 59"/>
<path class="k6" d="M0 75 33 64 66 24 99 49 132 50 164 112M0 83 33 55 66 41 99 17 132 87 164 91M0 97 33 72 66 23 99 28 132 74 164 80"/>
<path class="k1" d="M0 70 33 66 66 9 99 71 132 58 164 100M0 82 33 29 66 65 99 25 132 74 164 99M0 52 33 34 66 33 99 67 132 77 164 112"/>
<path class="k0" d="M0 85 33 74 66 18 99 33 132 73 164 92M0 93 33 50 66 26 99 33 132 85 164 87M0 109 33 34 66 40 99 39 132 77 164 75"/>
<path class="k2" d="M0 74 33 91 66 12 99 52 132 56 164 90M0 83 33 55 66 60 99 8 132 87 164 82M0 72 33 100 66 33 99 22 132 81 164 67"/>
<path class="k5" d="M0 101 33 50 66 24 99 50 132 55 164 95M0 85 33 67 66 47 99 16 132 59 164 101M0 64 33 75 66 37 99 33 132 53 164 114"/>
<path class="k3" d="M0 92 33 77 66 67 99 9 132 50 164 80M0 48 33 55 66 91 99 23 132 103 164 55M0 90 33 60 66 31 99 31 132 58 164 103M0 93 33 79 66 36 99 17 132 65 164 84"/>
<path class="k5" d="M0 90 33 90 66 28 99 27 132 56 164 83M0 94 33 77 66 7 99 62 132 61 164 73M0 100 33 45 66 47 99 43 132 39 164 101"/>
<path class="k6" d="M0 107 33 79 66 38 99 24 132 71 164 57M0 72 33 86 66 48 99 20 132 46 164 102M0 98 33 54 66 54 99 26 132 43 164 99"/>
<path class="k4" d="M0 81 33 70 66 36 99 15 132 85 164 87M0 78 33 94 66 12 99 52 132 55 164 83M0 72 33 73 66 18 99 37 132 73 164 101M0 108 33 64 66 29 99 35 132 56 164 82"/>
<path class="k2" d="M0 68 33 112 66 37 99 31 132 52 164 75M0 67 33 58 66 28 99 41 132 66 164 114M0 97 33 50 66 44 99 19 132 81 164 84"/>
<path class="k1" d="M0 91 33 64 66 18 99 35 132 81 164 86M0 56 33 77 66 30 99 26 132 91 164 94M0 100 33 37 66 45 99 28 132 75 164 89"/>
<path class="k0" d="M0 103 33 47 66 23 99 45 132 69 164 87M0 72 33 45 66 17 99 55 132 100 164 84M0 100 33 27 66 50 99 41 132 61 164 95"/>
<path class="k3" d="M0 69 33 72 66 32 99 21 132 85 164 96M0 38 33 94 66 71 99 31 132 41 164 99M0 75 33 61 66 35 99 21 132 97 164 86"/>
</g>
<rect class="bx" x="534" y="213.8" width="82.2" height="62.4"/>
<g style="stroke-width:2.7" transform="translate(315.05,301.1) scale(.5)">
<path class="k4" d="M0 63 33 103 67 92 100 29 133 45 166 42M0 104 33 89 67 51 100 51 133 21 166 57M0 70 33 112 67 64 100 61 133 23 166 44"/>
<path class="k6" d="M0 81 33 111 67 60 100 29 133 50 166 42M0 78 33 95 67 89 100 52 133 22 166 37M0 48 33 98 67 67 100 76 133 11 166 73"/>
<path class="k3" d="M0 74 33 103 67 86 100 38 133 31 166 41M0 83 33 110 67 62 100 30 133 43 166 46M0 90 33 106 67 40 100 43 133 60 166 34"/>
<path class="k0" d="M0 84 33 27 67 110 100 57 133 44 166 51M0 46 33 104 67 55 100 21 133 88 166 60M0 110 33 84 67 62 100 38 133 43 166 37M0 109 33 66 67 81 100 37 133 49 166 31"/>
<path class="k1" d="M0 89 33 79 67 97 100 46 133 30 166 32M0 103 33 57 67 79 100 15 133 50 166 69M0 81 33 79 67 101 100 45 133 23 166 44"/>
<path class="k2" d="M0 68 33 83 67 106 100 34 133 55 166 28M0 56 33 33 67 99 100 70 133 26 166 90M0 109 33 67 67 81 100 47 133 38 166 31"/>
<path class="k5" d="M0 52 33 57 67 108 100 35 133 86 166 34M0 80 33 85 67 79 100 26 133 81 166 22M0 118 33 60 67 55 100 56 133 29 166 54"/>
<path class="k6" d="M0 61 33 75 67 80 100 97 133 11 166 50M0 92 33 93 67 81 100 37 133 28 166 42M0 75 33 112 67 60 100 51 133 53 166 23"/>
<path class="k2" d="M0 73 33 51 67 67 100 23 133 48 166 111M0 105 33 39 67 93 100 53 133 47 166 35M0 30 33 45 67 112 100 57 133 49 166 81"/>
<path class="k3" d="M0 74 33 89 67 34 100 94 133 20 166 62M0 78 33 98 67 88 100 29 133 32 166 49M0 95 33 78 67 91 100 25 133 39 166 46"/>
<path class="k0" d="M0 77 33 52 67 115 100 36 133 54 166 40M0 100 33 91 67 41 100 26 133 70 166 45M0 94 33 98 67 64 100 55 133 22 166 41"/>
<path class="k5" d="M0 96 33 68 67 87 100 58 133 13 166 51M0 102 33 81 67 78 100 51 133 34 166 27M0 74 33 83 67 96 100 24 133 28 166 67"/>
<path class="k1" d="M0 112 33 75 67 66 100 40 133 52 166 29M0 101 33 82 67 78 100 37 133 25 166 50M0 81 33 75 67 103 100 25 133 55 166 34M0 79 33 81 67 74 100 80 133 6 166 53"/>
<path class="k4" d="M0 86 33 102 67 73 100 47 133 26 166 39M0 91 33 105 67 55 100 53 133 26 166 43M0 65 33 85 67 96 100 22 133 32 166 74"/>
<path class="k6" d="M0 86 33 72 67 104 100 39 133 34 166 38M0 98 33 76 67 90 100 29 133 38 166 42M0 109 33 54 67 80 100 26 133 66 166 39"/>
<path class="k3" d="M0 63 33 105 67 78 100 26 133 31 166 69M0 56 33 113 67 67 100 63 133 54 166 21M0 91 33 93 67 71 100 24 133 66 166 29"/>
<path class="k5" d="M0 72 33 89 67 79 100 33 133 82 166 17M0 88 33 45 67 99 100 75 133 46 166 21M0 104 33 83 67 67 100 23 133 58 166 38"/>
<path class="k2" d="M0 51 33 101 67 91 100 55 133 21 166 54M0 99 33 50 67 62 100 95 133 43 166 24M0 56 33 83 67 105 100 63 133 20 166 46M0 97 33 76 67 91 100 45 133 30 166 34"/>
<path class="k0" d="M0 83 33 96 67 82 100 22 133 57 166 33M0 94 33 98 67 71 100 30 133 37 166 43M0 73 33 118 67 52 100 42 133 44 166 44"/>
<path class="k4" d="M0 83 33 106 67 55 100 64 133 21 166 46M0 91 33 45 67 79 100 11 133 76 166 71M0 76 33 60 67 102 100 69 133 13 166 53"/>
<path class="k1" d="M0 76 33 91 67 81 100 53 133 64 166 8M0 80 33 94 67 57 100 87 133 28 166 27M0 82 33 74 67 107 100 39 133 37 166 36"/>
<path class="k6" d="M0 110 33 67 67 50 100 73 133 53 166 21M0 74 33 47 67 79 100 106 133 24 166 43M0 92 33 55 67 105 100 37 133 32 166 53"/>
<path class="k5" d="M0 104 33 62 67 92 100 44 133 35 166 36M0 75 33 73 67 110 100 33 133 36 166 45M0 111 33 67 67 70 100 55 133 22 166 47"/>
<path class="k1" d="M0 85 33 103 67 76 100 43 133 34 166 33M0 98 33 92 67 70 100 25 133 50 166 38M0 66 33 58 67 97 100 89 133 16 166 46"/>
<path class="k0" d="M0 82 33 96 67 82 100 24 133 59 166 31M0 93 33 79 67 90 100 19 133 44 166 47M0 64 33 66 67 115 100 35 133 34 166 60"/>
<path class="k3" d="M0 88 33 90 67 87 100 22 133 46 166 40M0 75 33 111 67 46 100 58 133 62 166 22M0 110 33 78 67 26 100 66 133 42 166 52M0 71 33 100 67 85 100 61 133 22 166 35"/>
<path class="k4" d="M0 104 33 77 67 74 100 46 133 18 166 55M0 100 33 76 67 87 100 41 133 26 166 43M0 91 33 89 67 80 100 26 133 60 166 27"/>
<path class="k2" d="M0 112 33 65 67 69 100 33 133 65 166 30M0 101 33 92 67 60 100 58 133 31 166 30M0 86 33 66 67 92 100 41 133 14 166 74"/>
<path class="k3" d="M0 72 33 106 67 64 100 68 133 17 166 46M0 98 33 48 67 58 100 14 133 71 166 84M0 114 33 49 67 26 100 50 133 70 166 64"/>
<path class="k4" d="M0 87 33 94 67 77 100 22 133 62 166 31M0 85 33 87 67 94 100 33 133 45 166 30M0 47 33 92 67 99 100 31 133 71 166 33M0 86 33 92 67 89 100 39 133 39 166 28"/>
<path class="k0" d="M0 100 33 91 67 68 100 24 133 44 166 46M0 94 33 98 67 65 100 39 133 23 166 55M0 110 33 76 67 36 100 49 133 31 166 71"/>
<path class="k1" d="M0 77 33 40 67 112 100 68 133 36 166 40M0 27 33 78 67 109 100 38 133 54 166 67M0 74 33 86 67 86 100 23 133 78 166 26"/>
<path class="k5" d="M0 79 33 108 67 65 100 60 133 28 166 33M0 87 33 99 67 78 100 49 133 33 166 28M0 60 33 90 67 46 100 89 133 75 166 13"/>
<path class="k2" d="M0 85 33 75 67 36 100 98 133 21 166 58M0 48 33 121 67 63 100 45 133 51 166 45M0 76 33 56 67 109 100 56 133 18 166 58"/>
<path class="k6" d="M0 82 33 77 67 94 100 67 133 16 166 37M0 79 33 59 67 91 100 48 133 84 166 12M0 82 33 81 67 61 100 51 133 90 166 10"/>
</g>
<rect class="bx" x="315.05" y="301.1" width="83.2" height="62.2"/>
<g style="stroke-width:2.7" transform="translate(424,301.1) scale(.5)">
<path class="k1" d="M0 47 33 21 66 64 100 85 133 50 166 105M0 32 33 36 66 51 100 112 133 67 166 75M0 41 33 37 66 35 100 69 133 107 166 84"/>
<path class="k4" d="M0 54 33 21 66 43 100 68 133 104 166 84M0 66 33 14 66 47 100 95 133 89 166 62M0 36 33 25 66 56 100 71 133 81 166 105"/>
<path class="k3" d="M0 20 33 74 66 48 100 63 133 58 166 110M0 34 33 32 66 41 100 88 133 95 166 83M0 65 33 16 66 39 100 76 133 96 166 82"/>
<path class="k5" d="M0 30 33 43 66 39 100 73 133 105 166 84M0 49 33 10 66 67 100 79 133 96 166 71M0 20 33 34 66 59 100 91 133 82 166 86"/>
<path class="k2" d="M0 21 33 48 66 45 100 99 133 71 166 90M0 18 33 43 66 56 100 100 133 73 166 83M0 72 33 32 66 20 100 93 133 68 166 88"/>
<path class="k6" d="M0 82 33 8 66 59 100 92 133 57 166 75M0 42 33 28 66 37 100 82 133 95 166 89M0 34 33 59 66 45 100 61 133 55 166 119"/>
<path class="k0" d="M0 25 33 62 66 32 100 76 133 104 166 74M0 22 33 57 66 41 100 63 133 103 166 87M0 41 33 37 66 64 100 51 133 62 166 118M0 16 33 53 66 58 100 86 133 102 166 59"/>
<path class="k3" d="M0 16 33 58 66 46 100 98 133 89 166 67M0 40 33 73 66 13 100 72 133 85 166 89M0 27 33 35 66 45 100 85 133 92 166 89"/>
<path class="k0" d="M0 48 33 15 66 67 100 60 133 84 166 100M0 75 33 35 66 25 100 71 133 59 166 107M0 68 33 79 66 26 100 31 133 64 166 105"/>
<path class="k2" d="M0 57 33 36 66 29 100 99 133 55 166 97M0 47 33 30 66 52 100 85 133 110 166 48M0 15 33 58 66 45 100 94 133 72 166 89"/>
<path class="k4" d="M0 59 33 49 66 34 100 85 133 37 166 110M0 29 33 26 66 75 100 95 133 90 166 58M0 26 33 42 66 41 100 81 133 84 166 99"/>
<path class="k1" d="M0 23 33 64 66 81 100 48 133 49 166 108M0 30 33 47 66 32 100 96 133 92 166 76M0 39 33 32 66 39 100 100 133 72 166 91M0 47 33 42 66 24 100 101 133 75 166 86"/>
<path class="k6" d="M0 62 33 42 66 15 100 91 133 90 166 74M0 25 33 63 66 32 100 65 133 94 166 94M0 23 33 47 66 48 100 69 133 78 166 108"/>
<path class="k5" d="M0 19 33 68 66 45 100 58 133 76 166 107M0 15 33 53 66 59 100 62 133 104 166 80M0 76 33 33 66 35 100 91 133 40 166 99"/>
<path class="k3" d="M0 33 33 50 66 26 100 84 133 95 166 85M0 35 33 76 66 39 100 112 133 43 166 68M0 81 33 47 66 23 100 66 133 48 166 107"/>
<path class="k5" d="M0 48 33 54 66 16 100 68 133 94 166 93M0 85 33 40 66 48 100 112 133 46 166 42M0 62 33 30 66 90 100 80 133 88 166 23"/>
<path class="k6" d="M0 20 33 36 66 60 100 92 133 70 166 94M0 16 33 55 66 58 100 70 133 65 166 108M0 24 33 50 66 39 100 103 133 74 166 83"/>
<path class="k2" d="M0 55 33 65 66 7 100 72 133 89 166 84M0 30 33 33 66 69 100 51 133 87 166 103M0 32 33 20 66 63 100 91 133 84 166 83M0 16 33 56 66 54 100 103 133 59 166 84"/>
<path class="k0" d="M0 16 33 53 66 57 100 90 133 99 166 58M0 52 33 9 66 68 100 87 133 89 166 68M0 33 33 25 66 84 100 68 133 62 166 102"/>
<path class="k1" d="M0 31 33 58 66 33 100 64 133 78 166 110M0 24 33 35 66 76 100 56 133 79 166 103M0 28 33 77 66 22 100 78 133 77 166 92"/>
<path class="k4" d="M0 74 33 59 66 14 100 46 133 82 166 98M0 66 33 4 66 84 100 72 133 65 166 83M0 53 33 30 66 28 100 89 133 96 166 78"/>
<path class="k5" d="M0 55 33 32 66 52 100 42 133 112 166 81M0 46 33 25 66 42 100 104 133 82 166 75M0 38 33 15 66 75 100 88 133 71 166 88"/>
<path class="k4" d="M0 32 33 44 66 45 100 54 133 96 166 102M0 21 33 38 66 94 100 57 133 93 166 71M0 14 33 53 66 52 100 100 133 80 166 75"/>
<path class="k1" d="M0 29 33 37 66 45 100 99 133 70 166 93M0 52 33 17 66 68 100 104 133 51 166 81M0 37 33 28 66 46 100 103 133 75 166 85"/>
<path class="k0" d="M0 16 33 86 66 36 100 66 133 86 166 82M0 50 33 53 66 18 100 75 133 72 166 106M0 13 33 83 66 56 100 61 133 60 166 100"/>
<path class="k3" d="M0 22 33 28 66 83 100 69 133 84 166 88M0 58 33 30 66 34 100 73 133 67 166 111M0 20 33 45 66 50 100 76 133 80 166 103M0 43 33 32 66 52 100 63 133 117 166 67"/>
<path class="k6" d="M0 54 33 42 66 22 100 84 133 104 166 68M0 91 33 30 66 50 100 106 133 42 166 55M0 23 33 38 66 62 100 61 133 87 166 103"/>
<path class="k2" d="M0 26 33 60 66 30 100 72 133 99 166 86M0 30 33 41 66 35 100 91 133 82 166 94M0 49 33 27 66 49 100 104 133 92 166 52"/>
<path class="k4" d="M0 17 33 49 66 53 100 95 133 67 166 93M0 14 33 82 66 37 100 86 133 78 166 76M0 45 33 13 66 62 100 88 133 71 166 93M0 46 33 47 66 24 100 92 133 63 166 102"/>
<path class="k2" d="M0 48 33 16 66 74 100 55 133 103 166 77M0 98 33 25 66 61 100 36 133 94 166 59M0 43 33 40 66 27 100 103 133 81 166 80"/>
<path class="k1" d="M0 70 33 45 66 21 100 54 133 107 166 77M0 48 33 49 66 45 100 53 133 122 166 56M0 58 33 50 66 34 100 35 133 89 166 107"/>
<path class="k0" d="M0 20 33 49 66 43 100 81 133 79 166 100M0 69 33 23 66 33 100 62 133 88 166 98M0 42 33 21 66 57 100 70 133 75 166 107"/>
<path class="k3" d="M0 18 33 98 66 53 100 47 133 91 166 66M0 68 33 74 66 28 100 64 133 107 166 31M0 49 33 25 66 53 100 73 133 60 166 114"/>
<path class="k5" d="M0 50 33 48 66 56 100 55 133 42 166 122M0 60 33 5 66 74 100 81 133 87 166 66M0 20 33 80 66 31 100 81 133 92 166 69"/>
<path class="k6" d="M0 54 33 20 66 69 100 104 133 82 166 45M0 38 33 17 66 68 100 69 133 84 166 97M0 47 33 60 66 16 100 93 133 94 166 63"/>
</g>
<rect class="bx" x="424" y="301.1" width="83" height="62.2"/>
<g style="stroke-width:2.7" transform="translate(534,301.1) scale(.5)">
<path class="k5" d="M0 85 33 5 66 63 99 64 132 72 164 85M0 86 33 94 66 26 99 33 132 50 164 84M0 53 33 86 66 44 99 20 132 102 164 69"/>
<path class="k2" d="M0 68 33 71 66 7 99 59 132 72 164 96M0 68 33 107 66 46 99 27 132 42 164 84M0 95 33 77 66 21 99 37 132 54 164 89"/>
<path class="k6" d="M0 80 33 77 66 45 99 10 132 72 164 89M0 77 33 51 66 14 99 73 132 56 164 102M0 76 33 65 66 27 99 58 132 110 164 37"/>
<path class="k1" d="M0 105 33 36 66 61 99 26 132 85 164 61M0 79 33 56 66 30 99 28 132 102 164 79M0 95 33 93 66 25 99 31 132 66 164 63"/>
<path class="k3" d="M0 87 33 65 66 50 99 38 132 28 164 105M0 87 33 40 66 18 99 59 132 96 164 74M0 94 33 78 66 62 99 10 132 50 164 79"/>
<path class="k4" d="M0 103 33 83 66 47 99 19 132 51 164 70M0 79 33 80 66 33 99 18 132 71 164 92M0 92 33 52 66 34 99 25 132 75 164 95"/>
<path class="k0" d="M0 76 33 69 66 31 99 26 132 66 164 106M0 100 33 50 66 42 99 20 132 80 164 82M0 91 33 88 66 16 99 39 132 76 164 63M0 104 33 59 66 20 99 40 132 70 164 80"/>
<path class="k1" d="M0 58 33 67 66 13 99 52 132 90 164 95M0 111 33 57 66 42 99 49 132 32 164 83M0 88 33 59 66 38 99 18 132 91 164 80M0 55 33 108 66 25 99 53 132 85 164 47"/>
<path class="k0" d="M0 44 33 70 66 30 99 47 132 68 164 114M0 75 33 45 66 13 99 82 132 96 164 61M0 100 33 79 66 18 99 38 132 61 164 76"/>
<path class="k5" d="M0 103 33 46 66 34 99 30 132 84 164 76M0 72 33 35 66 37 99 37 132 99 164 94M0 96 33 87 66 39 99 20 132 54 164 78"/>
<path class="k2" d="M0 94 33 76 66 16 99 40 132 86 164 60M0 98 33 68 66 42 99 14 132 80 164 70M0 63 33 63 66 54 99 19 132 62 164 112"/>
<path class="k3" d="M0 78 33 58 66 18 99 40 132 97 164 83M0 49 33 70 66 24 99 66 132 52 164 113M0 76 33 58 66 44 99 18 132 104 164 74"/>
<path class="k6" d="M0 98 33 73 66 9 99 61 132 59 164 72M0 79 33 45 66 30 99 41 132 67 164 110M0 68 33 80 66 39 99 61 132 21 164 104"/>
<path class="k4" d="M0 75 33 72 66 25 99 31 132 67 164 104M0 114 33 41 66 39 99 48 132 82 164 49M0 81 33 81 66 45 99 9 132 73 164 84"/>
<path class="k6" d="M0 112 33 82 66 33 99 40 132 48 164 59M0 69 33 99 66 75 99 18 132 37 164 75M0 87 33 69 66 28 99 56 132 32 164 102"/>
<path class="k2" d="M0 76 33 83 66 26 99 39 132 46 164 103M0 64 33 72 66 9 99 61 132 68 164 99M0 113 33 64 66 49 99 26 132 49 164 73M0 47 33 53 66 28 99 49 132 86 164 109"/>
<path class="k4" d="M0 64 33 90 66 40 99 17 132 95 164 67M0 101 33 79 66 18 99 39 132 74 164 62M0 65 33 81 66 38 99 15 132 90 164 84"/>
<path class="k1" d="M0 76 33 54 66 13 99 49 132 89 164 91M0 87 33 70 66 29 99 24 132 67 164 96M0 65 33 71 66 20 99 37 132 77 164 103"/>
<path class="k3" d="M0 75 33 74 66 22 99 27 132 88 164 87M0 102 33 34 66 60 99 23 132 73 164 80M0 47 33 77 66 17 99 50 132 87 164 95"/>
<path class="k0" d="M0 75 33 48 66 22 99 43 132 81 164 103M0 87 33 75 66 17 99 39 132 94 164 62M0 71 33 61 66 57 99 12 132 69 164 104"/>
<path class="k5" d="M0 62 33 120 66 42 99 53 132 40 164 56M0 78 33 74 66 43 99 10 132 82 164 85M0 85 33 59 66 22 99 34 132 75 164 98"/>
<path class="k3" d="M0 47 33 51 66 64 99 23 132 109 164 79M0 32 33 96 66 38 99 39 132 72 164 96M0 69 33 82 66 44 99 44 132 107 164 27M0 86 33 78 66 50 99 11 132 59 164 90"/>
<path class="k5" d="M0 71 33 68 66 21 99 86 132 32 164 95M0 77 33 56 66 36 99 23 132 103 164 79M0 78 33 52 66 33 99 28 132 76 164 106"/>
<path class="k0" d="M0 81 33 46 66 86 99 12 132 60 164 88M0 65 33 57 66 34 99 45 132 53 164 119M0 72 33 53 66 67 99 8 132 87 164 86"/>
<path class="k6" d="M0 89 33 60 66 41 99 28 132 49 164 106M0 84 33 53 66 9 99 59 132 80 164 88M0 106 33 76 66 30 99 42 132 40 164 80"/>
<path class="k1" d="M0 54 33 94 66 33 99 63 132 29 164 99M0 96 33 57 66 20 99 42 132 94 164 64M0 36 33 102 66 39 99 35 132 71 164 90"/>
<path class="k2" d="M0 112 33 48 66 29 99 42 132 69 164 74M0 54 33 68 66 30 99 83 132 33 164 106M0 99 33 22 66 84 99 61 132 34 164 73"/>
<path class="k4" d="M0 71 33 112 66 25 99 54 132 69 164 42M0 110 33 46 66 51 99 25 132 61 164 81M0 97 33 56 66 48 99 38 132 34 164 102"/>
<path class="k4" d="M0 86 33 89 66 18 99 42 132 51 164 87M0 81 33 61 66 46 99 12 132 88 164 87M0 77 33 82 66 39 99 12 132 86 164 77M0 61 33 67 66 5 99 84 132 84 164 72"/>
<path class="k2" d="M0 73 33 98 66 30 99 64 132 85 164 24M0 101 33 51 66 21 99 50 132 57 164 93M0 115 33 67 66 48 99 26 132 59 164 59"/>
<path class="k0" d="M0 86 33 80 66 60 99 5 132 75 164 68M0 95 33 82 66 14 99 41 132 69 164 72M0 110 33 50 66 37 99 39 132 51 164 87"/>
<path class="k1" d="M0 86 33 99 66 44 99 18 132 55 164 72M0 114 33 49 66 62 99 65 132 24 164 59M0 79 33 65 66 26 99 29 132 70 164 103"/>
<path class="k5" d="M0 33 33 65 66 22 99 67 132 95 164 91M0 79 33 84 66 42 99 14 132 93 164 61M0 105 33 65 66 28 99 35 132 55 164 85"/>
<path class="k6" d="M0 96 33 22 66 45 99 60 132 53 164 97M0 86 33 77 66 32 99 18 132 74 164 87M0 78 33 97 66 20 99 37 132 84 164 57"/>
<path class="k3" d="M0 78 33 98 66 22 99 30 132 71 164 74M0 54 33 98 66 23 99 35 132 77 164 85M0 45 33 74 66 57 99 15 132 86 164 96"/>
</g>
<rect class="bx" x="534" y="301.1" width="82.2" height="62.2"/>
<g style="stroke-width:3" transform="translate(664.2,38.4) scale(.5)">
<path class="k4" d="M0 75 33 20 67 39 100 98 133 90 166 60M0 46 33 109 67 31 100 87 133 68 166 39M0 101 33 67 67 9 100 75 133 59 166 71"/>
<path class="k3" d="M0 37 33 51 67 71 100 111 133 31 166 80M0 58 33 41 67 63 100 88 133 107 166 24M0 63 33 78 67 92 100 53 133 9 166 86"/>
<path class="k2" d="M0 19 33 38 67 86 100 76 133 63 166 99M0 85 33 44 67 46 100 23 133 100 166 84M0 63 33 44 67 70 100 30 133 56 166 118"/>
<path class="k0" d="M0 40 33 67 67 119 100 55 133 35 166 65M0 48 33 100 67 14 100 69 133 64 166 87M0 95 33 23 67 73 100 38 133 55 166 97M0 37 33 72 67 84 100 104 133 63 166 22"/>
<path class="k5" d="M0 101 33 81 67 31 100 24 133 79 166 64M0 71 33 81 67 111 100 47 133 42 166 29M0 49 33 30 67 82 100 39 133 111 166 70"/>
<path class="k6" d="M0 38 33 71 67 115 100 32 133 73 166 52M0 50 33 71 67 28 100 118 133 59 166 54M0 101 33 39 67 73 100 36 133 95 166 37"/>
<path class="k1" d="M0 36 33 93 67 19 100 64 133 80 166 90M0 40 33 29 67 83 100 44 133 79 166 106M0 16 33 40 67 71 100 75 133 102 166 76"/>
<path class="k6" d="M0 67 33 18 67 97 100 96 133 49 166 54M0 105 33 80 67 37 100 53 133 25 166 82M0 93 33 26 67 81 100 25 133 83 166 73"/>
<path class="k2" d="M0 60 33 64 67 76 100 7 133 81 166 93M0 60 33 83 67 64 100 10 133 99 166 64M0 73 33 21 67 102 100 88 133 57 166 40"/>
<path class="k0" d="M0 97 33 50 67 39 100 89 133 23 166 84M0 92 33 91 67 73 100 61 133 11 166 52M0 15 33 92 67 93 100 42 133 67 166 72"/>
<path class="k3" d="M0 76 33 23 67 34 100 104 133 64 166 80M0 63 33 85 67 45 100 15 133 99 166 74M0 38 33 56 67 53 100 109 133 33 166 91"/>
<path class="k5" d="M0 49 33 34 67 34 100 72 133 81 166 111M0 6 33 70 67 87 100 69 133 61 166 87M0 91 33 91 67 44 100 42 133 89 166 24"/>
<path class="k4" d="M0 80 33 56 67 57 100 77 133 11 166 99M0 106 33 57 67 37 100 71 133 25 166 86M0 70 33 18 67 75 100 101 133 37 166 80"/>
<path class="k1" d="M0 88 33 73 67 17 100 97 133 66 166 39M0 18 33 49 67 79 100 109 133 67 166 59M0 60 33 22 67 89 100 106 133 44 166 60M0 67 33 7 67 90 100 70 133 59 166 88"/>
<path class="k5" d="M0 90 33 43 67 109 100 62 133 31 166 47M0 30 33 53 67 82 100 40 133 113 166 62M0 41 33 84 67 99 100 74 133 16 166 67"/>
<path class="k2" d="M0 61 33 42 67 92 100 20 133 101 166 65M0 46 33 65 67 37 100 52 133 122 166 59M0 30 33 102 67 75 100 73 133 78 166 24M0 55 33 106 67 39 100 26 133 67 166 88"/>
<path class="k4" d="M0 25 33 53 67 108 100 48 133 90 166 58M0 23 33 96 67 89 100 30 133 72 166 71M0 87 33 35 67 97 100 36 133 89 166 37"/>
<path class="k1" d="M0 76 33 53 67 82 100 69 133 93 166 8M0 93 33 18 67 65 100 58 133 100 166 47M0 40 33 121 67 62 100 42 133 49 166 67"/>
<path class="k0" d="M0 81 33 66 67 3 100 74 133 85 166 71M0 51 33 47 67 47 100 60 133 124 166 51M0 40 33 58 67 102 100 21 133 88 166 72"/>
<path class="k3" d="M0 69 33 23 67 103 100 70 133 33 166 84M0 25 33 53 67 36 100 82 133 102 166 83M0 28 33 85 67 47 100 70 133 42 166 109"/>
<path class="k6" d="M0 79 33 76 67 81 100 2 133 72 166 71M0 38 33 98 67 69 100 101 133 35 166 40M0 76 33 7 67 92 100 68 133 55 166 83"/>
<path class="k4" d="M0 35 33 38 67 112 100 63 133 48 166 86M0 69 33 27 67 113 100 40 133 58 166 74M0 112 33 24 67 55 100 82 133 46 166 61"/>
<path class="k3" d="M0 41 33 88 67 52 100 74 133 103 166 23M0 108 33 37 67 71 100 22 133 75 166 67M0 85 33 50 67 78 100 92 133 65 166 10M0 46 33 93 67 22 100 49 133 70 166 102"/>
<path class="k1" d="M0 57 33 32 67 73 100 71 133 33 166 113M0 67 33 60 67 52 100 54 133 28 166 119M0 97 33 91 67 51 100 78 133 45 166 19"/>
<path class="k6" d="M0 8 33 65 67 63 100 73 133 99 166 73M0 91 33 81 67 88 100 42 133 14 166 65M0 66 33 36 67 87 100 18 133 83 166 92"/>
<path class="k2" d="M0 62 33 101 67 48 100 99 133 40 166 31M0 84 33 78 67 32 100 51 133 31 166 105M0 41 33 28 67 52 100 103 133 60 166 97"/>
<path class="k5" d="M0 16 33 89 67 35 100 86 133 80 166 74M0 72 33 44 67 47 100 27 133 81 166 110M0 31 33 99 67 39 100 102 133 61 166 48"/>
<path class="k0" d="M0 74 33 57 67 58 100 111 133 65 166 17M0 114 33 33 67 81 100 62 133 39 166 52M0 72 33 69 67 109 100 25 133 72 166 35"/>
<path class="k0" d="M0 39 33 72 67 95 100 15 133 74 166 85M0 50 33 24 67 81 100 41 133 106 166 79M0 15 33 85 67 37 100 78 133 87 166 79"/>
<path class="k2" d="M0 58 33 65 67 104 100 82 133 60 166 13M0 107 33 54 67 30 100 32 133 81 166 76M0 53 33 109 67 29 100 74 133 81 166 36"/>
<path class="k5" d="M0 14 33 104 67 69 100 50 133 68 166 77M0 40 33 113 67 27 100 61 133 78 166 61M0 74 33 54 67 7 100 72 133 90 166 84"/>
<path class="k4" d="M0 43 33 86 67 44 100 97 133 87 166 24M0 44 33 73 67 88 100 39 133 31 166 106M0 32 33 30 67 78 100 67 133 62 166 111M0 50 33 117 67 77 100 36 133 62 166 39"/>
<path class="k6" d="M0 15 33 77 67 52 100 69 133 61 166 107M0 83 33 67 67 15 100 83 133 40 166 93M0 44 33 39 67 84 100 55 133 43 166 115"/>
<path class="k3" d="M0 68 33 108 67 28 100 61 133 83 166 33M0 94 33 73 67 61 100 16 133 45 166 94M0 82 33 80 67 54 100 55 133 98 166 12"/>
<path class="k1" d="M0 80 33 12 67 49 100 61 133 97 166 82M0 84 33 27 67 34 100 106 133 72 166 58M0 40 33 17 67 61 100 95 133 78 166 89"/>
<path class="k2" d="M0 10 33 63 67 69 100 86 133 98 166 55M0 46 33 69 67 24 100 84 133 48 166 109M0 69 33 49 67 63 100 68 133 20 166 112"/>
<path class="k5" d="M0 29 33 69 67 39 100 76 133 114 166 53M0 32 33 23 67 100 100 79 133 82 166 65M0 108 33 52 67 41 100 25 133 73 166 82M0 31 33 26 67 67 100 73 133 79 166 106"/>
<path class="k4" d="M0 78 33 89 67 26 100 65 133 28 166 96M0 72 33 90 67 79 100 31 133 89 166 20M0 11 33 56 67 74 100 60 133 77 166 102"/>
<path class="k6" d="M0 86 33 21 67 32 100 91 133 86 166 65M0 82 33 34 67 27 100 63 133 109 166 65M0 110 33 20 67 60 100 73 133 72 166 45"/>
<path class="k3" d="M0 64 33 72 67 66 100 7 133 98 166 74M0 48 33 71 67 91 100 104 133 38 166 29M0 24 33 93 67 105 100 59 133 52 166 47"/>
<path class="k0" d="M0 72 33 41 67 83 100 22 133 56 166 107M0 76 33 31 67 85 100 106 133 36 166 46M0 60 33 30 67 116 100 39 133 74 166 62"/>
<path class="k1" d="M0 99 33 58 67 93 100 68 133 17 166 47M0 45 33 66 67 36 100 52 133 121 166 61M0 70 33 61 67 26 100 48 133 117 166 60"/>
<path class="k3" d="M0 89 33 46 67 20 100 49 133 100 166 78M0 82 33 58 67 70 100 24 133 108 166 38M0 34 33 87 67 79 100 104 133 37 166 40"/>
<path class="k5" d="M0 74 33 111 67 35 100 50 133 33 166 78M0 24 33 49 67 55 100 62 133 114 166 77M0 70 33 77 67 98 100 36 133 81 166 18"/>
<path class="k4" d="M0 91 33 71 67 74 100 91 133 38 166 16M0 25 33 38 67 55 100 71 133 85 166 106M0 102 33 56 67 98 100 30 133 58 166 37"/>
<path class="k0" d="M0 20 33 99 67 58 100 38 133 80 166 85M0 86 33 87 67 69 100 73 133 61 166 5M0 84 33 60 67 66 100 107 133 42 166 21"/>
<path class="k2" d="M0 85 33 95 67 49 100 91 133 26 166 35M0 109 33 92 67 53 100 43 133 31 166 54M0 42 33 91 67 62 100 109 133 46 166 31"/>
<path class="k6" d="M0 67 33 61 67 44 100 78 133 110 166 21M0 54 33 77 67 38 100 27 133 77 166 109M0 61 33 16 67 109 100 54 133 76 166 65M0 58 33 34 67 112 100 86 133 56 166 35"/>
<path class="k1" d="M0 78 33 87 67 100 100 26 133 31 166 58M0 70 33 64 67 37 100 112 133 26 166 72M0 90 33 36 67 93 100 81 133 20 166 61"/>
<path class="k6" d="M0 63 33 87 67 61 100 107 133 36 166 27M0 45 33 29 67 63 100 82 133 49 166 113M0 67 33 100 67 51 100 77 133 11 166 74"/>
<path class="k2" d="M0 95 33 40 67 86 100 47 133 23 166 89M0 65 33 108 67 14 100 72 133 64 166 58M0 115 33 86 67 43 100 42 133 48 166 47"/>
<path class="k5" d="M0 71 33 37 67 41 100 47 133 65 166 119M0 93 33 5 67 76 100 62 133 69 166 77M0 43 33 98 67 46 100 103 133 32 166 60"/>
<path class="k0" d="M0 105 33 40 67 87 100 21 133 63 166 65M0 46 33 99 67 77 100 28 133 37 166 93M0 38 33 52 67 30 100 109 133 63 166 88M0 94 33 38 67 76 100 56 133 96 166 21"/>
<path class="k3" d="M0 112 33 62 67 41 100 50 133 85 166 31M0 47 33 101 67 17 100 54 133 74 166 87M0 72 33 6 67 96 100 67 133 73 166 68"/>
<path class="k1" d="M0 59 33 33 67 83 100 31 133 110 166 64M0 23 33 43 67 51 100 88 133 73 166 103M0 90 33 41 67 75 100 93 133 15 166 66"/>
<path class="k4" d="M0 77 33 39 67 99 100 51 133 24 166 91M0 88 33 83 67 42 100 100 133 35 166 33M0 79 33 75 67 93 100 33 133 83 166 18"/>
<path class="k1" d="M0 83 33 22 67 94 100 38 133 91 166 53M0 18 33 88 67 53 100 104 133 52 166 66M0 65 33 98 67 66 100 9 133 82 166 61M0 7 33 66 67 76 100 71 133 98 166 63"/>
<path class="k5" d="M0 96 33 24 67 33 100 82 133 58 166 88M0 34 33 29 67 89 100 66 133 58 166 106M0 69 33 24 67 29 100 93 133 71 166 94"/>
<path class="k2" d="M0 47 33 32 67 104 100 80 133 85 166 33M0 19 33 88 67 98 100 69 133 71 166 36M0 12 33 47 67 65 100 96 133 84 166 77"/>
<path class="k4" d="M0 64 33 60 67 44 100 121 133 36 166 56M0 99 33 35 67 82 100 24 133 86 166 54M0 62 33 85 67 29 100 69 133 30 166 105"/>
<path class="k6" d="M0 61 33 45 67 23 100 96 133 55 166 101M0 41 33 54 67 49 100 124 133 62 166 52M0 101 33 95 67 46 100 72 133 35 166 32"/>
<path class="k3" d="M0 76 33 17 67 63 100 98 133 40 166 87M0 67 33 85 67 88 100 7 133 78 166 55M0 45 33 62 67 38 100 117 133 41 166 79"/>
<path class="k0" d="M0 78 33 56 67 103 100 16 133 48 166 79M0 44 33 91 67 55 100 16 133 88 166 87M0 85 33 17 67 49 100 101 133 77 166 52"/>
<path class="k4" d="M0 88 33 82 67 94 100 53 133 14 166 49M0 35 33 108 67 59 100 32 133 90 166 58M0 31 33 86 67 82 100 35 133 45 166 102"/>
<path class="k0" d="M0 50 33 91 67 61 100 12 133 92 166 75M0 42 33 55 67 119 100 66 133 65 166 33M0 94 33 86 67 78 100 44 133 13 166 66"/>
<path class="k5" d="M0 34 33 33 67 104 100 66 133 94 166 50M0 52 33 51 67 112 100 24 133 84 166 59M0 56 33 82 67 73 100 6 133 87 166 77"/>
<path class="k2" d="M0 70 33 98 67 78 100 8 133 57 166 70M0 86 33 79 67 44 100 80 133 10 166 82M0 103 33 32 67 77 100 34 133 46 166 88M0 86 33 16 67 83 100 83 133 78 166 34"/>
<path class="k1" d="M0 87 33 55 67 69 100 93 133 70 166 9M0 108 33 70 67 26 100 34 133 80 166 63M0 37 33 73 67 115 100 74 133 42 166 39"/>
<path class="k3" d="M0 34 33 85 67 52 100 28 133 104 166 77M0 113 33 86 67 32 100 42 133 50 166 59M0 104 33 64 67 74 100 19 133 40 166 80"/>
<path class="k6" d="M0 71 33 67 67 12 100 66 133 106 166 58M0 69 33 62 67 62 100 8 133 95 166 85M0 31 33 53 67 49 100 119 133 57 166 72"/>
<path class="k3" d="M0 51 33 38 67 121 100 63 133 65 166 43M0 33 33 18 67 76 100 89 133 79 166 86M0 48 33 98 67 14 100 59 133 87 166 75M0 71 33 10 67 86 100 60 133 58 166 96"/>
<path class="k2" d="M0 65 33 47 67 76 100 113 133 22 166 58M0 38 33 72 67 28 100 113 133 56 166 72M0 38 33 64 67 123 100 57 133 48 166 52"/>
<path class="k5" d="M0 36 33 85 67 25 100 65 133 64 166 106M0 59 33 85 67 6 100 79 133 85 166 67M0 27 33 101 67 65 100 34 133 95 166 58"/>
<path class="k0" d="M0 78 33 31 67 105 100 31 133 84 166 53M0 51 33 74 67 21 100 75 133 110 166 50M0 80 33 37 67 85 100 43 133 105 166 31"/>
<path class="k1" d="M0 56 33 75 67 15 100 100 133 86 166 49M0 41 33 102 67 87 100 54 133 21 166 75M0 80 33 95 67 9 100 76 133 52 166 70"/>
<path class="k4" d="M0 68 33 28 67 73 100 90 133 96 166 26M0 110 33 39 67 63 100 26 133 82 166 60M0 61 33 43 67 99 100 100 133 25 166 53"/>
<path class="k6" d="M0 94 33 70 67 66 100 95 133 37 166 20M0 110 33 77 67 77 100 25 133 48 166 44M0 50 33 56 67 16 100 83 133 73 166 103"/>
<path class="k0" d="M0 98 33 60 67 77 100 52 133 83 166 12M0 43 33 71 67 63 100 118 133 57 166 30M0 75 33 26 67 85 100 105 133 54 166 35"/>
<path class="k4" d="M0 93 33 34 67 34 100 51 133 106 166 64M0 72 33 115 67 55 100 21 133 57 166 61M0 94 33 107 67 46 100 60 133 30 166 44M0 110 33 81 67 42 100 37 133 75 166 36"/>
<path class="k6" d="M0 113 33 30 67 66 100 43 133 49 166 80M0 63 33 88 67 9 100 53 133 84 166 84M0 30 33 42 67 91 100 108 133 58 166 52"/>
<path class="k1" d="M0 75 33 19 67 88 100 56 133 42 166 101M0 20 33 82 67 92 100 78 133 31 166 79M0 28 33 102 67 80 100 85 133 32 166 54"/>
<path class="k5" d="M0 99 33 77 67 44 100 87 133 57 166 17M0 71 33 48 67 87 100 72 133 10 166 92M0 18 33 45 67 61 100 83 133 68 166 106"/>
<path class="k2" d="M0 119 33 70 67 44 100 36 133 65 166 47M0 89 33 53 67 83 100 96 133 22 166 38M0 58 33 9 67 84 100 74 133 62 166 95"/>
<path class="k3" d="M0 84 33 63 67 10 100 67 133 58 166 100M0 48 33 44 67 30 100 70 133 74 166 115M0 96 33 67 67 73 100 14 133 43 166 88"/>
<path class="k6" d="M0 50 33 37 67 78 100 110 133 76 166 30M0 67 33 35 67 20 100 100 133 76 166 83M0 81 33 59 67 59 100 96 133 9 166 78"/>
<path class="k2" d="M0 35 33 78 67 36 100 56 133 61 166 116M0 95 33 88 67 80 100 27 133 65 166 27M0 101 33 78 67 91 100 44 133 28 166 40"/>
<path class="k1" d="M0 49 33 40 67 104 100 31 133 97 166 60M0 49 33 59 67 102 100 62 133 91 166 17M0 92 33 56 67 52 100 90 133 80 166 12"/>
<path class="k3" d="M0 30 33 26 67 83 100 95 133 57 166 90M0 107 33 35 67 91 100 47 133 65 166 36M0 45 33 45 67 99 100 22 133 80 166 90"/>
<path class="k5" d="M0 25 33 82 67 45 100 41 133 88 166 100M0 92 33 57 67 22 100 80 133 94 166 35M0 66 33 13 67 94 100 55 133 56 166 95M0 72 33 64 67 88 100 76 133 4 166 77"/>
<path class="k0" d="M0 108 33 27 67 75 100 52 133 81 166 38M0 46 33 42 67 78 100 45 133 119 166 51M0 53 33 64 67 70 100 26 133 117 166 50"/>
<path class="k4" d="M0 74 33 49 67 55 100 26 133 62 166 116M0 56 33 98 67 88 100 60 133 12 166 66M0 86 33 103 67 55 100 42 133 20 166 75"/>
<path class="k4" d="M0 85 33 85 67 51 100 37 133 25 166 99M0 18 33 39 67 79 100 72 133 103 166 69M0 57 33 86 67 9 100 93 133 76 166 61"/>
<path class="k1" d="M0 61 33 36 67 54 100 96 133 30 166 103M0 54 33 62 67 9 100 88 133 88 166 81M0 7 33 69 67 89 100 56 133 75 166 86"/>
<path class="k2" d="M0 70 33 82 67 79 100 52 133 8 166 91M0 37 33 53 67 117 100 36 133 74 166 65M0 37 33 19 67 69 100 101 133 72 166 82"/>
<path class="k0" d="M0 19 33 77 67 60 100 51 133 111 166 63M0 40 33 52 67 46 100 82 133 117 166 44M0 54 33 41 67 99 100 105 133 39 166 42"/>
<path class="k6" d="M0 76 33 34 67 49 100 29 133 92 166 100M0 60 33 74 67 53 100 109 133 68 166 16M0 92 33 91 67 87 100 54 133 25 166 33M0 62 33 78 67 41 100 16 133 85 166 97"/>
<path class="k3" d="M0 110 33 36 67 49 100 37 133 58 166 90M0 95 33 25 67 63 100 40 133 101 166 56M0 110 33 40 67 55 100 26 133 83 166 66"/>
<path class="k5" d="M0 78 33 72 67 76 100 100 133 19 166 35M0 40 33 19 67 93 100 75 133 60 166 95M0 120 33 38 67 74 100 52 133 45 166 52"/>
<path class="k6" d="M0 100 33 51 67 56 100 43 133 29 166 101M0 86 33 12 67 62 100 90 133 47 166 85M0 72 33 34 67 113 100 34 133 75 166 53"/>
<path class="k5" d="M0 25 33 53 67 90 100 66 133 41 166 106M0 84 33 47 67 63 100 55 133 109 166 22M0 29 33 75 67 44 100 73 133 46 166 113"/>
<path class="k0" d="M0 72 33 54 67 71 100 72 133 102 166 10M0 46 33 89 67 77 100 42 133 25 166 102M0 101 33 81 67 32 100 31 133 48 166 88M0 85 33 21 67 87 100 66 133 31 166 91"/>
<path class="k1" d="M0 117 33 27 67 54 100 47 133 71 166 64M0 116 33 32 67 55 100 40 133 61 166 77M0 122 33 45 67 50 100 39 133 63 166 62"/>
<path class="k3" d="M0 27 33 34 67 111 100 69 133 70 166 71M0 66 33 68 67 61 100 115 133 50 166 22M0 86 33 91 67 63 100 11 133 81 166 49"/>
<path class="k4" d="M0 104 33 47 67 92 100 23 133 51 166 64M0 77 33 48 67 36 100 100 133 28 166 91M0 83 33 79 67 47 100 87 133 9 166 76"/>
<path class="k2" d="M0 70 33 59 67 50 100 25 133 116 166 62M0 82 33 91 67 23 100 36 133 55 166 95M0 35 33 97 67 58 100 22 133 81 166 87"/>
<path class="k2" d="M0 34 33 39 67 109 100 74 133 84 166 42M0 101 33 21 67 80 100 33 133 72 166 74M0 57 33 72 67 115 100 26 133 43 166 68"/>
<path class="k6" d="M0 112 33 49 67 72 100 58 133 70 166 20M0 69 33 25 67 77 100 73 133 105 166 31M0 106 33 36 67 48 100 35 133 95 166 61"/>
<path class="k0" d="M0 67 33 30 67 109 100 53 133 37 166 86M0 78 33 72 67 13 100 57 133 57 166 104M0 75 33 35 67 96 100 97 133 28 166 50"/>
<path class="k4" d="M0 18 33 70 67 86 100 72 133 37 166 98M0 38 33 72 67 80 100 112 133 37 166 41M0 75 33 51 67 25 100 55 133 59 166 116"/>
<path class="k1" d="M0 113 33 23 67 51 100 59 133 57 166 79M0 115 33 61 67 38 100 33 133 81 166 54M0 102 33 17 67 41 100 69 133 82 166 69M0 96 33 39 67 36 100 43 133 105 166 63"/>
<path class="k5" d="M0 113 33 32 67 51 100 79 133 69 166 37M0 48 33 39 67 123 100 66 133 52 166 53M0 9 33 54 67 67 100 70 133 97 166 83"/>
<path class="k3" d="M0 87 33 6 67 60 100 86 133 63 166 79M0 21 33 86 67 29 100 73 133 86 166 85M0 33 33 111 67 37 100 68 133 48 166 84"/>
<path class="k3" d="M0 27 33 39 67 52 100 104 133 65 166 93M0 69 33 23 67 116 100 55 133 58 166 60M0 110 33 85 67 66 100 47 133 42 166 29"/>
<path class="k2" d="M0 80 33 64 67 99 100 12 133 76 166 50M0 85 33 85 67 25 100 100 133 40 166 45M0 105 33 78 67 43 100 60 133 19 166 77M0 40 33 120 67 56 100 51 133 73 166 41"/>
<path class="k4" d="M0 107 33 16 67 61 100 58 133 55 166 82M0 34 33 80 67 72 100 22 133 69 166 104M0 45 33 74 67 13 100 67 133 91 166 91"/>
<path class="k5" d="M0 85 33 100 67 41 100 22 133 51 166 83M0 28 33 58 67 79 100 29 133 89 166 98M0 51 33 38 67 42 100 107 133 47 166 97"/>
<path class="k6" d="M0 32 33 67 67 95 100 101 133 57 166 29M0 76 33 73 67 66 100 104 133 15 166 47M0 66 33 42 67 92 100 89 133 77 166 14"/>
<path class="k0" d="M0 62 33 82 67 53 100 99 133 75 166 11M0 53 33 51 67 116 100 35 133 81 166 45M0 19 33 102 67 58 100 58 133 51 166 94"/>
<path class="k1" d="M0 91 33 27 67 100 100 36 133 50 166 78M0 105 33 43 67 86 100 77 133 27 166 43M0 27 33 78 67 44 100 114 133 56 166 63"/>
<path class="k5" d="M0 65 33 28 67 109 100 88 133 47 166 44"/>
<path class="k6" d="M0 80 33 75 67 48 100 19 133 52 166 107"/>
<path class="k1" d="M0 65 33 67 67 64 100 50 133 21 166 114"/>
<path class="k0" d="M0 33 33 69 67 84 100 108 133 28 166 59"/>
<path class="k4" d="M0 43 33 86 67 98 100 24 133 43 166 86"/>
<path class="k3" d="M0 12 33 77 67 81 100 52 133 100 166 59"/>
</g>
<rect class="bx" x="664.2" y="38.4" width="83.2" height="63.5"/>
<g style="stroke-width:3" transform="translate(664.2,126.7) scale(.5)">
<path class="k2" d="M0 73 33 89 67 27 100 37 133 100 166 47M0 64 33 24 67 71 100 30 133 91 166 93M0 95 33 66 67 89 100 16 133 41 166 66"/>
<path class="k1" d="M0 53 33 50 67 20 100 73 133 68 166 110M0 86 33 53 67 45 100 79 133 94 166 16M0 55 33 104 67 46 100 37 133 94 166 37"/>
<path class="k5" d="M0 85 33 87 67 64 100 66 133 5 166 66M0 27 33 104 67 34 100 65 133 57 166 86M0 88 33 51 67 12 100 60 133 68 166 94"/>
<path class="k3" d="M0 45 33 82 67 104 100 18 133 63 166 60M0 98 33 73 67 73 100 55 133 9 166 67M0 86 33 83 67 24 100 50 133 36 166 94"/>
<path class="k4" d="M0 15 33 82 67 59 100 104 133 56 166 58M0 49 33 83 67 55 100 41 133 32 166 111M0 96 33 42 67 53 100 90 133 73 166 19"/>
<path class="k0" d="M0 90 33 20 67 74 100 36 133 93 166 59M0 90 33 66 67 35 100 88 133 76 166 18M0 51 33 108 67 89 100 43 133 48 166 33M0 69 33 28 67 58 100 56 133 46 166 116"/>
<path class="k6" d="M0 43 33 44 67 104 100 57 133 94 166 31M0 41 33 51 67 99 100 101 133 44 166 37M0 25 33 90 67 82 100 55 133 91 166 31"/>
<path class="k2" d="M0 55 33 48 67 58 100 20 133 99 166 94M0 70 33 23 67 75 100 42 133 55 166 109M0 92 33 78 67 34 100 18 133 82 166 70"/>
<path class="k5" d="M0 108 33 44 67 81 100 53 133 64 166 24M0 29 33 92 67 95 100 64 133 67 166 26M0 6 33 75 67 61 100 85 133 86 166 61"/>
<path class="k4" d="M0 51 33 37 67 91 100 92 133 22 166 79M0 93 33 47 67 54 100 27 133 48 166 104M0 58 33 67 67 17 100 67 133 109 166 55"/>
<path class="k0" d="M0 97 33 19 67 44 100 94 133 57 166 62M0 89 33 35 67 62 100 62 133 101 166 24M0 51 33 59 67 49 100 22 133 104 166 88"/>
<path class="k3" d="M0 72 33 114 67 53 100 26 133 57 166 51M0 23 33 52 67 39 100 95 133 96 166 69M0 94 33 70 67 72 100 46 133 82 166 11"/>
<path class="k6" d="M0 34 33 75 67 84 100 18 133 71 166 92M0 12 33 69 67 45 100 85 133 71 166 92M0 102 33 80 67 70 100 64 133 37 166 21"/>
<path class="k1" d="M0 92 33 77 67 16 100 48 133 50 166 90M0 27 33 56 67 65 100 113 133 72 166 40M0 82 33 101 67 76 100 49 133 46 166 19M0 50 33 46 67 104 100 43 133 96 166 34"/>
<path class="k6" d="M0 88 33 47 67 101 100 45 133 71 166 22M0 75 33 61 67 84 100 97 133 37 166 19M0 100 33 68 67 64 100 49 133 80 166 13"/>
<path class="k3" d="M0 10 33 43 67 78 100 86 133 80 166 76M0 59 33 42 67 19 100 89 133 64 166 100M0 26 33 57 67 58 100 75 133 45 166 113"/>
<path class="k2" d="M0 40 33 116 67 48 100 56 133 76 166 37M0 67 33 89 67 7 100 81 133 53 166 76M0 103 33 42 67 47 100 26 133 66 166 90M0 47 33 21 67 103 100 56 133 57 166 89"/>
<path class="k5" d="M0 83 33 76 67 57 100 92 133 10 166 55M0 62 33 32 67 49 100 115 133 43 166 73M0 69 33 90 67 18 100 73 133 89 166 34"/>
<path class="k1" d="M0 49 33 72 67 32 100 117 133 47 166 56M0 64 33 60 67 52 100 92 133 12 166 92M0 48 33 39 67 61 100 110 133 83 166 31"/>
<path class="k4" d="M0 18 33 68 67 87 100 33 133 84 166 83M0 42 33 101 67 96 100 31 133 62 166 42M0 56 33 101 67 50 100 93 133 53 166 21"/>
<path class="k0" d="M0 57 33 49 67 73 100 96 133 13 166 85M0 72 33 12 67 43 100 84 133 92 166 70M0 22 33 57 67 69 100 106 133 40 166 78"/>
<path class="k4" d="M0 100 33 57 67 33 100 88 133 25 166 69M0 23 33 37 67 61 100 102 133 88 166 62M0 57 33 61 67 66 100 69 133 107 166 14"/>
<path class="k3" d="M0 99 33 36 67 53 100 95 133 62 166 28M0 33 33 81 67 43 100 37 133 108 166 71M0 32 33 85 67 100 100 75 133 25 166 56M0 81 33 43 67 24 100 41 133 90 166 94"/>
<path class="k6" d="M0 80 33 31 67 93 100 74 133 19 166 76M0 97 33 64 67 26 100 30 133 91 166 65M0 84 33 49 67 34 100 36 133 109 166 61"/>
<path class="k2" d="M0 10 33 70 67 100 100 65 133 55 166 73M0 24 33 50 67 36 100 80 133 85 166 98M0 40 33 95 67 93 100 77 133 37 166 31"/>
<path class="k0" d="M0 66 33 10 67 84 100 69 133 51 166 94M0 78 33 54 67 18 100 52 133 65 166 107M0 71 33 69 67 43 100 55 133 24 166 111"/>
<path class="k5" d="M0 25 33 33 67 62 100 86 133 102 166 66M0 31 33 53 67 69 100 60 133 44 166 116M0 56 33 20 67 93 100 37 133 83 166 86"/>
<path class="k1" d="M0 92 33 100 67 71 100 40 133 43 166 28M0 106 33 54 67 39 100 23 133 77 166 74M0 40 33 87 67 31 100 40 133 103 166 73"/>
<path class="k4" d="M0 61 33 41 67 56 100 86 133 106 166 24M0 45 33 60 67 68 100 50 133 117 166 33M0 63 33 26 67 72 100 34 133 68 166 109M0 36 33 91 67 91 100 39 133 85 166 31"/>
<path class="k2" d="M0 31 33 61 67 107 100 85 133 32 166 57M0 68 33 16 67 60 100 46 133 100 166 84M0 102 33 18 67 79 100 46 133 53 166 75"/>
<path class="k5" d="M0 71 33 25 67 94 100 75 133 82 166 26M0 28 33 70 67 88 100 103 133 39 166 45M0 94 33 77 67 9 100 54 133 76 166 62"/>
<path class="k3" d="M0 103 33 85 67 57 100 19 133 43 166 66M0 100 33 81 67 40 100 19 133 55 166 77M0 14 33 44 67 62 100 72 133 87 166 94"/>
<path class="k6" d="M0 29 33 70 67 104 100 31 133 55 166 85M0 55 33 23 67 106 100 74 133 76 166 39M0 65 33 91 67 78 100 84 133 44 166 12"/>
<path class="k0" d="M0 117 33 38 67 63 100 48 133 38 166 70M0 79 33 103 67 62 100 55 133 13 166 61M0 17 33 72 67 43 100 86 133 98 166 59"/>
<path class="k1" d="M0 64 33 35 67 59 100 64 133 36 166 116M0 78 33 81 67 95 100 34 133 19 166 68M0 53 33 97 67 39 100 39 133 43 166 103"/>
<path class="k3" d="M0 34 33 77 67 49 100 91 133 27 166 96M0 98 33 78 67 54 100 79 133 13 166 51M0 49 33 14 67 70 100 93 133 91 166 57"/>
<path class="k1" d="M0 31 33 75 67 28 100 106 133 73 166 60M0 72 33 58 67 79 100 7 133 64 166 93M0 29 33 32 67 76 100 77 133 106 166 53"/>
<path class="k5" d="M0 90 33 85 67 26 100 91 133 38 166 43M0 31 33 71 67 28 100 97 133 92 166 54M0 48 33 89 67 67 100 75 133 10 166 84M0 69 33 34 67 70 100 25 133 108 166 66"/>
<path class="k2" d="M0 61 33 16 67 78 100 106 133 55 166 57M0 58 33 15 67 44 100 75 133 88 166 93M0 30 33 96 67 34 100 91 133 44 166 77"/>
<path class="k0" d="M0 71 33 84 67 58 100 43 133 100 166 17M0 40 33 81 67 17 100 57 133 86 166 92M0 79 33 55 67 48 100 50 133 113 166 28"/>
<path class="k6" d="M0 39 33 90 67 79 100 73 133 79 166 13M0 31 33 27 67 78 100 61 133 71 166 105M0 50 33 51 67 75 100 116 133 49 166 33"/>
<path class="k4" d="M0 87 33 16 67 93 100 62 133 40 166 75M0 78 33 70 67 41 100 102 133 65 166 17M0 81 33 28 67 52 100 30 133 83 166 98"/>
<path class="k6" d="M0 40 33 105 67 57 100 92 133 36 166 43M0 79 33 41 67 25 100 79 133 44 166 103M0 90 33 95 67 45 100 31 133 32 166 81M0 67 33 20 67 72 100 36 133 75 166 103"/>
<path class="k2" d="M0 35 33 48 67 103 100 32 133 92 166 62M0 52 33 65 67 76 100 11 133 71 166 99M0 57 33 96 67 8 100 65 133 72 166 76"/>
<path class="k4" d="M0 41 33 70 67 117 100 59 133 37 166 48M0 51 33 59 67 115 100 69 133 54 166 26M0 84 33 80 67 39 100 94 133 17 166 59"/>
<path class="k3" d="M0 36 33 67 67 51 100 40 133 61 166 118M0 60 33 115 67 47 100 71 133 27 166 54M0 57 33 95 67 27 100 72 133 30 166 92"/>
<path class="k1" d="M0 51 33 9 67 72 100 67 133 92 166 82M0 65 33 62 67 47 100 26 133 58 166 115M0 20 33 95 67 84 100 33 133 76 166 64"/>
<path class="k5" d="M0 95 33 25 67 84 100 58 133 82 166 29M0 50 33 35 67 35 100 107 133 58 166 89M0 32 33 73 67 35 100 94 133 97 166 42"/>
<path class="k0" d="M0 24 33 80 67 108 100 69 133 46 166 47M0 42 33 28 67 79 100 111 133 50 166 63M0 40 33 38 67 108 100 70 133 34 166 82"/>
<path class="k2" d="M0 106 33 39 67 40 100 53 133 93 166 42M0 21 33 96 67 95 100 63 133 56 166 43M0 78 33 21 67 48 100 101 133 82 166 43"/>
<path class="k6" d="M0 108 33 52 67 75 100 65 133 56 166 17M0 94 33 61 67 27 100 100 133 55 166 36M0 73 33 77 67 59 100 6 133 67 166 91"/>
<path class="k3" d="M0 72 33 4 67 74 100 71 133 63 166 90M0 39 33 78 67 42 100 115 133 41 166 57M0 37 33 78 67 48 100 47 133 48 166 116"/>
<path class="k4" d="M0 77 33 65 67 108 100 19 133 52 166 53M0 44 33 105 67 23 100 64 133 86 166 51M0 69 33 58 67 112 100 31 133 34 166 68"/>
<path class="k1" d="M0 47 33 39 67 24 100 76 133 97 166 90M0 79 33 98 67 24 100 57 133 33 166 82M0 34 33 101 67 65 100 94 133 38 166 42"/>
<path class="k5" d="M0 85 33 37 67 46 100 42 133 112 166 51M0 61 33 63 67 10 100 101 133 67 166 71M0 22 33 82 67 85 100 78 133 80 166 27"/>
<path class="k0" d="M0 28 33 73 67 41 100 62 133 113 166 56M0 31 33 60 67 88 100 24 133 96 166 75M0 43 33 111 67 54 100 74 133 25 166 66M0 71 33 29 67 91 100 23 133 69 166 90"/>
<path class="k5" d="M0 16 33 92 67 52 100 93 133 72 166 47M0 70 33 13 67 76 100 96 133 75 166 43M0 46 33 104 67 49 100 44 133 96 166 35"/>
<path class="k0" d="M0 106 33 24 67 60 100 35 133 78 166 70M0 19 33 62 67 58 100 112 133 63 166 59M0 97 33 58 67 26 100 55 133 98 166 39"/>
<path class="k3" d="M0 80 33 100 67 62 100 55 133 64 166 12M0 82 33 80 67 69 100 91 133 18 166 34M0 99 33 38 67 44 100 88 133 76 166 27"/>
<path class="k2" d="M0 73 33 36 67 46 100 58 133 44 166 117M0 60 33 98 67 13 100 84 133 70 166 49M0 75 33 9 67 48 100 78 133 70 166 93"/>
<path class="k6" d="M0 105 33 31 67 58 100 63 133 31 166 86M0 24 33 92 67 26 100 80 133 79 166 72M0 63 33 105 67 88 100 38 133 27 166 51"/>
<path class="k4" d="M0 104 33 83 67 49 100 25 133 74 166 39M0 78 33 69 67 99 100 46 133 69 166 13M0 104 33 39 67 19 100 68 133 67 166 77"/>
<path class="k1" d="M0 70 33 17 67 97 100 38 133 68 166 83M0 78 33 83 67 75 100 74 133 60 166 4M0 12 33 83 67 78 100 84 133 77 166 39M0 66 33 64 67 50 100 20 133 60 166 112"/>
<path class="k2" d="M0 60 33 51 67 15 100 99 133 61 166 87M0 86 33 86 67 92 100 22 133 46 166 41M0 46 33 61 67 80 100 91 133 12 166 84M0 62 33 26 67 31 100 101 133 87 166 67"/>
<path class="k6" d="M0 97 33 48 67 62 100 99 133 32 166 35M0 60 33 57 67 116 100 42 133 31 166 68M0 103 33 60 67 57 100 29 133 90 166 34"/>
<path class="k1" d="M0 83 33 35 67 47 100 104 133 74 166 30M0 108 33 54 67 29 100 82 133 36 166 64M0 27 33 60 67 53 100 74 133 46 166 113"/>
<path class="k3" d="M0 42 33 59 67 113 100 27 133 62 166 71M0 89 33 75 67 24 100 85 133 25 166 75M0 65 33 21 67 50 100 53 133 110 166 74"/>
<path class="k0" d="M0 88 33 105 67 67 100 43 133 32 166 38M0 91 33 50 67 34 100 105 133 58 166 35M0 82 33 48 67 73 100 65 133 11 166 95"/>
<path class="k4" d="M0 97 33 79 67 89 100 41 133 29 166 38M0 89 33 69 67 58 100 28 133 100 166 30M0 85 33 99 67 35 100 21 133 68 166 65"/>
<path class="k5" d="M0 53 33 116 67 40 100 77 133 48 166 39M0 69 33 71 67 101 100 34 133 20 166 78M0 61 33 45 67 114 100 34 133 43 166 76"/>
<path class="k6" d="M0 67 33 60 67 11 100 94 133 87 166 54M0 43 33 105 67 71 100 17 133 66 166 71M0 75 33 108 67 65 100 37 133 65 166 24"/>
<path class="k3" d="M0 7 33 78 67 65 100 73 133 56 166 93M0 61 33 27 67 72 100 28 133 93 166 93M0 28 33 95 67 43 100 97 133 40 166 71M0 8 33 84 67 73 100 60 133 90 166 57"/>
<path class="k4" d="M0 74 33 67 67 49 100 110 133 53 166 21M0 67 33 106 67 45 100 83 133 48 166 24M0 31 33 45 67 47 100 85 133 110 166 55"/>
<path class="k5" d="M0 58 33 60 67 120 100 48 133 37 166 50M0 63 33 51 67 94 100 75 133 10 166 81M0 30 33 85 67 103 100 74 133 48 166 33"/>
<path class="k2" d="M0 91 33 53 67 46 100 92 133 75 166 16M0 39 33 52 67 96 100 74 133 22 166 91M0 78 33 23 67 95 100 89 133 36 166 52"/>
<path class="k0" d="M0 46 33 115 67 47 100 43 133 80 166 42M0 30 33 84 67 30 100 56 133 69 166 104M0 80 33 42 67 21 100 93 133 90 166 48"/>
<path class="k1" d="M0 63 33 102 67 58 100 27 133 34 166 89M0 26 33 97 67 84 100 38 133 84 166 44M0 14 33 63 67 73 100 48 133 74 166 102"/>
<path class="k1" d="M0 44 33 40 67 85 100 28 133 72 166 104M0 24 33 71 67 63 100 113 133 51 166 51M0 59 33 94 67 26 100 76 133 29 166 89"/>
<path class="k0" d="M0 85 33 70 67 57 100 103 133 30 166 29M0 50 33 95 67 101 100 31 133 58 166 38M0 92 33 26 67 38 100 100 133 51 166 67"/>
<path class="k5" d="M0 19 33 47 67 72 100 75 133 106 166 55M0 50 33 85 67 11 100 94 133 63 166 70M0 55 33 76 67 45 100 78 133 18 166 103"/>
<path class="k4" d="M0 85 33 35 67 81 100 96 133 53 166 23M0 82 33 23 67 26 100 75 133 91 166 77M0 41 33 21 67 78 100 95 133 48 166 89M0 92 33 44 67 14 100 83 133 82 166 59"/>
<path class="k6" d="M0 71 33 31 67 65 100 53 133 39 166 114M0 51 33 21 67 69 100 46 133 78 166 107M0 9 33 47 67 81 100 89 133 70 166 77"/>
<path class="k2" d="M0 38 33 27 67 68 100 105 133 86 166 49M0 98 33 55 67 63 100 77 133 69 166 10M0 31 33 67 67 23 100 69 133 92 166 92"/>
<path class="k3" d="M0 117 33 41 67 42 100 67 133 40 166 66M0 72 33 61 67 45 100 55 133 114 166 26M0 106 33 59 67 68 100 78 133 42 166 20"/>
<path class="k5" d="M0 62 33 87 67 72 100 17 133 40 166 96M0 53 33 36 67 63 100 89 133 28 166 104M0 77 33 53 67 22 100 60 133 110 166 51M0 46 33 74 67 103 100 84 133 24 166 43"/>
<path class="k2" d="M0 22 33 104 67 84 100 53 133 68 166 42M0 58 33 52 67 104 100 57 133 18 166 84M0 31 33 49 67 63 100 38 133 108 166 85"/>
<path class="k4" d="M0 63 33 106 67 36 100 84 133 26 166 59M0 106 33 78 67 32 100 73 133 57 166 28M0 56 33 37 67 58 100 109 133 83 166 30"/>
<path class="k6" d="M0 100 33 79 67 36 100 69 133 71 166 18M0 17 33 97 67 94 100 57 133 56 166 53M0 12 33 90 67 64 100 65 133 50 166 93"/>
<path class="k3" d="M0 59 33 86 67 34 100 20 133 83 166 91M0 62 33 71 67 45 100 114 133 28 166 53M0 15 33 102 67 62 100 80 133 47 166 66"/>
<path class="k1" d="M0 63 33 32 67 92 100 89 133 76 166 21M0 96 33 36 67 29 100 68 133 97 166 47M0 22 33 96 67 56 100 35 133 88 166 76"/>
<path class="k0" d="M0 89 33 94 67 67 100 13 133 63 166 47M0 104 33 87 67 50 100 49 133 63 166 21M0 79 33 13 67 55 100 99 133 52 166 76"/>
<path class="k4" d="M0 97 33 43 67 94 100 56 133 63 166 20M0 48 33 29 67 37 100 91 133 102 166 67M0 82 33 44 67 86 100 47 133 95 166 20"/>
<path class="k6" d="M0 13 33 90 67 83 100 62 133 83 166 43M0 64 33 28 67 42 100 45 133 103 166 91M0 43 33 114 67 38 100 76 133 63 166 39M0 101 33 78 67 36 100 29 133 45 166 85"/>
<path class="k2" d="M0 56 33 13 67 50 100 87 133 73 166 94M0 64 33 60 67 41 100 118 133 56 166 34M0 86 33 28 67 105 100 35 133 62 166 57"/>
<path class="k3" d="M0 84 33 87 67 84 100 64 133 15 166 38M0 33 33 61 67 98 100 54 133 30 166 96M0 63 33 44 67 51 100 121 133 45 166 49"/>
<path class="k0" d="M0 107 33 40 67 70 100 84 133 32 166 41M0 51 33 92 67 16 100 86 133 46 166 82M0 50 33 98 67 94 100 61 133 51 166 19"/>
<path class="k1" d="M0 32 33 48 67 38 100 98 133 99 166 58M0 63 33 36 67 48 100 102 133 93 166 32M0 12 33 53 67 58 100 67 133 92 166 92"/>
<path class="k5" d="M0 74 33 74 67 86 100 9 133 46 166 85M0 90 33 67 67 87 100 72 133 46 166 11M0 46 33 111 67 84 100 33 133 44 166 54"/>
<path class="k4" d="M0 48 33 95 67 84 100 26 133 35 166 85M0 63 33 27 67 49 100 116 133 64 166 53M0 59 33 89 67 9 100 61 133 66 166 90"/>
<path class="k5" d="M0 99 33 88 67 58 100 38 133 21 166 69M0 16 33 43 67 90 100 93 133 75 166 56M0 64 33 24 67 67 100 109 133 72 166 38"/>
<path class="k0" d="M0 21 33 38 67 80 100 76 133 58 166 101M0 119 33 45 67 59 100 45 133 66 166 39M0 91 33 49 67 20 100 72 133 97 166 45M0 81 33 82 67 86 100 21 133 27 166 75"/>
<path class="k1" d="M0 49 33 37 67 32 100 99 133 98 166 58M0 77 33 80 67 42 100 42 133 105 166 27M0 77 33 78 67 23 100 43 133 47 166 105"/>
<path class="k2" d="M0 62 33 57 67 57 100 95 133 12 166 90M0 43 33 49 67 119 100 40 133 69 166 53M0 77 33 44 67 89 100 45 133 96 166 21"/>
<path class="k6" d="M0 38 33 63 67 37 100 117 133 68 166 50M0 68 33 43 67 82 100 45 133 27 166 108M0 24 33 74 67 49 100 102 133 40 166 85"/>
<path class="k3" d="M0 105 33 39 67 92 100 32 133 52 166 52M0 52 33 69 67 82 100 78 133 7 166 85M0 30 33 73 67 71 100 109 133 61 166 31"/>
<path class="k3" d="M0 38 33 101 67 69 100 37 133 36 166 92M0 20 33 55 67 76 100 72 133 45 166 106M0 65 33 41 67 44 100 83 133 109 166 32"/>
<path class="k1" d="M0 68 33 24 67 78 100 83 133 94 166 27M0 16 33 66 67 58 100 99 133 46 166 87M0 65 33 28 67 81 100 68 133 28 166 103M0 36 33 102 67 76 100 62 133 21 166 76"/>
<path class="k5" d="M0 99 33 36 67 75 100 71 133 74 166 18M0 79 33 49 67 112 100 63 133 41 166 30M0 89 33 106 67 40 100 54 133 29 166 55"/>
<path class="k2" d="M0 48 33 55 67 73 100 94 133 14 166 88M0 54 33 33 67 80 100 101 133 80 166 26M0 96 33 48 67 19 100 83 133 84 166 43"/>
<path class="k0" d="M0 53 33 25 67 91 100 90 133 83 166 31M0 79 33 40 67 73 100 95 133 14 166 72M0 45 33 38 67 45 100 119 133 62 166 64"/>
<path class="k4" d="M0 59 33 46 67 112 100 27 133 50 166 78M0 36 33 91 67 17 100 71 133 89 166 69M0 49 33 54 67 42 100 119 133 69 166 41"/>
<path class="k6" d="M0 102 33 67 67 23 100 39 133 88 166 53M0 66 33 15 67 108 100 61 133 69 166 54M0 24 33 46 67 64 100 90 133 46 166 102"/>
<path class="k5" d="M0 50 33 84 67 72 100 26 133 38 166 104M0 101 33 78 67 53 100 55 133 72 166 13M0 100 33 29 67 52 100 30 133 81 166 81"/>
<path class="k3" d="M0 57 33 23 67 43 100 76 133 110 166 65M0 77 33 55 67 35 100 24 133 103 166 79M0 47 33 19 67 60 100 98 133 56 166 94"/>
<path class="k6" d="M0 72 33 78 67 89 100 65 133 64 166 5M0 30 33 37 67 62 100 88 133 51 166 106M0 11 33 102 67 65 100 73 133 67 166 55"/>
<path class="k1" d="M0 40 33 51 67 80 100 59 133 112 166 31M0 77 33 79 67 75 100 53 133 84 166 6M0 25 33 65 67 75 100 59 133 39 166 110"/>
<path class="k0" d="M0 67 33 96 67 89 100 52 133 14 166 55M0 48 33 49 67 107 100 51 133 90 166 29M0 62 33 38 67 94 100 49 133 101 166 29"/>
<path class="k4" d="M0 58 33 26 67 35 100 85 133 105 166 64M0 96 33 35 67 90 100 32 133 81 166 40M0 110 33 35 67 85 100 56 133 37 166 49"/>
<path class="k2" d="M0 46 33 64 67 20 100 60 133 108 166 75M0 29 33 45 67 104 100 70 133 87 166 38M0 70 33 3 67 68 100 69 133 81 166 83M0 70 33 17 67 49 100 78 133 104 166 55"/>
<path class="k3" d="M0 100 33 57 67 62 100 18 133 89 166 46"/>
<path class="k4" d="M0 87 33 83 67 61 100 78 133 7 166 57"/>
<path class="k6" d="M0 36 33 19 67 91 100 68 133 65 166 94"/>
<path class="k1" d="M0 45 33 105 67 89 100 40 133 31 166 64"/>
<path class="k0" d="M0 103 33 68 67 88 100 43 133 24 166 48"/>
<path class="k5" d="M0 78 33 3 67 79 100 69 133 65 166 79"/>
</g>
<rect class="bx" x="664.2" y="126.7" width="83.2" height="62.2"/>
<g style="stroke-width:3" transform="translate(664.2,213.8) scale(.5)">
<path class="k3" d="M0 50 33 68 67 8 100 79 133 83 166 87M0 69 33 105 67 41 100 33 133 89 166 39M0 110 33 47 67 25 100 74 133 45 166 73"/>
<path class="k1" d="M0 59 33 24 67 61 100 104 133 88 166 38M0 96 33 58 67 41 100 35 133 102 166 42M0 51 33 62 67 32 100 112 133 79 166 39"/>
<path class="k2" d="M0 10 33 93 67 75 100 85 133 54 166 58M0 88 33 76 67 93 100 53 133 14 166 49M0 78 33 49 67 23 100 45 133 107 166 73"/>
<path class="k5" d="M0 85 33 95 67 78 100 63 133 22 166 32M0 102 33 82 67 29 100 81 133 43 166 37M0 66 33 61 67 32 100 26 133 88 166 101"/>
<path class="k0" d="M0 55 33 50 67 51 100 64 133 120 166 35M0 57 33 97 67 73 100 68 133 72 166 8M0 54 33 103 67 79 100 76 133 19 166 43M0 50 33 83 67 80 100 13 133 55 166 95"/>
<path class="k4" d="M0 55 33 32 67 64 100 85 133 107 166 31M0 95 33 83 67 51 100 86 133 37 166 22M0 10 33 91 67 87 100 72 133 49 166 66"/>
<path class="k6" d="M0 59 33 47 67 86 100 87 133 84 166 12M0 108 33 19 67 47 100 75 133 56 166 70M0 55 33 14 67 68 100 106 133 61 166 71"/>
<path class="k3" d="M0 106 33 46 67 58 100 34 133 91 166 39M0 104 33 76 67 12 100 63 133 63 166 56M0 58 33 103 67 63 100 89 133 31 166 30"/>
<path class="k2" d="M0 49 33 41 67 94 100 93 133 76 166 22M0 52 33 104 67 34 100 94 133 36 166 54M0 74 33 100 67 40 100 91 133 29 166 41"/>
<path class="k6" d="M0 17 33 61 67 59 100 74 133 109 166 55M0 43 33 61 67 38 100 84 133 38 166 111M0 76 33 55 67 103 100 52 133 75 166 15"/>
<path class="k4" d="M0 72 33 40 67 59 100 117 133 50 166 37M0 65 33 48 67 79 100 10 133 88 166 85M0 25 33 110 67 82 100 60 133 52 166 46"/>
<path class="k5" d="M0 37 33 85 67 103 100 42 133 76 166 31M0 82 33 73 67 38 100 14 133 86 166 82M0 76 33 40 67 115 100 61 133 39 166 42"/>
<path class="k0" d="M0 55 33 44 67 81 100 17 133 98 166 81M0 67 33 63 67 13 100 106 133 62 166 63M0 98 33 56 67 78 100 85 133 20 166 38"/>
<path class="k1" d="M0 21 33 70 67 84 100 38 133 102 166 60M0 80 33 71 67 56 100 92 133 69 166 7M0 72 33 17 67 67 100 82 133 98 166 39M0 94 33 35 67 49 100 36 133 55 166 104"/>
<path class="k1" d="M0 42 33 120 67 63 100 58 133 37 166 55M0 75 33 26 67 70 100 111 133 51 166 42M0 21 33 57 67 78 100 99 133 83 166 36"/>
<path class="k6" d="M0 62 33 85 67 40 100 15 133 87 166 85M0 63 33 49 67 103 100 28 133 92 166 38M0 36 33 20 67 60 100 86 133 77 166 96"/>
<path class="k2" d="M0 57 33 106 67 81 100 65 133 18 166 47M0 96 33 43 67 36 100 37 133 101 166 62M0 90 33 28 67 105 100 46 133 61 166 43M0 28 33 28 67 105 100 74 133 72 166 67"/>
<path class="k5" d="M0 49 33 17 67 49 100 86 133 99 166 75M0 100 33 79 67 24 100 67 133 74 166 29M0 33 33 70 67 48 100 92 133 31 166 100"/>
<path class="k3" d="M0 57 33 39 67 97 100 26 133 57 166 99M0 87 33 73 67 55 100 97 133 16 166 46M0 57 33 98 67 42 100 91 133 68 166 19"/>
<path class="k0" d="M0 71 33 94 67 31 100 99 133 36 166 44M0 53 33 21 67 43 100 73 133 104 166 81M0 24 33 103 67 90 100 55 133 61 166 40"/>
<path class="k4" d="M0 89 33 76 67 43 100 11 133 79 166 76M0 81 33 68 67 36 100 40 133 110 166 39M0 91 33 64 67 21 100 31 133 85 166 83"/>
<path class="k1" d="M0 104 33 47 67 64 100 42 133 90 166 27M0 73 33 83 67 17 100 84 133 34 166 85M0 59 33 65 67 73 100 108 133 55 166 16"/>
<path class="k3" d="M0 101 33 52 67 42 100 21 133 86 166 74M0 22 33 86 67 41 100 47 133 86 166 93M0 106 33 79 67 31 100 61 133 70 166 28M0 32 33 75 67 50 100 110 133 33 166 73"/>
<path class="k6" d="M0 57 33 74 67 13 100 96 133 85 166 49M0 14 33 68 67 97 100 48 133 87 166 60M0 36 33 105 67 91 100 38 133 65 166 39"/>
<path class="k2" d="M0 81 33 29 67 37 100 92 133 41 166 95M0 44 33 115 67 63 100 76 133 38 166 39M0 87 33 26 67 33 100 87 133 50 166 92"/>
<path class="k5" d="M0 97 33 17 67 81 100 73 133 37 166 70M0 13 33 58 67 67 100 52 133 94 166 90M0 20 33 72 67 107 100 41 133 63 166 72"/>
<path class="k4" d="M0 47 33 50 67 76 100 25 133 112 166 65M0 67 33 92 67 52 100 81 133 8 166 75M0 78 33 22 67 44 100 108 133 70 166 54"/>
<path class="k0" d="M0 81 33 64 67 102 100 38 133 69 166 19M0 61 33 50 67 16 100 58 133 91 166 98M0 66 33 15 67 93 100 92 133 44 166 65"/>
<path class="k5" d="M0 79 33 31 67 59 100 110 133 61 166 34M0 24 33 95 67 87 100 48 133 38 166 84M0 50 33 17 67 108 100 59 133 71 166 68"/>
<path class="k2" d="M0 57 33 122 67 50 100 44 133 46 166 55M0 52 33 37 67 27 100 103 133 65 166 90M0 12 33 63 67 86 100 98 133 60 166 54"/>
<path class="k0" d="M0 104 33 73 67 68 100 49 133 66 166 14M0 68 33 86 67 59 100 7 133 64 166 90M0 64 33 60 67 55 100 44 133 118 166 33"/>
<path class="k1" d="M0 64 33 19 67 92 100 96 133 63 166 40M0 38 33 101 67 77 100 72 133 18 166 68M0 54 33 36 67 95 100 88 133 22 166 80"/>
<path class="k3" d="M0 79 33 53 67 25 100 112 133 49 166 55M0 27 33 40 67 49 100 67 133 83 166 108M0 101 33 33 67 69 100 92 133 31 166 48"/>
<path class="k4" d="M0 78 33 103 67 56 100 12 133 65 166 60M0 63 33 6 67 80 100 88 133 60 166 78M0 49 33 95 67 86 100 75 133 56 166 13M0 77 33 85 67 61 100 34 133 96 166 21"/>
<path class="k6" d="M0 64 33 92 67 65 100 21 133 37 166 96M0 39 33 104 67 44 100 83 133 75 166 29M0 4 33 65 67 68 100 67 133 85 166 85"/>
<path class="k3" d="M0 58 33 19 67 112 100 67 133 59 166 58M0 110 33 21 67 78 100 53 133 59 166 54M0 74 33 102 67 16 100 44 133 61 166 77"/>
<path class="k6" d="M0 86 33 16 67 101 100 58 133 48 166 66M0 78 33 22 67 67 100 80 133 30 166 96M0 54 33 56 67 105 100 91 133 39 166 29"/>
<path class="k4" d="M0 113 33 83 67 43 100 36 133 52 166 47M0 96 33 46 67 28 100 95 133 72 166 37M0 93 33 100 67 47 100 23 133 67 166 45"/>
<path class="k2" d="M0 52 33 101 67 71 100 43 133 86 166 20M0 95 33 55 67 95 100 69 133 30 166 30M0 50 33 65 67 84 100 43 133 108 166 26"/>
<path class="k0" d="M0 33 33 104 67 60 100 30 133 58 166 90M0 61 33 26 67 67 100 77 133 35 166 108M0 33 33 60 67 91 100 24 133 98 166 68"/>
<path class="k1" d="M0 52 33 51 67 90 100 14 133 75 166 92M0 73 33 40 67 103 100 17 133 73 166 68M0 10 33 81 67 61 100 53 133 94 166 76"/>
<path class="k5" d="M0 102 33 44 67 91 100 61 133 53 166 22M0 34 33 85 67 98 100 25 133 54 166 79M0 15 33 64 67 68 100 54 133 108 166 64M0 99 33 98 67 62 100 43 133 42 166 31"/>
<path class="k0" d="M0 60 33 38 67 49 100 71 133 118 166 40M0 86 33 15 67 100 100 65 133 47 166 61M0 100 33 52 67 72 100 79 133 12 166 61"/>
<path class="k1" d="M0 38 33 62 67 70 100 65 133 27 166 113M0 96 33 83 67 45 100 87 133 37 166 26M0 87 33 53 67 69 100 40 133 103 166 23"/>
<path class="k6" d="M0 88 33 58 67 14 100 98 133 65 166 51M0 91 33 59 67 41 100 50 133 105 166 29M0 42 33 93 67 46 100 39 133 108 166 47M0 33 33 80 67 101 100 31 133 45 166 84"/>
<path class="k3" d="M0 59 33 38 67 116 100 33 133 58 166 71M0 48 33 55 67 36 100 115 133 42 166 79M0 108 33 68 67 50 100 19 133 75 166 53"/>
<path class="k5" d="M0 66 33 62 67 92 100 60 133 87 166 8M0 25 33 58 67 57 100 108 133 43 166 84M0 20 33 39 67 51 100 91 133 86 166 87"/>
<path class="k4" d="M0 63 33 91 67 83 100 7 133 70 166 60M0 110 33 23 67 70 100 40 133 70 166 61M0 9 33 73 67 68 100 95 133 50 166 80"/>
<path class="k2" d="M0 30 33 70 67 36 100 63 133 63 166 113M0 50 33 78 67 85 100 95 133 14 166 53M0 79 33 75 67 86 100 73 133 5 166 58"/>
<path class="k6" d="M0 23 33 31 67 71 100 66 133 88 166 95M0 93 33 62 67 95 100 15 133 61 166 49M0 35 33 31 67 76 100 78 133 107 166 47"/>
<path class="k4" d="M0 47 33 40 67 48 100 58 133 59 166 121M0 86 33 68 67 76 100 89 133 44 166 11M0 29 33 73 67 88 100 49 133 33 166 102"/>
<path class="k1" d="M0 30 33 117 67 66 100 55 133 48 166 58M0 24 33 36 67 100 100 63 133 61 166 91M0 41 33 98 67 97 100 27 133 48 166 64"/>
<path class="k0" d="M0 61 33 56 67 109 100 20 133 78 166 50M0 27 33 44 67 37 100 84 133 95 166 88M0 22 33 114 67 52 100 56 133 69 166 61M0 21 33 65 67 84 100 46 133 106 166 52"/>
<path class="k2" d="M0 23 33 86 67 72 100 33 133 99 166 62M0 114 33 35 67 47 100 38 133 66 166 76M0 14 33 60 67 85 100 75 133 45 166 95"/>
<path class="k5" d="M0 77 33 56 67 105 100 65 133 58 166 15M0 47 33 61 67 83 100 111 133 35 166 37M0 95 33 13 67 82 100 49 133 80 166 55"/>
<path class="k3" d="M0 67 33 44 67 22 100 49 133 93 166 99M0 60 33 89 67 8 100 72 133 59 166 86M0 118 33 65 67 48 100 63 133 33 166 47"/>
<path class="k4" d="M0 86 33 92 67 8 100 66 133 60 166 62M0 46 33 70 67 76 100 10 133 90 166 81M0 45 33 30 67 115 100 75 133 51 166 59"/>
<path class="k0" d="M0 79 33 26 67 106 100 48 133 41 166 75M0 85 33 33 67 65 100 51 133 33 166 107M0 91 33 82 67 66 100 68 133 61 166 6"/>
<path class="k3" d="M0 44 33 45 67 46 100 56 133 121 166 62M0 60 33 91 67 96 100 26 133 72 166 29M0 60 33 121 67 50 100 35 133 54 166 55"/>
<path class="k2" d="M0 17 33 36 67 78 100 78 133 68 166 97M0 81 33 81 67 20 100 69 133 93 166 31M0 55 33 115 67 49 100 62 133 26 166 68"/>
<path class="k5" d="M0 82 33 27 67 104 100 52 133 76 166 35M0 80 33 51 67 85 100 39 133 98 166 22M0 85 33 108 67 56 100 47 133 25 166 54"/>
<path class="k1" d="M0 29 33 32 67 49 100 86 133 80 166 98M0 84 33 56 67 80 100 91 133 10 166 54M0 37 33 86 67 92 100 68 133 16 166 75M0 52 33 12 67 73 100 71 133 65 166 102"/>
<path class="k6" d="M0 45 33 70 67 120 100 47 133 41 166 51M0 68 33 72 67 97 100 39 133 16 166 83M0 67 33 20 67 40 100 60 133 87 166 101"/>
<path class="k6" d="M0 81 33 84 67 36 100 81 133 78 166 14M0 85 33 57 67 18 100 38 133 88 166 88M0 65 33 16 67 62 100 68 133 109 166 54"/>
<path class="k1" d="M0 113 33 73 67 58 100 58 133 24 166 47M0 70 33 74 67 32 100 111 133 55 166 32M0 80 33 4 67 65 100 83 133 63 166 80"/>
<path class="k4" d="M0 69 33 89 67 28 100 100 133 56 166 31M0 63 33 87 67 86 100 16 133 84 166 39M0 51 33 86 67 30 100 78 133 99 166 29"/>
<path class="k0" d="M0 74 33 93 67 80 100 10 133 71 166 47M0 44 33 30 67 110 100 42 133 68 166 80M0 114 33 47 67 41 100 60 133 79 166 34"/>
<path class="k5" d="M0 17 33 93 67 72 100 92 133 41 166 60M0 66 33 76 67 28 100 94 133 24 166 87M0 104 33 45 67 41 100 29 133 90 166 65"/>
<path class="k2" d="M0 37 33 99 67 78 100 33 133 90 166 38M0 110 33 81 67 64 100 50 133 42 166 28M0 100 33 28 67 27 100 87 133 66 166 66M0 75 33 23 67 83 100 98 133 64 166 31"/>
<path class="k3" d="M0 115 33 33 67 55 100 74 133 37 166 61M0 74 33 88 67 10 100 56 133 91 166 55M0 90 33 88 67 53 100 9 133 67 166 66"/>
<path class="k2" d="M0 98 33 74 67 60 100 25 133 87 166 30M0 2 33 75 67 68 100 73 133 77 166 79M0 50 33 40 67 24 100 105 133 74 166 81"/>
<path class="k5" d="M0 56 33 48 67 58 100 20 133 90 166 102M0 15 33 39 67 76 100 66 133 87 166 91M0 83 33 65 67 17 100 98 133 39 166 72"/>
<path class="k3" d="M0 97 33 44 67 41 100 69 133 27 166 96M0 113 33 40 67 30 100 78 133 61 166 52M0 61 33 74 67 24 100 41 133 111 166 64M0 30 33 68 67 81 100 54 133 108 166 34"/>
<path class="k1" d="M0 62 33 25 67 116 100 57 133 62 166 52M0 79 33 73 67 105 100 59 133 33 166 26M0 38 33 28 67 76 100 46 133 106 166 81"/>
<path class="k4" d="M0 28 33 51 67 38 100 70 133 109 166 78M0 60 33 8 67 66 100 90 133 88 166 61M0 43 33 93 67 89 100 78 133 17 166 54"/>
<path class="k0" d="M0 84 33 53 67 96 100 75 133 13 166 53M0 44 33 63 67 27 100 54 133 114 166 73M0 8 33 57 67 77 100 68 133 67 166 97"/>
<path class="k6" d="M0 71 33 81 67 66 100 53 133 9 166 95M0 65 33 68 67 15 100 92 133 43 166 92M0 7 33 58 67 68 100 70 133 94 166 77"/>
<path class="k6" d="M0 56 33 110 67 67 100 77 133 27 166 37M0 79 33 32 67 85 100 29 133 50 166 100M0 108 33 44 67 22 100 77 133 70 166 52"/>
<path class="k5" d="M0 84 33 39 67 97 100 19 133 57 166 79M0 44 33 74 67 76 100 50 133 23 166 107M0 64 33 105 67 16 100 80 133 53 166 58"/>
<path class="k0" d="M0 36 33 101 67 22 100 83 133 74 166 59M0 83 33 40 67 105 100 29 133 43 166 75M0 29 33 32 67 70 100 71 133 63 166 110"/>
<path class="k1" d="M0 46 33 96 67 34 100 103 133 40 166 56M0 51 33 78 67 57 100 101 133 14 166 74M0 100 33 58 67 76 100 82 133 19 166 39"/>
<path class="k3" d="M0 76 33 47 67 12 100 99 133 71 166 69M0 52 33 82 67 108 100 52 133 59 166 21M0 93 33 41 67 32 100 64 133 103 166 42"/>
<path class="k4" d="M0 65 33 21 67 49 100 48 133 90 166 102M0 90 33 99 67 27 100 44 133 76 166 38M0 25 33 102 67 91 100 50 133 40 166 66M0 83 33 68 67 88 100 21 133 29 166 85"/>
<path class="k2" d="M0 59 33 101 67 27 100 67 133 32 166 88M0 52 33 20 67 38 100 89 133 84 166 90M0 24 33 56 67 64 100 79 133 43 166 109"/>
<path class="k3" d="M0 55 33 12 67 75 100 66 133 63 166 103M0 90 33 23 67 42 100 44 133 94 166 82M0 86 33 52 67 92 100 43 133 17 166 83"/>
<path class="k5" d="M0 95 33 61 67 40 100 21 133 61 166 97M0 27 33 80 67 108 100 36 133 66 166 57M0 24 33 86 67 97 100 35 133 80 166 52M0 85 33 67 67 86 100 86 133 30 166 21"/>
<path class="k1" d="M0 61 33 61 67 11 100 104 133 67 166 70M0 73 33 47 67 58 100 87 133 14 166 96M0 51 33 26 67 48 100 90 133 106 166 54"/>
<path class="k6" d="M0 33 33 34 67 109 100 56 133 57 166 85M0 93 33 87 67 77 100 53 133 53 166 12M0 69 33 57 67 61 100 116 133 30 166 41"/>
<path class="k0" d="M0 63 33 34 67 35 100 103 133 92 166 47M0 35 33 84 67 92 100 22 133 87 166 53M0 113 33 44 67 77 100 67 133 33 166 41"/>
<path class="k2" d="M0 71 33 3 67 75 100 80 133 63 166 81M0 70 33 58 67 19 100 111 133 65 166 52M0 105 33 66 67 66 100 76 133 16 166 46"/>
<path class="k4" d="M0 29 33 51 67 113 100 58 133 44 166 78M0 37 33 75 67 16 100 79 133 72 166 95M0 46 33 11 67 92 100 74 133 68 166 83"/>
<path class="k3" d="M0 44 33 24 67 110 100 54 133 78 166 65M0 19 33 44 67 56 100 64 133 97 166 94M0 68 33 29 67 58 100 73 133 35 166 111"/>
<path class="k6" d="M0 41 33 98 67 92 100 31 133 75 166 37M0 99 33 34 67 24 100 74 133 87 166 56M0 42 33 40 67 54 100 97 133 38 166 103M0 44 33 109 67 62 100 48 133 27 166 85"/>
<path class="k1" d="M0 17 33 95 67 42 100 86 133 55 166 79M0 97 33 74 67 83 100 59 133 50 166 12M0 78 33 19 67 104 100 53 133 45 166 76"/>
<path class="k5" d="M0 64 33 32 67 96 100 90 133 23 166 69M0 72 33 77 67 43 100 18 133 61 166 104M0 64 33 62 67 51 100 89 133 12 166 95"/>
<path class="k2" d="M0 36 33 36 67 82 100 105 133 78 166 38M0 47 33 33 67 96 100 74 133 30 166 94M0 47 33 86 67 72 100 10 133 87 166 72"/>
<path class="k4" d="M0 75 33 50 67 70 100 93 133 9 166 77M0 63 33 60 67 9 100 78 133 66 166 99M0 99 33 51 67 17 100 68 133 50 166 88"/>
<path class="k0" d="M0 83 33 51 67 96 100 49 133 15 166 81M0 41 33 73 67 84 100 35 133 35 166 106M0 62 33 66 67 111 100 49 133 19 166 68"/>
<path class="k0" d="M0 97 33 8 67 63 100 76 133 59 166 71M0 29 33 37 67 67 100 113 133 72 166 57M0 77 33 46 67 14 100 93 133 56 166 87M0 106 33 25 67 76 100 64 133 33 166 70"/>
<path class="k2" d="M0 36 33 18 67 65 100 78 133 96 166 81M0 42 33 20 67 88 100 49 133 78 166 97M0 60 33 9 67 69 100 63 133 75 166 99"/>
<path class="k1" d="M0 44 33 80 67 49 100 38 133 115 166 48M0 36 33 88 67 98 100 35 133 36 166 81M0 48 33 26 67 44 100 63 133 87 166 106"/>
<path class="k4" d="M0 77 33 36 67 92 100 31 133 97 166 42M0 100 33 80 67 56 100 79 133 21 166 37M0 36 33 88 67 17 100 75 133 66 166 92"/>
<path class="k6" d="M0 99 33 67 67 30 100 41 133 42 166 96M0 91 33 82 67 41 100 13 133 78 166 71M0 59 33 69 67 27 100 101 133 87 166 30"/>
<path class="k3" d="M0 42 33 29 67 114 100 64 133 53 166 74M0 78 33 52 67 19 100 66 133 51 166 107M0 35 33 44 67 95 100 90 133 29 166 81"/>
<path class="k5" d="M0 89 33 34 67 44 100 30 133 83 166 95M0 96 33 27 67 66 100 30 133 95 166 61M0 36 33 16 67 85 100 72 133 75 166 91"/>
<path class="k6" d="M0 84 33 39 67 13 100 87 133 69 166 82M0 64 33 67 67 76 100 43 133 106 166 19M0 99 33 73 67 44 100 32 133 34 166 93"/>
<path class="k3" d="M0 110 33 82 67 65 100 33 133 36 166 48M0 57 33 56 67 42 100 29 133 114 166 75M0 63 33 98 67 87 100 26 133 72 166 29"/>
<path class="k0" d="M0 29 33 33 67 82 100 68 133 55 166 107M0 85 33 38 67 90 100 63 133 82 166 16M0 39 33 72 67 99 100 44 133 92 166 27"/>
<path class="k5" d="M0 97 33 38 67 17 100 63 133 81 166 77M0 43 33 53 67 97 100 70 133 20 166 92M0 46 33 113 67 61 100 31 133 78 166 45"/>
<path class="k1" d="M0 60 33 92 67 44 100 36 133 105 166 37M0 72 33 39 67 113 100 35 133 43 166 72M0 97 33 84 67 17 100 38 133 65 166 72M0 8 33 54 67 72 100 89 133 87 166 63"/>
<path class="k4" d="M0 72 33 33 67 55 100 83 133 104 166 27M0 108 33 46 67 34 100 84 133 68 166 35M0 99 33 49 67 63 100 14 133 62 166 87"/>
<path class="k2" d="M0 43 33 61 67 103 100 44 133 29 166 94M0 31 33 97 67 51 100 74 133 29 166 92M0 111 33 82 67 64 100 39 133 47 166 32"/>
<path class="k2" d="M0 18 33 58 67 67 100 49 133 75 166 108M0 35 33 78 67 72 100 110 133 35 166 45M0 71 33 19 67 76 100 99 133 34 166 74M0 41 33 80 67 52 100 107 133 70 166 24"/>
<path class="k1" d="M0 19 33 50 67 109 100 76 133 55 166 64M0 28 33 37 67 65 100 56 133 78 166 110M0 53 33 35 67 98 100 79 133 86 166 24"/>
<path class="k3" d="M0 109 33 43 67 82 100 39 133 32 166 69M0 46 33 85 67 10 100 74 133 70 166 89M0 30 33 71 67 108 100 47 133 37 166 81"/>
<path class="k4" d="M0 43 33 91 67 81 100 72 133 76 166 11M0 96 33 82 67 86 100 24 133 35 166 53M0 62 33 53 67 114 100 23 133 52 166 70"/>
<path class="k5" d="M0 73 33 47 67 67 100 54 133 22 166 111M0 66 33 40 67 102 100 19 133 84 166 63M0 83 33 89 67 8 100 69 133 52 166 74"/>
<path class="k0" d="M0 103 33 24 67 45 100 63 133 90 166 48M0 71 33 62 67 51 100 112 133 58 166 20M0 37 33 78 67 16 100 90 133 86 166 68"/>
<path class="k6" d="M0 13 33 76 67 47 100 66 133 71 166 101M0 35 33 68 67 83 100 17 133 92 166 80M0 76 33 25 67 107 100 63 133 69 166 34"/>
<path class="k6" d="M0 73 33 83 67 89 100 78 133 17 166 34"/>
<path class="k4" d="M0 73 33 44 67 12 100 84 133 66 166 94"/>
<path class="k3" d="M0 62 33 14 67 99 100 46 133 80 166 73"/>
<path class="k1" d="M0 92 33 60 67 91 100 10 133 60 166 61"/>
<path class="k0" d="M0 104 33 94 67 47 100 41 133 57 166 31"/>
<path class="k5" d="M0 61 33 113 67 27 100 41 133 59 166 75"/>
</g>
<rect class="bx" x="664.2" y="213.8" width="83.2" height="62.4"/>
<g style="stroke-width:3" transform="translate(664.2,301.1) scale(.5)">
<path class="k1" d="M0 55 33 89 67 95 100 25 133 78 166 32M0 80 33 65 67 102 100 46 133 15 166 65M0 39 33 34 67 82 100 60 133 46 166 111"/>
<path class="k0" d="M0 100 33 28 67 45 100 98 133 47 166 55M0 111 33 70 67 68 100 36 133 27 166 62M0 55 33 73 67 43 100 24 133 66 166 111M0 77 33 77 67 12 100 40 133 87 166 79"/>
<path class="k4" d="M0 78 33 40 67 112 100 66 133 38 166 39M0 66 33 87 67 17 100 100 133 46 166 58M0 62 33 69 67 112 100 66 133 34 166 30"/>
<path class="k6" d="M0 49 33 122 67 47 100 43 133 57 166 56M0 65 33 95 67 48 100 33 133 100 166 33M0 25 33 43 67 43 100 103 133 82 166 78"/>
<path class="k2" d="M0 77 33 51 67 55 100 81 133 13 166 96M0 82 33 61 67 33 100 30 133 108 166 58M0 57 33 59 67 56 100 32 133 119 166 51"/>
<path class="k5" d="M0 38 33 48 67 31 100 91 133 61 166 104M0 24 33 113 67 66 100 54 133 70 166 46M0 29 33 77 67 50 100 108 133 72 166 36"/>
<path class="k3" d="M0 64 33 114 67 55 100 68 133 45 166 27M0 88 33 73 67 34 100 20 133 64 166 95M0 15 33 96 67 62 100 43 133 68 166 88"/>
<path class="k6" d="M0 46 33 25 67 102 100 76 133 84 166 40M0 42 33 48 67 112 100 72 133 29 166 70M0 89 33 36 67 48 100 85 133 91 166 25"/>
<path class="k4" d="M0 71 33 29 67 86 100 40 133 104 166 43M0 14 33 84 67 83 100 88 133 63 166 41M0 104 33 69 67 21 100 59 133 81 166 39"/>
<path class="k1" d="M0 68 33 69 67 68 100 108 133 23 166 36M0 81 33 112 67 56 100 43 133 30 166 51M0 67 33 59 67 112 100 61 133 20 166 53M0 90 33 35 67 95 100 69 133 65 166 20"/>
<path class="k5" d="M0 57 33 107 67 41 100 45 133 89 166 33M0 86 33 61 67 73 100 78 133 71 166 4M0 74 33 49 67 61 100 114 133 47 166 28"/>
<path class="k0" d="M0 84 33 98 67 28 100 84 133 36 166 44M0 102 33 28 67 76 100 84 133 47 166 35M0 90 33 87 67 44 100 42 133 22 166 88"/>
<path class="k2" d="M0 37 33 54 67 43 100 68 133 119 166 53M0 61 33 80 67 81 100 11 133 48 166 92M0 61 33 98 67 22 100 90 133 36 166 66"/>
<path class="k3" d="M0 46 33 80 67 103 100 18 133 73 166 52M0 58 33 54 67 113 100 74 133 51 166 23M0 33 33 29 67 54 100 104 133 86 166 66"/>
<path class="k6" d="M0 81 33 24 67 94 100 52 133 88 166 35M0 30 33 40 67 70 100 42 133 106 166 84M0 27 33 62 67 61 100 61 133 46 166 116"/>
<path class="k4" d="M0 92 33 22 67 61 100 33 133 73 166 92M0 28 33 47 67 48 100 72 133 114 166 62M0 29 33 72 67 61 100 76 133 29 166 106"/>
<path class="k0" d="M0 116 33 67 67 32 100 46 133 67 166 45M0 58 33 35 67 66 100 107 133 81 166 27M0 61 33 87 67 49 100 54 133 103 166 19"/>
<path class="k5" d="M0 31 33 108 67 28 100 70 133 69 166 67M0 89 33 57 67 14 100 56 133 59 166 98M0 81 33 64 67 33 100 72 133 101 166 22"/>
<path class="k3" d="M0 17 33 51 67 92 100 63 133 53 166 97M0 77 33 50 67 8 100 75 133 72 166 91M0 40 33 90 67 90 100 35 133 30 166 87"/>
<path class="k1" d="M0 9 33 74 67 60 100 56 133 94 166 80M0 70 33 39 67 33 100 69 133 48 166 114M0 38 33 88 67 93 100 82 133 50 166 22"/>
<path class="k2" d="M0 49 33 80 67 50 100 15 133 96 166 83M0 36 33 106 67 27 100 83 133 54 166 69M0 96 33 70 67 46 100 18 133 92 166 52M0 100 33 93 67 20 100 52 133 52 166 56"/>
<path class="k1" d="M0 77 33 106 67 67 100 39 133 21 166 63M0 15 33 63 67 102 100 50 133 81 166 63M0 47 33 46 67 118 100 39 133 72 166 51"/>
<path class="k6" d="M0 78 33 88 67 49 100 18 133 95 166 46M0 73 33 62 67 107 100 72 133 32 166 27M0 54 33 81 67 88 100 92 133 39 166 19"/>
<path class="k3" d="M0 98 33 36 67 59 100 98 133 51 166 32M0 81 33 79 67 44 100 98 133 52 166 18M0 78 33 43 67 62 100 91 133 13 166 85M0 19 33 58 67 99 100 84 133 74 166 39"/>
<path class="k2" d="M0 55 33 118 67 59 100 34 133 64 166 43M0 59 33 52 67 55 100 46 133 121 166 40M0 51 33 56 67 43 100 27 133 105 166 90"/>
<path class="k5" d="M0 66 33 89 67 52 100 23 133 102 166 42M0 70 33 82 67 103 100 61 133 25 166 33M0 25 33 61 67 82 100 28 133 92 166 85"/>
<path class="k0" d="M0 81 33 38 67 72 100 106 133 26 166 50M0 43 33 113 67 37 100 67 133 38 166 76M0 24 33 83 67 79 100 95 133 63 166 29"/>
<path class="k4" d="M0 55 33 63 67 104 100 72 133 67 166 12M0 40 33 34 67 61 100 99 133 41 166 98M0 65 33 24 67 100 100 88 133 34 166 62"/>
<path class="k4" d="M0 71 33 61 67 103 100 15 133 47 166 76M0 64 33 66 67 25 100 50 133 53 166 114M0 13 33 95 67 83 100 77 133 57 166 47M0 71 33 100 67 90 100 27 133 37 166 47"/>
<path class="k0" d="M0 43 33 90 67 18 100 64 133 98 166 59M0 31 33 65 67 92 100 76 133 88 166 22M0 96 33 34 67 58 100 38 133 102 166 45"/>
<path class="k5" d="M0 102 33 75 67 55 100 25 133 34 166 82M0 48 33 67 67 15 100 75 133 104 166 64M0 52 33 47 67 37 100 86 133 111 166 41"/>
<path class="k3" d="M0 42 33 40 67 67 100 66 133 117 166 41M0 102 33 72 67 39 100 62 133 80 166 19M0 29 33 99 67 28 100 77 133 84 166 56"/>
<path class="k1" d="M0 81 33 85 67 56 100 48 133 13 166 90M0 40 33 111 67 33 100 42 133 78 166 68M0 24 33 76 67 80 100 30 133 63 166 100"/>
<path class="k6" d="M0 75 33 100 67 36 100 90 133 31 166 42M0 26 33 83 67 38 100 68 133 106 166 52M0 20 33 55 67 76 100 43 133 73 166 106"/>
<path class="k2" d="M0 45 33 114 67 32 100 67 133 43 166 71M0 68 33 15 67 81 100 88 133 37 166 84M0 102 33 39 67 73 100 19 133 63 166 77"/>
<path class="k3" d="M0 69 33 36 67 56 100 73 133 111 166 28M0 71 33 49 67 73 100 76 133 10 166 95M0 77 33 34 67 66 100 103 133 71 166 22"/>
<path class="k0" d="M0 83 33 95 67 9 100 69 133 58 166 59M0 109 33 31 67 67 100 44 133 83 166 41M0 99 33 65 67 12 100 67 133 81 166 49"/>
<path class="k4" d="M0 104 33 79 67 14 100 56 133 60 166 59M0 64 33 50 67 64 100 43 133 118 166 35M0 27 33 105 67 73 100 49 133 37 166 83"/>
<path class="k5" d="M0 49 33 92 67 79 100 25 133 93 166 35M0 45 33 94 67 37 100 79 133 93 166 26M0 111 33 57 67 64 100 19 133 55 166 68M0 49 33 72 67 115 100 30 133 61 166 46"/>
<path class="k2" d="M0 69 33 22 67 94 100 34 133 92 166 62M0 45 33 54 67 42 100 118 133 72 166 43M0 60 33 58 67 121 100 41 133 45 166 49"/>
<path class="k6" d="M0 93 33 43 67 61 100 92 133 69 166 16M0 75 33 86 67 62 100 24 133 30 166 96M0 44 33 11 67 76 100 77 133 75 166 91"/>
<path class="k1" d="M0 46 33 109 67 31 100 48 133 88 166 52M0 76 33 50 67 81 100 12 133 58 166 96M0 80 33 17 67 38 100 65 133 97 166 76"/>
<path class="k3" d="M0 70 33 111 67 55 100 72 133 41 166 25M0 110 33 56 67 37 100 62 133 29 166 79M0 51 33 73 67 59 100 112 133 57 166 22"/>
<path class="k4" d="M0 96 33 99 67 32 100 35 133 62 166 48M0 96 33 61 67 54 100 30 133 33 166 98M0 56 33 59 67 51 100 19 133 82 166 106"/>
<path class="k5" d="M0 67 33 58 67 58 100 117 133 37 166 36M0 26 33 114 67 72 100 52 133 50 166 59M0 89 33 72 67 41 100 12 133 74 166 85"/>
<path class="k0" d="M0 22 33 111 67 48 100 75 133 54 166 63M0 38 33 52 67 107 100 74 133 76 166 26M0 31 33 91 67 32 100 102 133 61 166 56"/>
<path class="k2" d="M0 66 33 62 67 78 100 96 133 7 166 64M0 52 33 61 67 45 100 31 133 68 166 117M0 39 33 56 67 40 100 119 133 53 166 65"/>
<path class="k1" d="M0 74 33 41 67 65 100 24 133 58 166 111M0 92 33 80 67 70 100 60 133 6 166 65M0 26 33 84 67 94 100 53 133 30 166 85"/>
<path class="k6" d="M0 64 33 83 67 72 100 47 133 95 166 12M0 100 33 82 67 40 100 20 133 54 166 77M0 59 33 49 67 22 100 57 133 76 166 111M0 37 33 30 67 99 100 42 133 77 166 89"/>
<path class="k3" d="M0 111 33 58 67 63 100 22 133 46 166 73M0 58 33 117 67 71 100 39 133 38 166 50M0 100 33 27 67 76 100 34 133 87 166 49"/>
<path class="k1" d="M0 38 33 22 67 78 100 52 133 99 166 84M0 49 33 26 67 107 100 87 133 48 166 56M0 119 33 56 67 37 100 62 133 42 166 56"/>
<path class="k6" d="M0 73 33 92 67 70 100 87 133 21 166 31M0 109 33 70 67 78 100 30 133 49 166 36M0 32 33 86 67 32 100 101 133 76 166 47"/>
<path class="k5" d="M0 27 33 83 67 62 100 95 133 26 166 80M0 58 33 43 67 65 100 31 133 59 166 117M0 79 33 43 67 77 100 11 133 74 166 90"/>
<path class="k4" d="M0 74 33 97 67 53 100 42 133 88 166 19M0 51 33 111 67 40 100 27 133 73 166 70M0 32 33 88 67 104 100 34 133 48 166 66"/>
<path class="k0" d="M0 37 33 66 67 99 100 88 133 62 166 21M0 90 33 80 67 55 100 50 133 85 166 12M0 69 33 25 67 95 100 94 133 32 166 58M0 77 33 30 67 60 100 52 133 113 166 42"/>
<path class="k2" d="M0 43 33 78 67 17 100 53 133 88 166 94M0 76 33 102 67 52 100 83 133 26 166 34M0 23 33 59 67 81 100 49 133 109 166 53"/>
<path class="k4" d="M0 63 33 46 67 58 100 59 133 117 166 29M0 38 33 55 67 110 100 40 133 43 166 87M0 26 33 97 67 29 100 61 133 72 166 89"/>
<path class="k2" d="M0 102 33 63 67 63 100 70 133 10 166 65M0 28 33 87 67 39 100 100 133 78 166 41M0 76 33 72 67 54 100 13 133 57 166 102"/>
<path class="k5" d="M0 97 33 38 67 78 100 68 133 16 166 76M0 108 33 23 67 73 100 68 133 38 166 63M0 89 33 84 67 66 100 72 133 7 166 55"/>
<path class="k6" d="M0 59 33 80 67 58 100 46 133 22 166 108M0 13 33 50 67 81 100 82 133 93 166 54M0 35 33 48 67 77 100 77 133 30 166 106"/>
<path class="k3" d="M0 62 33 102 67 59 100 45 133 86 166 18M0 33 33 82 67 100 100 35 133 84 166 40M0 84 33 58 67 79 100 91 133 11 166 51"/>
<path class="k1" d="M0 43 33 110 67 37 100 35 133 68 166 81M0 52 33 10 67 90 100 78 133 60 166 85M0 64 33 85 67 75 100 96 133 27 166 26M0 49 33 17 67 99 100 87 133 51 166 70"/>
<path class="k0" d="M0 79 33 57 67 47 100 101 133 74 166 15M0 87 33 34 67 72 100 103 133 32 166 46M0 43 33 44 67 122 100 53 133 56 166 55"/>
<path class="k3" d="M0 109 33 41 67 55 100 23 133 71 166 73M0 65 33 106 67 59 100 77 133 49 166 17M0 64 33 105 67 61 100 67 133 64 166 12"/>
<path class="k5" d="M0 27 33 74 67 32 100 103 133 84 166 54M0 52 33 73 67 36 100 96 133 92 166 24M0 29 33 86 67 26 100 99 133 72 166 62"/>
<path class="k1" d="M0 43 33 22 67 50 100 97 133 67 166 94M0 70 33 18 67 51 100 58 133 67 166 109M0 51 33 93 67 60 100 37 133 103 166 29"/>
<path class="k4" d="M0 76 33 33 67 114 100 39 133 56 166 55M0 79 33 11 67 75 100 49 133 64 166 96M0 93 33 75 67 91 100 56 133 20 166 37"/>
<path class="k2" d="M0 115 33 45 67 38 100 77 133 58 166 40M0 71 33 32 67 112 100 45 133 73 166 40M0 62 33 62 67 7 100 89 133 67 166 87M0 74 33 89 67 83 100 39 133 13 166 74"/>
<path class="k6" d="M0 38 33 93 67 106 100 47 133 50 166 40M0 81 33 77 67 77 100 17 133 88 166 33M0 99 33 39 67 59 100 79 133 19 166 79"/>
<path class="k0" d="M0 76 33 107 67 46 100 55 133 70 166 20M0 81 33 30 67 79 100 99 133 59 166 25M0 19 33 43 67 82 100 50 133 91 166 89"/>
<path class="k5" d="M0 34 33 115 67 77 100 48 133 50 166 49M0 46 33 33 67 98 100 46 133 101 166 49M0 93 33 84 67 86 100 47 133 43 166 20"/>
<path class="k1" d="M0 91 33 27 67 68 100 24 133 86 166 78M0 72 33 43 67 52 100 24 133 110 166 72M0 88 33 22 67 82 100 44 133 94 166 44"/>
<path class="k2" d="M0 106 33 78 67 34 100 54 133 73 166 27M0 118 33 29 67 60 100 49 133 57 166 60M0 43 33 45 67 79 100 94 133 90 166 22"/>
<path class="k4" d="M0 84 33 24 67 39 100 73 133 103 166 50M0 34 33 47 67 40 100 89 133 108 166 54M0 83 33 32 67 87 100 95 133 49 166 28"/>
<path class="k6" d="M0 31 33 44 67 96 100 32 133 84 166 86M0 70 33 78 67 43 100 101 133 67 166 15M0 56 33 64 67 79 100 7 133 79 166 89"/>
<path class="k0" d="M0 33 33 75 67 116 100 47 133 52 166 49M0 48 33 96 67 78 100 88 133 41 166 22M0 83 33 78 67 66 100 94 133 28 166 24"/>
<path class="k3" d="M0 82 33 48 67 102 100 71 133 54 166 16M0 71 33 15 67 58 100 102 133 78 166 48M0 36 33 63 67 117 100 39 133 51 166 68M0 69 33 60 67 13 100 97 133 49 166 86"/>
<path class="k6" d="M0 83 33 65 67 105 100 42 133 56 166 22M0 88 33 91 67 81 100 23 133 31 166 59M0 109 33 44 67 45 100 29 133 82 166 64"/>
<path class="k4" d="M0 36 33 106 67 56 100 45 133 39 166 91M0 73 33 100 67 62 100 37 133 82 166 19M0 60 33 50 67 64 100 117 133 56 166 27M0 108 33 55 67 81 100 36 133 27 166 66"/>
<path class="k5" d="M0 100 33 32 67 91 100 34 133 45 166 71M0 94 33 84 67 79 100 14 133 45 166 57M0 96 33 88 67 30 100 65 133 24 166 70"/>
<path class="k3" d="M0 17 33 97 67 78 100 82 133 59 166 41M0 48 33 12 67 57 100 85 133 80 166 91M0 78 33 3 67 69 100 75 133 83 166 65"/>
<path class="k1" d="M0 66 33 96 67 98 100 28 133 44 166 42M0 110 33 50 67 83 100 32 133 62 166 37M0 26 33 47 67 63 100 45 133 83 166 108"/>
<path class="k0" d="M0 11 33 69 67 81 100 96 133 69 166 47M0 77 33 111 67 69 100 38 133 36 166 42M0 23 33 86 67 34 100 100 133 67 166 63"/>
<path class="k2" d="M0 100 33 34 67 93 100 69 133 35 166 42M0 52 33 80 67 21 100 101 133 40 166 79M0 99 33 36 67 51 100 31 133 58 166 97"/>
<path class="k0" d="M0 47 33 26 67 64 100 43 133 102 166 91M0 72 33 63 67 15 100 106 133 51 166 67M0 17 33 37 67 88 100 87 133 62 166 83"/>
<path class="k5" d="M0 44 33 41 67 87 100 107 133 31 166 64M0 65 33 25 67 27 100 91 133 74 166 92M0 110 33 46 67 67 100 31 133 80 166 38M0 83 33 57 67 111 100 45 133 32 166 45"/>
<path class="k4" d="M0 87 33 77 67 79 100 66 133 5 166 59M0 32 33 101 67 49 100 41 133 54 166 97M0 58 33 46 67 83 100 37 133 38 166 111"/>
<path class="k1" d="M0 69 33 70 67 88 100 7 133 84 166 55M0 46 33 102 67 98 100 34 133 44 166 48M0 90 33 98 67 43 100 55 133 19 166 68"/>
<path class="k6" d="M0 74 33 89 67 65 100 21 133 32 166 93M0 58 33 36 67 80 100 20 133 95 166 84M0 73 33 105 67 74 100 63 133 28 166 29"/>
<path class="k3" d="M0 7 33 87 67 72 100 55 133 68 166 85M0 97 33 82 67 86 100 47 133 33 166 28M0 96 33 57 67 70 100 37 133 21 166 91"/>
<path class="k2" d="M0 66 33 107 67 44 100 22 133 80 166 54M0 64 33 13 67 58 100 105 133 64 166 70M0 30 33 90 67 67 100 96 133 25 166 65"/>
<path class="k2" d="M0 38 33 80 67 74 100 29 133 107 166 46M0 34 33 71 67 96 100 94 133 28 166 51M0 18 33 67 67 86 100 43 133 59 166 100"/>
<path class="k6" d="M0 29 33 92 67 35 100 44 133 93 166 81M0 48 33 87 67 67 100 26 133 104 166 41M0 42 33 55 67 44 100 121 133 54 166 57M0 81 33 57 67 112 100 33 133 38 166 53"/>
<path class="k4" d="M0 27 33 61 67 100 100 44 133 95 166 46M0 100 33 58 67 25 100 63 133 36 166 92M0 57 33 82 67 54 100 26 133 45 166 110"/>
<path class="k1" d="M0 117 33 55 67 71 100 40 133 53 166 37M0 29 33 65 67 114 100 39 133 59 166 67M0 66 33 58 67 50 100 53 133 117 166 29"/>
<path class="k3" d="M0 62 33 30 67 64 100 68 133 36 166 114M0 109 33 44 67 74 100 76 133 30 166 41M0 63 33 77 67 30 100 99 133 24 166 80"/>
<path class="k5" d="M0 66 33 47 67 97 100 89 133 15 166 60M0 34 33 30 67 83 100 102 133 78 166 45M0 70 33 58 67 5 100 78 133 75 166 86"/>
<path class="k0" d="M0 88 33 81 67 25 100 25 133 68 166 85M0 62 33 111 67 54 100 19 133 67 166 61M0 89 33 32 67 90 100 89 133 36 166 38"/>
<path class="k5" d="M0 87 33 38 67 100 100 72 133 53 166 22M0 105 33 70 67 67 100 71 133 17 166 43M0 45 33 100 67 64 100 22 133 92 166 50"/>
<path class="k2" d="M0 44 33 38 67 70 100 72 133 36 166 113M0 90 33 56 67 97 100 68 133 45 166 17M0 84 33 50 67 60 100 14 133 99 166 66"/>
<path class="k1" d="M0 31 33 56 67 97 100 98 133 59 166 33M0 64 33 34 67 53 100 91 133 29 166 102M0 58 33 94 67 89 100 76 133 20 166 37"/>
<path class="k6" d="M0 58 33 46 67 98 100 16 133 88 166 67M0 15 33 88 67 44 100 60 133 71 166 95M0 76 33 32 67 28 100 55 133 76 166 106"/>
<path class="k3" d="M0 83 33 37 67 100 100 43 133 28 166 82M0 26 33 35 67 46 100 96 133 84 166 85M0 69 33 32 67 113 100 69 133 35 166 55"/>
<path class="k4" d="M0 108 33 75 67 46 100 77 133 29 166 38M0 75 33 58 67 92 100 71 133 6 166 71M0 94 33 38 67 70 100 97 133 47 166 27"/>
<path class="k0" d="M0 58 33 25 67 89 100 80 133 30 166 92M0 25 33 51 67 34 100 95 133 92 166 75M0 62 33 95 67 51 100 23 133 43 166 98M0 87 33 96 67 72 100 32 133 22 166 65"/>
<path class="k6" d="M0 106 33 66 67 84 100 40 133 25 166 52M0 36 33 108 67 51 100 37 133 89 166 53M0 43 33 77 67 90 100 31 133 34 166 98"/>
<path class="k0" d="M0 59 33 33 67 29 100 97 133 58 166 97M0 25 33 52 67 75 100 91 133 95 166 34M0 72 33 54 67 105 100 21 133 79 166 42"/>
<path class="k2" d="M0 77 33 103 67 47 100 16 133 57 166 74M0 98 33 62 67 65 100 81 133 10 166 58M0 21 33 92 67 45 100 43 133 90 166 83"/>
<path class="k4" d="M0 53 33 78 67 32 100 99 133 85 166 26M0 78 33 23 67 34 100 56 133 97 166 85M0 50 33 55 67 76 100 28 133 52 166 114"/>
<path class="k1" d="M0 64 33 73 67 58 100 76 133 7 166 95M0 89 33 32 67 100 100 71 133 29 166 52M0 76 33 72 67 76 100 93 133 10 166 46M0 31 33 110 67 46 100 58 133 43 166 85"/>
<path class="k3" d="M0 86 33 69 67 103 100 33 133 29 166 54M0 63 33 25 67 58 100 115 133 64 166 48M0 91 33 23 67 52 100 87 133 35 166 85"/>
<path class="k5" d="M0 71 33 82 67 105 100 32 133 28 166 54M0 22 33 105 67 41 100 56 133 83 166 67M0 63 33 26 67 107 100 39 133 54 166 85"/>
<path class="k6" d="M0 82 33 73 67 102 100 49 133 50 166 18M0 34 33 77 67 27 100 104 133 80 166 52M0 33 33 50 67 74 100 36 133 66 166 113"/>
<path class="k3" d="M0 48 33 19 67 107 100 70 133 54 166 76M0 97 33 34 67 35 100 38 133 89 166 80M0 66 33 86 67 55 100 60 133 11 166 96"/>
<path class="k5" d="M0 77 33 24 67 106 100 61 133 36 166 69M0 37 33 90 67 87 100 44 133 26 166 89M0 74 33 99 67 25 100 67 133 28 166 80"/>
<path class="k4" d="M0 24 33 91 67 41 100 85 133 43 166 89M0 89 33 90 67 40 100 76 133 15 166 63M0 87 33 89 67 55 100 41 133 17 166 84"/>
<path class="k1" d="M0 66 33 29 67 114 100 61 133 65 166 38M0 76 33 89 67 16 100 81 133 78 166 34M0 91 33 79 67 74 100 8 133 70 166 52"/>
<path class="k2" d="M0 47 33 54 67 32 100 44 133 109 166 88M0 87 33 77 67 22 100 84 133 76 166 26M0 94 33 92 67 64 100 49 133 14 166 61M0 117 33 67 67 44 100 54 133 59 166 32"/>
<path class="k0" d="M0 55 33 22 67 87 100 47 133 105 166 57M0 75 33 98 67 43 100 29 133 90 166 37M0 74 33 111 67 54 100 21 133 61 166 53"/>
<path class="k1" d="M0 98 33 30 67 97 100 33 133 56 166 58"/>
<path class="k0" d="M0 75 33 45 67 24 100 43 133 102 166 85"/>
<path class="k6" d="M0 63 33 59 67 33 100 85 133 105 166 28"/>
<path class="k4" d="M0 39 33 93 67 61 100 24 133 99 166 57"/>
<path class="k5" d="M0 49 33 86 67 9 100 78 133 67 166 85"/>
<path class="k3" d="M0 39 33 86 67 90 100 37 133 30 166 91"/>
</g>
<rect class="bx" x="664.2" y="301.1" width="83.2" height="62.2"/>
<g style="stroke-width:2.7" transform="translate(189,459.9) scale(.5)">
<path class="k1" d="M0 45 35 34 71 35 106 102 141 95 176 66M0 57 35 16 71 59 106 62 141 76 176 108M0 103 35 90 71 60 106 47 141 57 176 20M0 100 35 73 71 88 106 58 141 22 176 37"/>
<path class="k4" d="M0 72 35 119 71 52 106 39 141 56 176 40M0 102 35 53 71 30 106 34 141 65 176 93M0 69 35 81 71 43 106 70 141 15 176 100"/>
<path class="k2" d="M0 79 35 70 71 107 106 45 141 57 176 20M0 97 35 55 71 9 106 74 141 64 176 78M0 100 35 43 71 17 106 64 141 88 176 65M0 99 35 88 71 53 106 17 141 73 176 48"/>
<path class="k0" d="M0 96 35 87 71 22 106 32 141 75 176 66M0 96 35 80 71 92 106 27 141 43 176 40M0 90 35 83 71 96 106 37 141 27 176 45M0 92 35 87 71 66 106 80 141 35 176 18"/>
<path class="k3" d="M0 23 35 40 71 96 106 60 141 98 176 60M0 91 35 94 71 71 106 28 141 25 176 67M0 67 35 76 71 112 106 23 141 50 176 50"/>
<path class="k6" d="M0 31 35 30 71 51 106 81 141 82 176 102M0 85 35 58 71 40 106 23 141 65 176 106M0 99 35 88 71 64 106 70 141 22 176 35"/>
<path class="k5" d="M0 107 35 93 71 54 106 39 141 33 176 52M0 42 35 97 71 39 106 47 141 46 176 105M0 62 35 106 71 89 106 56 141 32 176 33"/>
<path class="k5" d="M0 84 35 103 71 70 106 62 141 39 176 20M0 103 35 77 71 76 106 55 141 15 176 52M0 107 35 68 71 87 106 40 141 31 176 43M0 120 35 69 71 42 106 41 141 46 176 60"/>
<path class="k6" d="M0 109 35 84 71 43 106 68 141 34 176 38M0 107 35 83 71 74 106 38 141 43 176 31M0 102 35 57 71 96 106 25 141 46 176 52"/>
<path class="k3" d="M0 32 35 62 71 29 106 107 141 84 176 64M0 103 35 82 71 81 106 35 141 28 176 50M0 26 35 29 71 60 106 94 141 77 176 91M0 88 35 73 71 92 106 20 141 72 176 32"/>
<path class="k0" d="M0 84 35 63 71 45 106 16 141 66 176 103M0 50 35 80 71 116 106 53 141 42 176 36M0 101 35 90 71 75 106 44 141 42 176 26"/>
<path class="k2" d="M0 58 35 68 71 117 106 62 141 31 176 42M0 88 35 84 71 85 106 68 141 16 176 37M0 92 35 85 71 78 106 48 141 12 176 62"/>
<path class="k4" d="M0 103 35 31 71 83 106 39 141 40 176 82M0 85 35 48 71 52 106 19 141 71 176 104M0 90 35 87 71 78 106 51 141 62 176 10M0 76 35 9 71 94 106 55 141 81 176 62"/>
<path class="k1" d="M0 85 35 58 71 42 106 47 141 33 176 112M0 103 35 91 71 60 106 59 141 22 176 42M0 82 35 96 71 32 106 23 141 59 176 85"/>
<path class="k6" d="M0 99 35 88 71 73 106 46 141 55 176 17M0 43 35 33 71 32 106 82 141 88 176 98M0 76 35 100 71 77 106 72 141 22 176 31M0 105 35 77 71 76 106 27 141 64 176 30"/>
<path class="k4" d="M0 74 35 83 71 106 106 40 141 46 176 27M0 76 35 81 71 106 106 31 141 32 176 51M0 97 35 73 71 87 106 18 141 39 176 63"/>
<path class="k1" d="M0 89 35 102 71 66 106 61 141 38 176 22M0 41 35 48 71 21 106 94 141 84 176 89M0 56 35 104 71 94 106 51 141 48 176 25M0 79 35 30 71 22 106 71 141 83 176 94"/>
<path class="k5" d="M0 58 35 39 71 22 106 99 141 68 176 92M0 84 35 83 71 88 106 68 141 43 176 12M0 79 35 100 71 20 106 34 141 66 176 78"/>
<path class="k3" d="M0 91 35 68 71 104 106 45 141 31 176 39M0 82 35 96 71 89 106 47 141 23 176 42M0 47 35 47 71 35 106 73 141 57 176 118"/>
<path class="k0" d="M0 93 35 89 71 79 106 25 141 62 176 29M0 49 35 18 71 64 106 81 141 59 176 107M0 51 35 30 71 55 106 49 141 116 176 76M0 91 35 96 71 77 106 54 141 36 176 24"/>
<path class="k2" d="M0 77 35 100 71 88 106 47 141 45 176 21M0 33 35 86 71 107 106 30 141 65 176 55M0 65 35 104 71 91 106 37 141 51 176 29"/>
<path class="k2" d="M0 35 35 102 71 94 106 63 141 54 176 29M0 113 35 63 71 74 106 60 141 24 176 44M0 71 35 77 71 108 106 31 141 61 176 29M0 92 35 34 71 61 106 52 141 33 176 105"/>
<path class="k3" d="M0 105 35 63 71 94 106 36 141 40 176 40M0 77 35 94 71 90 106 48 141 53 176 15M0 110 35 66 71 51 106 18 141 57 176 74M0 41 35 41 71 42 106 51 141 93 176 109"/>
<path class="k1" d="M0 73 35 104 71 83 106 20 141 44 176 53M0 57 35 117 71 68 106 48 141 28 176 60M0 82 35 89 71 98 106 39 141 35 176 34"/>
<path class="k6" d="M0 61 35 111 71 85 106 44 141 37 176 38M0 85 35 56 71 56 106 10 141 81 176 90M0 96 35 78 71 87 106 60 141 35 176 21"/>
<path class="k0" d="M0 106 35 86 71 40 106 29 141 72 176 45M0 89 35 107 71 52 106 29 141 40 176 60M0 72 35 101 71 93 106 40 141 41 176 31"/>
<path class="k4" d="M0 116 35 58 71 68 106 29 141 42 176 65M0 56 35 58 71 9 106 85 141 77 176 93M0 98 35 81 71 88 106 40 141 46 176 24M0 97 35 61 71 7 106 74 141 66 176 72"/>
<path class="k5" d="M0 79 35 113 71 64 106 30 141 48 176 44M0 112 35 40 71 76 106 72 141 31 176 47M0 53 35 113 71 80 106 59 141 45 176 28"/>
<path class="k0" d="M0 107 35 65 71 90 106 45 141 37 176 34M0 101 35 85 71 81 106 47 141 34 176 29M0 41 35 66 71 36 106 106 141 37 176 91M0 37 35 84 71 109 106 53 141 66 176 29"/>
<path class="k6" d="M0 113 35 66 71 61 106 44 141 71 176 23M0 44 35 45 71 23 106 101 141 78 176 86M0 94 35 82 71 89 106 49 141 18 176 45M0 93 35 77 71 94 106 51 141 44 176 19"/>
<path class="k1" d="M0 67 35 72 71 43 106 21 141 63 176 110M0 39 35 20 71 64 106 102 141 64 176 87M0 56 35 45 71 88 106 96 141 76 176 16"/>
<path class="k4" d="M0 85 35 82 71 75 106 12 141 40 176 82M0 39 35 74 71 47 106 32 141 113 176 71M0 40 35 52 71 84 106 22 141 78 176 102"/>
<path class="k3" d="M0 114 35 64 71 79 106 32 141 44 176 44M0 69 35 81 71 25 106 33 141 105 176 65M0 85 35 97 71 86 106 34 141 48 176 27"/>
<path class="k2" d="M0 109 35 86 71 65 106 38 141 34 176 45M0 109 35 72 71 51 106 44 141 77 176 23M0 79 35 104 71 78 106 55 141 37 176 24"/>
<path class="k5" d="M0 81 35 89 71 96 106 21 141 39 176 51M0 100 35 70 71 86 106 65 141 29 176 26M0 104 35 82 71 70 106 59 141 42 176 19M0 23 35 27 71 72 106 88 141 80 176 87"/>
</g>
<rect class="bx" x="189" y="459.9" width="88.2" height="62.9"/>
<g style="stroke-width:2.7" transform="translate(304.5,459.9) scale(.5)">
<path class="k1" d="M0 97 35 78 69 92 104 29 139 32 173 48M0 48 35 37 69 48 104 107 139 43 173 94M0 55 35 12 69 52 104 88 139 83 173 88M0 99 35 81 69 15 104 48 139 80 173 55"/>
<path class="k4" d="M0 93 35 82 69 86 104 15 139 43 173 59M0 67 35 78 69 58 104 110 139 24 173 41M0 59 35 72 69 44 104 34 139 50 173 118"/>
<path class="k0" d="M0 81 35 89 69 74 104 32 139 84 173 18M0 35 35 70 69 26 104 63 139 76 173 109M0 34 35 27 69 50 104 89 139 80 173 98M0 56 35 97 69 101 104 31 139 35 173 58"/>
<path class="k3" d="M0 57 35 118 69 72 104 50 139 49 173 31M0 42 35 50 69 94 104 30 139 106 173 56M0 69 35 67 69 21 104 33 139 92 173 95"/>
<path class="k2" d="M0 41 35 39 69 27 104 94 139 88 173 88M0 92 35 41 69 62 104 23 139 58 173 102M0 84 35 69 69 31 104 21 139 78 173 95M0 55 35 64 69 26 104 38 139 104 173 90"/>
<path class="k6" d="M0 14 35 57 69 47 104 81 139 97 173 82M0 24 35 37 69 51 104 91 139 78 173 96M0 44 35 42 69 24 104 83 139 86 173 98"/>
<path class="k5" d="M0 30 35 56 69 27 104 88 139 80 173 96M0 58 35 31 69 70 104 94 139 28 173 97M0 47 35 29 69 35 104 97 139 76 173 94"/>
<path class="k2" d="M0 29 35 33 69 48 104 96 139 79 173 92M0 34 35 38 69 39 104 91 139 73 173 102M0 32 35 55 69 27 104 75 139 90 173 99"/>
<path class="k4" d="M0 27 35 34 69 54 104 72 139 98 173 93M0 42 35 15 69 70 104 71 139 77 173 101M0 46 35 39 69 29 104 105 139 90 173 69M0 22 35 53 69 43 104 71 139 81 173 107"/>
<path class="k5" d="M0 25 35 44 69 54 104 112 139 75 173 68M0 46 35 44 69 25 104 74 139 84 173 105M0 63 35 36 69 19 104 75 139 88 173 96M0 83 35 94 69 85 104 52 139 48 173 16"/>
<path class="k0" d="M0 99 35 41 69 39 104 31 139 71 173 95M0 37 35 25 69 52 104 71 139 97 173 95M0 42 35 58 69 27 104 70 139 66 173 114"/>
<path class="k1" d="M0 33 35 81 69 17 104 77 139 88 173 81M0 100 35 60 69 24 104 35 139 91 173 67M0 50 35 29 69 36 104 105 139 71 173 87"/>
<path class="k3" d="M0 103 35 90 69 28 104 38 139 47 173 72M0 52 35 54 69 20 104 107 139 58 173 85M0 34 35 33 69 51 104 109 139 65 173 86M0 45 35 21 69 55 104 66 139 107 173 83"/>
<path class="k6" d="M0 112 35 48 69 76 104 29 139 71 173 42M0 48 35 30 69 30 104 90 139 89 173 89M0 83 35 55 69 82 104 46 139 96 173 15"/>
<path class="k3" d="M0 30 35 20 69 69 104 85 139 86 173 87M0 39 35 19 69 58 104 86 139 76 173 99M0 56 35 26 69 38 104 72 139 110 173 76"/>
<path class="k6" d="M0 72 35 94 69 97 104 20 139 48 173 47M0 30 35 54 69 27 104 91 139 84 173 91M0 69 35 72 69 38 104 23 139 65 173 110M0 60 35 29 69 27 104 101 139 82 173 79"/>
<path class="k0" d="M0 36 35 46 69 34 104 64 139 95 173 103M0 94 35 75 69 92 104 48 139 52 173 16M0 51 35 82 69 8 104 91 139 68 173 77M0 6 35 71 69 57 104 78 139 77 173 89"/>
<path class="k1" d="M0 51 35 119 69 72 104 57 139 37 173 41M0 26 35 36 69 48 104 81 139 85 173 100M0 24 35 54 69 33 104 86 139 91 173 89M0 93 35 65 69 101 104 21 139 50 173 47"/>
<path class="k2" d="M0 45 35 47 69 24 104 107 139 83 173 72M0 41 35 46 69 36 104 82 139 114 173 58M0 71 35 52 69 65 104 110 139 17 173 62"/>
<path class="k4" d="M0 59 35 31 69 30 104 106 139 85 173 67M0 91 35 100 69 72 104 54 139 27 173 33M0 15 35 53 69 50 104 90 139 73 173 96"/>
<path class="k5" d="M0 31 35 23 69 62 104 80 139 96 173 86M0 27 35 42 69 51 104 76 139 112 173 70M0 95 35 56 69 41 104 96 139 20 173 68"/>
<path class="k3" d="M0 39 35 34 69 35 104 97 139 89 173 84M0 102 35 70 69 50 104 14 139 80 173 62M0 71 35 47 69 100 104 94 139 32 173 33M0 42 35 41 69 37 104 116 139 71 173 70"/>
<path class="k0" d="M0 62 35 20 69 43 104 104 139 63 173 86M0 28 35 23 69 75 104 75 139 93 173 84M0 96 35 99 69 30 104 32 139 63 173 58"/>
<path class="k4" d="M0 101 35 87 69 44 104 21 139 74 173 50M0 35 35 37 69 39 104 72 139 90 173 103M0 70 35 107 69 71 104 42 139 18 173 69M0 44 35 67 69 20 104 57 139 84 173 105"/>
<path class="k6" d="M0 87 35 101 69 66 104 66 139 24 173 33M0 47 35 103 69 92 104 38 139 69 173 29M0 35 35 50 69 26 104 95 139 94 173 77"/>
<path class="k5" d="M0 46 35 47 69 27 104 65 139 81 173 111M0 83 35 76 69 20 104 34 139 98 173 66M0 25 35 74 69 41 104 89 139 46 173 102"/>
<path class="k1" d="M0 94 35 77 69 92 104 42 139 19 173 54M0 23 35 33 69 65 104 103 139 79 173 75M0 107 35 72 69 83 104 46 139 46 173 24"/>
<path class="k2" d="M0 49 35 43 69 93 104 22 139 73 173 98M0 73 35 85 69 34 104 17 139 81 173 88M0 107 35 75 69 36 104 24 139 59 173 77M0 85 35 78 69 101 104 51 139 23 173 38"/>
<path class="k2" d="M0 23 35 47 69 60 104 64 139 69 173 114M0 39 35 44 69 42 104 53 139 86 173 113M0 82 35 85 69 74 104 9 139 47 173 81"/>
<path class="k0" d="M0 13 35 51 69 67 104 79 139 65 173 102M0 10 35 79 69 80 104 45 139 90 173 73M0 74 35 100 69 22 104 64 139 34 173 84M0 48 35 44 69 21 104 79 139 96 173 90"/>
<path class="k6" d="M0 29 35 41 69 45 104 74 139 81 173 108M0 47 35 49 69 22 104 67 139 91 173 102M0 98 35 103 69 55 104 47 139 39 173 35M0 80 35 64 69 79 104 11 139 49 173 94"/>
<path class="k1" d="M0 51 35 23 69 39 104 77 139 99 173 89M0 64 35 71 69 115 104 38 139 31 173 57M0 37 35 58 69 27 104 111 139 72 173 72"/>
<path class="k4" d="M0 58 35 73 69 10 104 60 139 99 173 77M0 48 35 22 69 56 104 89 139 106 173 56M0 35 35 51 69 30 104 94 139 101 173 66"/>
<path class="k5" d="M0 45 35 28 69 40 104 105 139 76 173 84M0 40 35 38 69 31 104 101 139 83 173 84M0 105 35 74 69 51 104 23 139 42 173 84M0 25 35 27 69 68 104 91 139 74 173 93"/>
<path class="k3" d="M0 11 35 48 69 68 104 76 139 79 173 96M0 72 35 24 69 42 104 109 139 51 173 79M0 69 35 24 69 45 104 109 139 49 173 80"/>
</g>
<rect class="bx" x="304.5" y="459.9" width="86.7" height="62.9"/>
<g style="stroke-width:2.7" transform="translate(419.4,459.9) scale(.5)">
<path class="k1" d="M0 97 35 94 70 72 105 35 140 54 176 25M0 105 35 59 70 29 105 42 140 49 176 94M0 90 35 98 70 15 105 49 140 56 176 69M0 66 35 54 70 51 105 18 140 83 176 106"/>
<path class="k4" d="M0 53 35 37 70 25 105 74 140 102 176 87M0 45 35 30 70 37 105 96 140 71 176 99M0 70 35 81 70 20 105 43 140 58 176 106"/>
<path class="k0" d="M0 25 35 58 70 39 105 63 140 86 176 107M0 13 35 60 70 48 105 88 140 73 176 96M0 32 35 22 70 73 105 76 140 102 176 72M0 106 35 74 70 34 105 23 140 73 176 68"/>
<path class="k6" d="M0 67 35 33 70 84 105 21 140 98 176 75M0 58 35 85 70 28 105 28 140 81 176 97M0 54 35 97 70 76 105 17 140 46 176 88"/>
<path class="k5" d="M0 27 35 44 70 41 105 74 140 102 176 89M0 60 35 27 70 107 105 33 140 71 176 80M0 71 35 74 70 8 105 74 140 55 176 96"/>
<path class="k3" d="M0 83 35 61 70 18 105 36 140 88 176 91M0 71 35 66 70 35 105 72 140 25 176 109M0 61 35 68 70 43 105 19 140 80 176 106"/>
<path class="k2" d="M0 67 35 87 70 39 105 92 140 15 176 77M0 70 35 73 70 38 105 68 140 22 176 107M0 69 35 60 70 9 105 59 140 83 176 97M0 106 35 81 70 73 105 23 140 53 176 40"/>
<path class="k5" d="M0 90 35 84 70 53 105 10 140 83 176 58M0 89 35 75 70 29 105 21 140 81 176 83M0 97 35 102 70 39 105 35 140 43 176 62M0 66 35 103 70 84 105 46 140 17 176 62"/>
<path class="k3" d="M0 96 35 26 70 51 105 88 140 83 176 34M0 79 35 82 70 6 105 57 140 68 176 85M0 92 35 79 70 48 105 12 140 87 176 59M0 95 35 102 70 44 105 27 140 63 176 47"/>
<path class="k0" d="M0 83 35 65 70 49 105 10 140 92 176 78M0 104 35 58 70 37 105 23 140 80 176 76M0 50 35 101 70 77 105 59 140 13 176 78"/>
<path class="k2" d="M0 48 35 80 70 35 105 30 140 79 176 106M0 84 35 98 70 61 105 16 140 77 176 41M0 84 35 70 70 13 105 43 140 93 176 74"/>
<path class="k4" d="M0 82 35 104 70 75 105 22 140 53 176 42M0 86 35 70 70 34 105 20 140 72 176 96M0 83 35 107 70 73 105 37 140 48 176 29M0 110 35 69 70 33 105 28 140 71 176 65"/>
<path class="k1" d="M0 55 35 62 70 101 105 95 140 28 176 37M0 102 35 66 70 14 105 48 140 80 176 67M0 118 35 47 70 51 105 31 140 64 176 65"/>
<path class="k6" d="M0 74 35 82 70 24 105 35 140 57 176 104M0 70 35 93 70 73 105 26 140 26 176 90M0 20 35 48 70 44 105 95 140 87 176 84"/>
<path class="k4" d="M0 76 35 65 70 52 105 25 140 46 176 113M0 91 35 59 70 107 105 48 140 31 176 41M0 81 35 63 70 26 105 30 140 75 176 102"/>
<path class="k5" d="M0 95 35 68 70 59 105 12 140 54 176 90M0 111 35 59 70 40 105 27 140 57 176 83M0 17 35 49 70 55 105 65 140 102 176 88"/>
<path class="k1" d="M0 104 35 43 70 23 105 50 140 69 176 88M0 98 35 57 70 31 105 30 140 66 176 96M0 43 35 47 70 25 105 108 140 77 176 77M0 102 35 61 70 44 105 18 140 88 176 64"/>
<path class="k0" d="M0 51 35 13 70 56 105 94 140 88 176 77M0 34 35 47 70 80 105 115 140 57 176 45M0 89 35 80 70 8 105 64 140 52 176 83M0 96 35 63 70 31 105 25 140 69 176 93"/>
<path class="k3" d="M0 99 35 71 70 27 105 31 140 59 176 92M0 93 35 57 70 20 105 48 140 58 176 101M0 81 35 56 70 37 105 39 140 49 176 115"/>
<path class="k2" d="M0 100 35 63 70 24 105 34 140 91 176 66M0 104 35 90 70 52 105 33 140 30 176 69M0 53 35 93 70 20 105 50 140 60 176 101"/>
<path class="k6" d="M0 96 35 70 70 10 105 49 140 80 176 73M0 60 35 85 70 22 105 33 140 88 176 91M0 73 35 78 70 15 105 48 140 61 176 103M0 111 35 78 70 24 105 45 140 52 176 67"/>
<path class="k2" d="M0 85 35 92 70 29 105 23 140 65 176 83M0 89 35 94 70 65 105 73 140 16 176 40M0 90 35 83 70 43 105 63 140 86 176 13M0 105 35 91 70 56 105 48 140 24 176 53"/>
<path class="k5" d="M0 93 35 71 70 40 105 14 140 77 176 82M0 91 35 77 70 94 105 56 140 19 176 39M0 74 35 69 70 15 105 43 140 75 176 102"/>
<path class="k6" d="M0 78 35 53 70 34 105 25 140 97 176 90M0 62 35 119 70 61 105 32 140 43 176 61M0 23 35 52 70 56 105 59 140 75 176 113"/>
<path class="k3" d="M0 94 35 61 70 29 105 33 140 60 176 101M0 115 35 42 70 80 105 59 140 42 176 39M0 92 35 101 70 46 105 40 140 27 176 71M0 58 35 74 70 9 105 59 140 94 176 84"/>
<path class="k1" d="M0 61 35 81 70 66 105 5 140 76 176 88M0 20 35 42 70 64 105 106 140 63 176 82M0 59 35 92 70 30 105 33 140 61 176 103"/>
<path class="k4" d="M0 79 35 72 70 17 105 34 140 87 176 88M0 50 35 97 70 63 105 24 140 44 176 99M0 96 35 80 70 86 105 57 140 39 176 19M0 83 35 30 70 32 105 68 140 57 176 107"/>
<path class="k0" d="M0 81 35 84 70 33 105 25 140 56 176 99M0 44 35 42 70 42 105 119 140 71 176 58M0 13 35 52 70 77 105 103 140 73 176 59"/>
<path class="k6" d="M0 105 35 47 70 40 105 26 140 77 176 83M0 115 35 41 70 72 105 29 140 57 176 63M0 95 35 101 70 63 105 41 140 50 176 26M0 21 35 51 70 49 105 60 140 96 176 99"/>
<path class="k0" d="M0 107 35 68 70 27 105 46 140 43 176 87M0 116 35 59 70 37 105 33 140 71 176 61M0 100 35 44 70 22 105 77 140 87 176 47M0 97 35 92 70 63 105 44 140 65 176 17"/>
<path class="k1" d="M0 102 35 96 70 63 105 42 140 29 176 46M0 108 35 56 70 45 105 21 140 67 176 81M0 110 35 76 70 33 105 57 140 30 176 72"/>
<path class="k5" d="M0 80 35 44 70 16 105 56 140 89 176 92M0 80 35 71 70 30 105 28 140 63 176 106M0 31 35 67 70 43 105 40 140 101 176 95M0 90 35 85 70 24 105 26 140 77 176 76"/>
<path class="k2" d="M0 105 35 79 70 37 105 25 140 52 176 79M0 82 35 62 70 54 105 8 140 85 176 87M0 66 35 102 70 75 105 45 140 75 176 15"/>
<path class="k4" d="M0 93 35 88 70 33 105 20 140 66 176 77M0 89 35 32 70 32 105 43 140 89 176 93M0 42 35 68 70 107 105 74 140 19 176 67"/>
<path class="k3" d="M0 101 35 75 70 45 105 24 140 43 176 89M0 48 35 30 70 44 105 58 140 110 176 88M0 66 35 75 70 14 105 45 140 100 176 77"/>
</g>
<rect class="bx" x="419.4" y="459.9" width="87.8" height="62.9"/>
<g style="stroke-width:2.7" transform="translate(189,547.9) scale(.5)">
<path class="k0" d="M0 78 35 43 71 20 106 50 141 89 176 97M0 87 35 74 71 49 106 11 141 63 176 93M0 48 35 14 71 61 106 87 141 98 176 70M0 97 35 88 71 81 106 47 141 42 176 23"/>
<path class="k1" d="M0 92 35 93 71 52 106 79 141 44 176 18M0 81 35 89 71 8 106 55 141 61 176 83M0 80 35 101 71 71 106 71 141 24 176 30M0 3 35 72 71 70 106 87 141 69 176 77"/>
<path class="k4" d="M0 61 35 61 71 51 106 17 141 81 176 107M0 87 35 93 71 83 106 33 141 58 176 22M0 101 35 37 71 90 106 31 141 76 176 43"/>
<path class="k2" d="M0 88 35 73 71 87 106 52 141 8 176 70M0 75 35 116 71 40 106 61 141 35 176 51M0 38 35 59 71 34 106 49 141 88 176 109M0 110 35 74 71 74 106 38 141 27 176 54"/>
<path class="k6" d="M0 43 35 65 71 26 106 57 141 114 176 72M0 82 35 86 71 100 106 43 141 31 176 34M0 58 35 101 71 98 106 34 141 33 176 53"/>
<path class="k5" d="M0 17 35 44 71 55 106 85 141 78 176 98M0 87 35 84 71 70 106 55 141 75 176 6M0 102 35 89 71 70 106 25 141 35 176 56"/>
<path class="k3" d="M0 74 35 116 71 60 106 56 141 36 176 36M0 65 35 85 71 89 106 73 141 6 176 59M0 91 35 95 71 76 106 56 141 18 176 41"/>
<path class="k1" d="M0 86 35 77 71 48 106 8 141 77 176 81M0 84 35 32 71 45 106 38 141 71 176 108M0 95 35 32 71 39 106 39 141 99 176 73"/>
<path class="k6" d="M0 59 35 94 71 103 106 56 141 29 176 36M0 71 35 108 71 69 106 21 141 70 176 38M0 66 35 69 71 109 106 72 141 39 176 22"/>
<path class="k4" d="M0 76 35 54 71 87 106 101 141 26 176 33M0 42 35 61 71 19 106 95 141 95 176 66M0 57 35 67 71 47 106 52 141 120 176 35M0 39 35 67 71 95 106 17 141 69 176 90"/>
<path class="k5" d="M0 85 35 99 71 82 106 22 141 49 176 41M0 86 35 84 71 92 106 41 141 16 176 59M0 78 35 92 71 91 106 19 141 36 176 61M0 38 35 70 71 29 106 46 141 99 176 96"/>
<path class="k0" d="M0 58 35 82 71 24 106 40 141 64 176 108M0 23 35 62 71 50 106 104 141 48 176 91M0 85 35 96 71 71 106 31 141 72 176 22"/>
<path class="k3" d="M0 91 35 86 71 84 106 15 141 61 176 42M0 86 35 64 71 104 106 55 141 51 176 18M0 76 35 106 71 76 106 60 141 21 176 39M0 100 35 91 71 58 106 59 141 52 176 17"/>
<path class="k2" d="M0 75 35 111 71 51 106 20 141 61 176 59M0 71 35 75 71 109 106 57 141 21 176 45M0 61 35 92 71 58 106 11 141 62 176 93"/>
<path class="k5" d="M0 99 35 85 71 78 106 58 141 22 176 35M0 103 35 97 71 49 106 56 141 32 176 40M0 116 35 67 71 58 106 65 141 43 176 28"/>
<path class="k0" d="M0 86 35 63 71 105 106 61 141 40 176 22M0 28 35 34 71 56 106 86 141 69 176 105M0 79 35 76 71 20 106 33 141 71 176 98M0 92 35 83 71 33 106 28 141 48 176 93"/>
<path class="k6" d="M0 37 35 23 71 52 106 81 141 97 176 88M0 109 35 43 71 28 106 43 141 77 176 77M0 41 35 48 71 88 106 23 141 100 176 77M0 82 35 53 71 107 106 63 141 18 176 55"/>
<path class="k3" d="M0 92 35 74 71 81 106 57 141 67 176 7M0 80 35 102 71 84 106 28 141 43 176 40M0 48 35 107 71 92 106 55 141 31 176 44"/>
<path class="k4" d="M0 37 35 33 71 37 106 89 141 94 176 88M0 40 35 39 71 32 106 86 141 105 176 75M0 58 35 65 71 117 106 62 141 25 176 51"/>
<path class="k1" d="M0 52 35 80 71 26 106 33 141 97 176 89M0 97 35 98 71 69 106 29 141 43 176 41M0 9 35 79 71 66 106 96 141 75 176 54M0 68 35 104 71 78 106 16 141 67 176 46"/>
<path class="k2" d="M0 46 35 90 71 34 106 77 141 100 176 30M0 28 35 64 71 27 106 80 141 101 176 78M0 24 35 42 71 64 106 85 141 55 176 107"/>
<path class="k3" d="M0 82 35 73 71 103 106 37 141 61 176 21M0 90 35 65 71 34 106 92 141 20 176 77M0 84 35 95 71 68 106 17 141 36 176 77M0 66 35 75 71 108 106 67 141 20 176 41"/>
<path class="k6" d="M0 66 35 100 71 93 106 58 141 26 176 35M0 31 35 33 71 50 106 70 141 99 176 95M0 118 35 68 71 46 106 67 141 35 176 43"/>
<path class="k5" d="M0 105 35 46 71 33 106 35 141 91 176 67M0 57 35 56 71 82 106 10 141 80 176 93M0 40 35 49 71 26 106 107 141 77 176 78"/>
<path class="k2" d="M0 88 35 74 71 97 106 35 141 20 176 63M0 53 35 36 71 118 106 48 141 47 176 76M0 84 35 100 71 86 106 32 141 43 176 33M0 25 35 108 71 59 106 88 141 52 176 47"/>
<path class="k4" d="M0 83 35 66 71 102 106 17 141 42 176 67M0 66 35 63 71 29 106 41 141 63 176 116M0 93 35 90 71 68 106 74 141 21 176 32M0 82 35 100 71 86 106 35 141 30 176 44"/>
<path class="k1" d="M0 111 35 87 71 59 106 45 141 40 176 36M0 86 35 53 71 102 106 66 141 55 176 16M0 76 35 69 71 99 106 72 141 51 176 10"/>
<path class="k0" d="M0 111 35 70 71 78 106 30 141 40 176 48M0 85 35 22 71 74 106 69 141 31 176 97M0 68 35 82 71 111 106 32 141 41 176 43"/>
<path class="k1" d="M0 100 35 46 71 97 106 45 141 27 176 62M0 90 35 78 71 96 106 32 141 26 176 55M0 105 35 63 71 33 106 55 141 31 176 91"/>
<path class="k0" d="M0 68 35 105 71 13 106 63 141 54 176 75M0 72 35 107 71 81 106 50 141 24 176 42M0 47 35 46 71 83 106 19 141 86 176 96M0 101 35 82 71 82 106 21 141 49 176 43"/>
<path class="k5" d="M0 106 35 90 71 49 106 48 141 60 176 24M0 87 35 92 71 82 106 63 141 36 176 18M0 30 35 31 71 63 106 93 141 101 176 60M0 75 35 49 71 116 106 43 141 62 176 32"/>
<path class="k4" d="M0 73 35 42 71 20 106 58 141 106 176 78M0 112 35 86 71 48 106 32 141 49 176 50M0 48 35 51 71 16 106 93 141 87 176 83"/>
<path class="k6" d="M0 72 35 100 71 91 106 41 141 24 176 49M0 84 35 97 71 84 106 24 141 56 176 33M0 110 35 59 71 29 106 38 141 57 176 85M0 81 35 96 71 88 106 56 141 32 176 25"/>
<path class="k2" d="M0 74 35 100 71 92 106 30 141 34 176 48M0 104 35 70 71 88 106 25 141 46 176 44M0 101 35 72 71 74 106 69 141 48 176 12"/>
<path class="k3" d="M0 97 35 82 71 87 106 22 141 45 176 44M0 66 35 92 71 104 106 37 141 47 176 31M0 84 35 75 71 99 106 62 141 40 176 18"/>
</g>
<rect class="bx" x="189" y="547.9" width="88.2" height="62.9"/>
<g style="stroke-width:2.7" transform="translate(304.5,547.9) scale(.5)">
<path class="k0" d="M0 40 35 53 69 56 104 58 139 123 173 48M0 53 35 70 69 30 104 36 139 76 173 112M0 23 35 96 69 88 104 73 139 66 173 31M0 98 35 90 69 59 104 67 139 48 173 15"/>
<path class="k2" d="M0 89 35 83 69 83 104 73 139 25 173 25M0 87 35 45 69 58 104 14 139 78 173 94M0 12 35 53 69 54 104 97 139 81 173 79M0 90 35 48 69 20 104 43 139 82 173 95"/>
<path class="k1" d="M0 24 35 73 69 28 104 69 139 90 173 93M0 32 35 68 69 79 104 100 139 76 173 22M0 83 35 31 69 40 104 52 139 60 173 112M0 81 35 39 69 70 104 64 139 19 173 104"/>
<path class="k3" d="M0 40 35 40 69 40 104 59 139 85 173 112M0 41 35 59 69 34 104 57 139 69 173 118M0 34 35 25 69 58 104 104 139 81 173 76"/>
<path class="k4" d="M0 43 35 23 69 53 104 75 139 108 173 75M0 33 35 39 69 34 104 87 139 91 173 93M0 20 35 40 69 61 104 74 139 77 173 106"/>
<path class="k6" d="M0 90 35 75 69 46 104 58 139 14 173 93M0 68 35 95 69 99 104 34 139 27 173 55M0 13 35 43 69 69 104 74 139 96 173 83"/>
<path class="k5" d="M0 50 35 30 69 30 104 83 139 100 173 83M0 88 35 91 69 89 104 24 139 35 173 51M0 89 35 107 69 66 104 32 139 43 173 39"/>
<path class="k5" d="M0 97 35 81 69 86 104 48 139 17 173 48M0 103 35 88 69 73 104 29 139 50 173 33M0 34 35 36 69 38 104 95 139 95 173 80M0 30 35 30 69 50 104 81 139 89 173 96"/>
<path class="k4" d="M0 94 35 14 69 79 104 80 139 70 173 40M0 86 35 44 69 37 104 27 139 94 173 89M0 61 35 104 69 22 104 49 139 52 173 91M0 69 35 36 69 27 104 55 139 108 173 82"/>
<path class="k1" d="M0 36 35 18 69 87 104 65 139 77 173 94M0 27 35 30 69 65 104 76 139 106 173 73M0 16 35 50 69 51 104 75 139 86 173 99"/>
<path class="k2" d="M0 39 35 22 69 51 104 94 139 79 173 93M0 71 35 96 69 37 104 33 139 41 173 99M0 50 35 66 69 120 104 32 139 57 173 53"/>
<path class="k3" d="M0 76 35 34 69 17 104 93 139 76 173 81M0 21 35 59 69 42 104 63 139 96 173 97M0 30 35 25 69 64 104 69 139 97 173 91M0 84 35 107 69 62 104 62 139 26 173 36"/>
<path class="k6" d="M0 85 35 63 69 42 104 15 139 76 173 97M0 120 35 48 69 49 104 56 139 36 173 70M0 102 35 81 69 44 104 68 139 67 173 16"/>
<path class="k0" d="M0 106 35 28 69 76 104 31 139 75 173 62M0 42 35 33 69 33 104 91 139 97 173 81M0 88 35 54 69 58 104 68 139 13 173 97"/>
<path class="k0" d="M0 43 35 47 69 51 104 35 139 93 173 108M0 77 35 82 69 13 104 40 139 91 173 74M0 22 35 49 69 62 104 101 139 94 173 50M0 76 35 50 69 7 104 79 139 79 173 86"/>
<path class="k6" d="M0 47 35 29 69 46 104 79 139 113 173 63M0 44 35 27 69 39 104 99 139 78 173 91M0 81 35 111 69 67 104 52 139 35 173 31M0 61 35 63 69 109 104 43 139 22 173 80"/>
<path class="k4" d="M0 60 35 37 69 21 104 91 139 70 173 98M0 55 35 30 69 41 104 95 139 104 173 53M0 54 35 20 69 40 104 96 139 85 173 83"/>
<path class="k2" d="M0 41 35 34 69 33 104 81 139 87 173 100M0 43 35 26 69 42 104 74 139 98 173 94M0 37 35 46 69 26 104 83 139 91 173 93"/>
<path class="k1" d="M0 18 35 71 69 35 104 95 139 87 173 71M0 38 35 22 69 60 104 105 139 69 173 82M0 67 35 90 69 75 104 48 139 87 173 10M0 74 35 6 69 59 104 68 139 94 173 76"/>
<path class="k3" d="M0 47 35 28 69 39 104 84 139 71 173 107M0 21 35 53 69 42 104 104 139 83 173 73M0 24 35 45 69 49 104 108 139 68 173 84"/>
<path class="k5" d="M0 20 35 35 69 82 104 94 139 61 173 86M0 29 35 63 69 29 104 69 139 104 173 84M0 35 35 48 69 29 104 101 139 90 173 74"/>
<path class="k0" d="M0 27 35 35 69 52 104 99 139 73 173 92M0 28 35 42 69 53 104 112 139 62 173 81M0 82 35 95 69 75 104 49 139 67 173 10"/>
<path class="k5" d="M0 97 35 62 69 20 104 36 139 79 173 85M0 44 35 46 69 25 104 81 139 107 173 73M0 20 35 57 69 40 104 78 139 102 173 81"/>
<path class="k6" d="M0 93 35 99 69 29 104 30 139 59 173 67M0 54 35 53 69 18 104 73 139 109 173 71M0 30 35 39 69 39 104 92 139 93 173 84"/>
<path class="k3" d="M0 22 35 56 69 38 104 86 139 72 173 102M0 61 35 64 69 47 104 17 139 87 173 102M0 100 35 35 69 83 104 25 139 82 173 53M0 39 35 67 69 22 104 104 139 59 173 86"/>
<path class="k1" d="M0 85 35 49 69 34 104 48 139 48 173 113M0 61 35 11 69 48 104 85 139 83 173 89M0 31 35 29 69 88 104 65 139 61 173 103"/>
<path class="k4" d="M0 65 35 89 69 45 104 30 139 42 173 107M0 75 35 105 69 71 104 46 139 16 173 65M0 13 35 44 69 81 104 64 139 95 173 81M0 76 35 92 69 41 104 23 139 98 173 48"/>
<path class="k2" d="M0 32 35 68 69 30 104 111 139 65 173 72M0 73 35 78 69 89 104 73 139 59 173 5M0 78 35 84 69 68 104 3 139 77 173 68M0 57 35 30 69 26 104 81 139 88 173 96"/>
<path class="k0" d="M0 91 35 75 69 19 104 31 139 84 173 77M0 101 35 55 69 97 104 42 139 57 173 26M0 45 35 29 69 49 104 57 139 112 173 83M0 44 35 60 69 15 104 75 139 93 173 91"/>
<path class="k2" d="M0 29 35 36 69 57 104 110 139 63 173 83M0 70 35 20 69 34 104 68 139 90 173 95M0 20 35 38 69 58 104 93 139 75 173 94"/>
<path class="k3" d="M0 42 35 22 69 47 104 90 139 81 173 95M0 41 35 52 69 36 104 112 139 87 173 49M0 25 35 24 69 82 104 78 139 83 173 86"/>
<path class="k1" d="M0 27 35 25 69 82 104 94 139 68 173 81M0 82 35 75 69 107 104 45 139 39 173 30M0 35 35 22 69 68 104 65 139 91 173 97"/>
<path class="k4" d="M0 48 35 58 69 31 104 101 139 41 173 98M0 25 35 31 69 66 104 69 139 83 173 103M0 50 35 36 69 30 104 93 139 66 173 102"/>
<path class="k6" d="M0 23 35 49 69 39 104 95 139 81 173 91M0 90 35 58 69 9 104 76 139 88 173 56M0 36 35 20 69 61 104 95 139 83 173 84M0 61 35 55 69 55 104 22 139 115 173 69"/>
<path class="k5" d="M0 24 35 64 69 31 104 94 139 94 173 70M0 32 35 27 69 73 104 80 139 105 173 60M0 39 35 27 69 55 104 101 139 60 173 96M0 105 35 60 69 90 104 52 139 23 173 48"/>
</g>
<rect class="bx" x="304.5" y="547.9" width="86.7" height="62.9"/>
<g style="stroke-width:2.7" transform="translate(419.4,547.9) scale(.5)">
<path class="k3" d="M0 78 35 62 70 36 105 19 140 86 176 96M0 30 35 46 70 40 105 86 140 67 176 108M0 86 35 50 70 35 105 25 140 86 176 95"/>
<path class="k0" d="M0 93 35 48 70 53 105 75 140 16 176 93M0 49 35 35 70 30 105 88 140 72 176 104M0 111 35 86 70 36 105 34 140 55 176 55M0 67 35 106 70 21 105 39 140 68 176 77"/>
<path class="k1" d="M0 79 35 41 70 44 105 26 140 84 176 103M0 72 35 80 70 16 105 40 140 100 176 70M0 97 35 46 70 31 105 83 140 88 176 32M0 91 35 87 70 34 105 20 140 61 176 84"/>
<path class="k6" d="M0 36 35 88 70 28 105 106 140 55 176 64M0 76 35 9 70 49 105 90 140 81 176 73M0 71 35 101 70 64 105 11 140 75 176 55"/>
<path class="k2" d="M0 59 35 61 70 51 105 18 140 81 176 108M0 20 35 37 70 58 105 84 140 95 176 84M0 66 35 64 70 23 105 35 140 95 176 95M0 90 35 70 70 46 105 32 140 35 176 104"/>
<path class="k4" d="M0 85 35 98 70 80 105 55 140 39 176 21M0 93 35 44 70 30 105 34 140 92 176 84M0 76 35 96 70 89 105 60 140 21 176 36"/>
<path class="k5" d="M0 73 35 108 70 19 105 46 140 58 176 73M0 99 35 85 70 20 105 47 140 46 176 81M0 97 35 70 70 88 105 13 140 58 176 52"/>
<path class="k4" d="M0 51 35 70 70 53 105 16 140 98 176 89M0 55 35 64 70 55 105 15 140 100 176 89M0 92 35 42 70 49 105 21 140 79 176 94M0 71 35 66 70 27 105 38 140 113 176 62"/>
<path class="k2" d="M0 72 35 83 70 34 105 18 140 76 176 94M0 87 35 87 70 96 105 38 140 34 176 35M0 72 35 25 70 32 105 58 140 92 176 98"/>
<path class="k5" d="M0 112 35 60 70 59 105 20 140 72 176 54M0 70 35 40 70 44 105 32 140 82 176 110M0 88 35 42 70 37 105 67 140 36 176 108M0 87 35 83 70 23 105 27 140 85 176 72"/>
<path class="k0" d="M0 84 35 84 70 27 105 25 140 91 176 65M0 11 35 86 70 43 105 77 140 73 176 87M0 110 35 53 70 27 105 53 140 87 176 48"/>
<path class="k3" d="M0 80 35 94 70 31 105 20 140 82 176 70M0 28 35 94 70 49 105 47 140 105 176 53M0 61 35 87 70 47 105 13 140 77 176 93M0 72 35 95 70 46 105 29 140 37 176 98"/>
<path class="k1" d="M0 98 35 62 70 44 105 24 140 51 176 98M0 103 35 55 70 27 105 37 140 63 176 92M0 74 35 65 70 9 105 52 140 82 176 95"/>
<path class="k6" d="M0 108 35 66 70 84 105 30 140 34 176 55M0 83 35 38 70 16 105 68 140 80 176 93M0 35 35 48 70 30 105 75 140 85 176 105"/>
<path class="k4" d="M0 99 35 69 70 17 105 45 140 59 176 89M0 52 35 30 70 35 105 90 140 67 176 105M0 79 35 94 70 96 105 31 140 43 176 36"/>
<path class="k3" d="M0 68 35 50 70 26 105 45 140 76 176 112M0 38 35 94 70 52 105 21 140 82 176 89M0 82 35 79 70 46 105 13 140 61 176 97"/>
<path class="k6" d="M0 103 35 63 70 71 105 45 140 80 176 16M0 67 35 54 70 110 105 80 140 26 176 40M0 111 35 56 70 53 105 19 140 70 176 69M0 23 35 40 70 51 105 85 140 102 176 76"/>
<path class="k5" d="M0 112 35 29 70 41 105 53 140 82 176 61M0 59 35 100 70 74 105 46 140 83 176 15M0 100 35 54 70 30 105 30 140 91 176 73"/>
<path class="k0" d="M0 60 35 79 70 45 105 43 140 35 176 115M0 29 35 88 70 91 105 87 140 27 176 55M0 21 35 43 70 79 105 109 140 63 176 63M0 74 35 57 70 20 105 40 140 99 176 88"/>
<path class="k1" d="M0 80 35 84 70 37 105 14 140 76 176 86M0 93 35 53 70 35 105 27 140 68 176 101M0 45 35 20 70 60 105 61 140 89 176 103M0 94 35 94 70 79 105 46 140 22 176 43"/>
<path class="k2" d="M0 28 35 44 70 37 105 86 140 98 176 85M0 91 35 61 70 26 105 29 140 78 176 93M0 53 35 118 70 45 105 67 140 64 176 31"/>
<path class="k6" d="M0 54 35 65 70 21 105 81 140 109 176 48M0 105 35 87 70 35 105 71 140 52 176 28M0 106 35 70 70 33 105 25 140 66 176 77"/>
<path class="k5" d="M0 99 35 77 70 15 105 42 140 64 176 80M0 55 35 87 70 23 105 35 140 82 176 96M0 94 35 83 70 76 105 74 140 23 176 28"/>
<path class="k0" d="M0 92 35 76 70 13 105 41 140 84 176 71M0 103 35 61 70 17 105 55 140 53 176 88M0 107 35 87 70 29 105 37 140 67 176 50"/>
<path class="k1" d="M0 90 35 59 70 30 105 40 140 52 176 107M0 77 35 81 70 29 105 35 140 50 176 105M0 55 35 45 70 53 105 81 140 113 176 29"/>
<path class="k2" d="M0 109 35 26 70 54 105 46 140 56 176 87M0 72 35 52 70 16 105 49 140 94 176 94M0 106 35 48 70 38 105 77 140 81 176 27M0 33 35 35 70 52 105 95 140 58 176 104"/>
<path class="k4" d="M0 55 35 67 70 36 105 30 140 78 176 112M0 68 35 115 70 74 105 41 140 48 176 32M0 69 35 44 70 50 105 28 140 73 176 114M0 11 35 48 70 67 105 91 140 90 176 70"/>
<path class="k3" d="M0 57 35 52 70 20 105 60 140 79 176 110M0 48 35 59 70 57 105 52 140 39 176 122M0 100 35 71 70 29 105 25 140 70 176 83M0 58 35 79 70 53 105 10 140 87 176 90"/>
<path class="k0" d="M0 103 35 52 70 96 105 29 140 42 176 55M0 90 35 53 70 10 105 65 140 65 176 93M0 62 35 59 70 16 105 109 140 73 176 59M0 99 35 45 70 52 105 23 140 97 176 62"/>
<path class="k6" d="M0 85 35 104 70 30 105 32 140 52 176 75M0 77 35 76 70 74 105 32 140 21 176 98M0 95 35 68 70 91 105 44 140 15 176 65M0 92 35 71 70 16 105 38 140 89 176 72"/>
<path class="k5" d="M0 96 35 39 70 48 105 48 140 41 176 106M0 65 35 26 70 35 105 58 140 93 176 100M0 101 35 36 70 30 105 46 140 72 176 93M0 35 35 41 70 37 105 93 140 103 176 69"/>
<path class="k2" d="M0 96 35 62 70 36 105 19 140 77 176 87M0 102 35 73 70 82 105 49 140 15 176 58M0 60 35 100 70 13 105 60 140 58 176 87"/>
<path class="k4" d="M0 80 35 97 70 57 105 56 140 77 176 11M0 53 35 72 70 118 105 35 140 40 176 61M0 81 35 65 70 68 105 7 140 62 176 94"/>
<path class="k3" d="M0 88 35 65 70 105 105 21 140 47 176 51M0 112 35 75 70 25 105 40 140 63 176 62M0 81 35 66 70 13 105 43 140 94 176 80"/>
<path class="k1" d="M0 106 35 74 70 85 105 35 140 37 176 40M0 99 35 41 70 59 105 18 140 79 176 82M0 114 35 54 70 54 105 23 140 60 176 72"/>
</g>
<rect class="bx" x="419.4" y="547.9" width="87.8" height="62.9"/>
<g style="stroke-width:2.7" transform="translate(189,635.5) scale(.5)">
<path class="k6" d="M0 93 35 9 71 52 106 65 141 84 176 74M0 80 35 66 71 36 106 24 141 64 176 107M0 99 35 59 71 27 106 31 141 93 176 68"/>
<path class="k1" d="M0 89 35 86 71 83 106 49 141 11 176 59M0 64 35 72 71 114 106 56 141 45 176 26M0 58 35 27 71 34 106 64 141 99 176 95M0 51 35 44 71 72 106 91 141 21 176 99"/>
<path class="k0" d="M0 119 35 60 71 64 106 32 141 60 176 43M0 106 35 66 71 81 106 66 141 26 176 32M0 91 35 105 71 67 106 39 141 32 176 44M0 102 35 78 71 41 106 53 141 21 176 82"/>
<path class="k4" d="M0 45 35 30 71 36 106 103 141 87 176 77M0 44 35 31 71 57 106 67 141 118 176 61M0 23 35 38 71 54 106 78 141 103 176 82"/>
<path class="k3" d="M0 89 35 44 71 102 106 72 141 47 176 24M0 79 35 84 71 84 106 40 141 12 176 79M0 50 35 58 71 14 106 92 141 68 176 95"/>
<path class="k5" d="M0 86 35 77 71 89 106 11 141 43 176 72M0 88 35 101 71 73 106 51 141 43 176 21M0 66 35 111 71 84 106 38 141 44 176 35"/>
<path class="k2" d="M0 91 35 88 71 80 106 13 141 60 176 45M0 77 35 90 71 92 106 66 141 33 176 20M0 58 35 9 71 65 106 88 141 94 176 63M0 78 35 85 71 79 106 66 141 65 176 4"/>
<path class="k5" d="M0 29 35 55 71 41 106 56 141 87 176 110M0 76 35 72 71 76 106 49 141 10 176 95M0 102 35 88 71 78 106 41 141 33 176 35M0 93 35 84 71 89 106 51 141 39 176 21"/>
<path class="k4" d="M0 61 35 14 71 89 106 44 141 81 176 89M0 55 35 58 71 10 106 89 141 91 176 74M0 88 35 103 71 70 106 51 141 43 176 22M0 106 35 77 71 80 106 40 141 26 176 49"/>
<path class="k6" d="M0 93 35 80 71 35 106 19 141 63 176 88M0 82 35 62 71 11 106 48 141 82 176 92M0 64 35 42 71 36 106 108 141 89 176 39"/>
<path class="k2" d="M0 62 35 120 71 48 106 36 141 64 176 47M0 33 35 103 71 37 106 40 141 86 176 79M0 101 35 31 71 55 106 70 141 29 176 91"/>
<path class="k1" d="M0 96 35 46 71 11 106 77 141 72 176 74M0 43 35 40 71 26 106 94 141 91 176 84M0 102 35 92 71 50 106 56 141 58 176 20"/>
<path class="k3" d="M0 84 35 76 71 102 106 50 141 22 176 42M0 97 35 77 71 90 106 52 141 39 176 22M0 34 35 53 71 41 106 48 141 99 176 102M0 38 35 112 71 75 106 32 141 48 176 72"/>
<path class="k0" d="M0 110 35 67 71 72 106 20 141 46 176 62M0 83 35 88 71 98 106 33 141 43 176 33M0 79 35 79 71 106 106 51 141 32 176 31"/>
<path class="k1" d="M0 83 35 61 71 108 106 63 141 35 176 27M0 106 35 57 71 33 106 29 141 66 176 86M0 88 35 81 71 77 106 67 141 57 176 6M0 109 35 80 71 63 106 20 141 47 176 58"/>
<path class="k5" d="M0 110 35 76 71 75 106 48 141 39 176 29M0 100 35 70 71 74 106 70 141 10 176 53M0 104 35 89 71 65 106 44 141 55 176 22"/>
<path class="k2" d="M0 109 35 85 71 36 106 31 141 56 176 60M0 80 35 107 71 64 106 46 141 19 176 61M0 67 35 90 71 89 106 46 141 12 176 74"/>
<path class="k3" d="M0 25 35 33 71 99 106 92 141 70 176 58M0 62 35 86 71 108 106 30 141 56 176 35M0 98 35 91 71 18 106 43 141 59 176 67"/>
<path class="k6" d="M0 75 35 32 71 18 106 81 141 81 176 90M0 82 35 25 71 95 106 61 141 30 176 86M0 59 35 91 71 44 106 94 141 16 176 73M0 97 35 77 71 94 106 33 141 45 176 32"/>
<path class="k4" d="M0 83 35 86 71 39 106 28 141 99 176 43M0 101 35 92 71 61 106 19 141 53 176 51M0 72 35 99 71 94 106 45 141 31 176 36"/>
<path class="k0" d="M0 107 35 69 71 51 106 34 141 86 176 30M0 86 35 85 71 84 106 52 141 9 176 61M0 84 35 99 71 83 106 49 141 39 176 24M0 55 35 28 71 29 106 95 141 89 176 81"/>
<path class="k3" d="M0 70 35 97 71 83 106 62 141 11 176 53M0 35 35 68 71 24 106 69 141 109 176 72M0 45 35 72 71 32 106 114 141 73 176 42M0 64 35 76 71 44 106 13 141 86 176 93"/>
<path class="k0" d="M0 103 35 83 71 70 106 66 141 28 176 28M0 99 35 59 71 68 106 78 141 9 176 65M0 73 35 105 71 77 106 38 141 63 176 21"/>
<path class="k1" d="M0 83 35 72 71 105 106 27 141 32 176 59M0 114 35 70 71 33 106 47 141 75 176 39M0 68 35 68 71 20 106 36 141 100 176 85"/>
<path class="k2" d="M0 114 35 45 71 79 106 60 141 51 176 29M0 46 35 42 71 83 106 24 141 81 176 102M0 65 35 57 71 40 106 99 141 94 176 22M0 57 35 106 71 93 106 48 141 42 176 31"/>
<path class="k6" d="M0 100 35 77 71 39 106 26 141 46 176 89M0 74 35 78 71 95 106 74 141 44 176 12M0 95 35 74 71 18 106 42 141 57 176 92"/>
<path class="k4" d="M0 94 35 58 71 105 106 49 141 31 176 40M0 68 35 91 71 89 106 78 141 32 176 20M0 93 35 57 71 31 106 27 141 74 176 96M0 44 35 34 71 31 106 96 141 80 176 93"/>
<path class="k5" d="M0 58 35 52 71 44 106 113 141 81 176 29M0 40 35 42 71 88 106 108 141 66 176 34M0 52 35 100 71 103 106 43 141 39 176 41"/>
<path class="k2" d="M0 91 35 100 71 77 106 31 141 44 176 35M0 83 35 103 71 79 106 44 141 24 176 45M0 89 35 77 71 80 106 48 141 9 176 74"/>
<path class="k0" d="M0 82 35 76 71 103 106 59 141 25 176 33M0 100 35 90 71 48 106 77 141 32 176 32M0 14 35 55 71 64 106 86 141 101 176 57M0 75 35 80 71 60 106 67 141 89 176 5"/>
<path class="k1" d="M0 84 35 77 71 73 106 3 141 75 176 66M0 71 35 104 71 88 106 25 141 46 176 43M0 105 35 46 71 72 106 57 141 18 176 80"/>
<path class="k5" d="M0 59 35 50 71 63 106 18 141 82 176 106M0 61 35 88 71 95 106 10 141 63 176 61M0 94 35 94 71 78 106 36 141 25 176 50M0 84 35 46 71 32 106 31 141 87 176 98"/>
<path class="k3" d="M0 74 35 57 71 106 106 41 141 78 176 21M0 89 35 72 71 103 106 33 141 29 176 51M0 80 35 99 71 89 106 47 141 28 176 35"/>
<path class="k6" d="M0 98 35 97 71 44 106 31 141 37 176 70M0 93 35 67 71 92 106 45 141 14 176 67M0 103 35 83 71 17 106 47 141 56 176 71M0 83 35 98 71 88 106 40 141 36 176 32"/>
<path class="k4" d="M0 74 35 104 71 68 106 58 141 62 176 12M0 84 35 100 71 79 106 58 141 29 176 27M0 112 35 53 71 75 106 21 141 58 176 58"/>
</g>
<rect class="bx" x="189" y="635.5" width="88.2" height="62.9"/>
<g style="stroke-width:2.7" transform="translate(304.5,635.5) scale(.5)">
<path class="k0" d="M0 81 35 34 69 53 104 25 139 93 173 92M0 10 35 63 69 51 104 95 139 76 173 83M0 16 35 49 69 58 104 87 139 66 173 101M0 41 35 48 69 44 104 88 139 44 173 112"/>
<path class="k1" d="M0 91 35 86 69 36 104 90 139 51 173 24M0 49 35 33 69 59 104 81 139 40 173 114M0 19 35 63 69 38 104 74 139 84 173 100M0 34 35 29 69 61 104 68 139 111 173 75"/>
<path class="k4" d="M0 30 35 61 69 45 104 45 139 110 173 87M0 41 35 55 69 24 104 79 139 109 173 69M0 17 35 48 69 55 104 70 139 103 173 84"/>
<path class="k2" d="M0 92 35 97 69 76 104 46 139 47 173 21M0 81 35 92 69 88 104 40 139 61 173 16M0 53 35 53 69 19 104 108 139 62 173 83M0 65 35 27 69 37 104 102 139 93 173 54"/>
<path class="k3" d="M0 101 35 91 69 57 104 68 139 40 173 22M0 74 35 108 69 20 104 70 139 64 173 41M0 79 35 66 69 111 104 34 139 57 173 30"/>
<path class="k6" d="M0 43 35 31 69 41 104 98 139 65 173 100M0 78 35 30 69 32 104 54 139 107 173 76M0 97 35 66 69 88 104 72 139 32 173 22"/>
<path class="k5" d="M0 73 35 41 69 70 104 69 139 19 173 106M0 29 35 23 69 71 104 87 139 74 173 94M0 65 35 80 69 12 104 54 139 65 173 102"/>
<path class="k3" d="M0 14 35 49 69 54 104 95 139 87 173 79M0 39 35 29 69 45 104 106 139 73 173 85M0 52 35 86 69 57 104 105 139 58 173 18M0 62 35 86 69 10 104 50 139 85 173 85"/>
<path class="k2" d="M0 22 35 39 69 50 104 94 139 88 173 85M0 39 35 54 69 42 104 67 139 55 173 121M0 34 35 28 69 55 104 70 139 82 173 107"/>
<path class="k5" d="M0 71 35 90 69 99 104 29 139 28 173 61M0 57 35 10 69 54 104 88 139 82 173 87M0 62 35 50 69 23 104 49 139 109 173 84M0 48 35 27 69 51 104 81 139 58 173 113"/>
<path class="k4" d="M0 29 35 46 69 33 104 82 139 92 173 95M0 54 35 29 69 50 104 111 139 47 173 87M0 100 35 86 69 24 104 44 139 79 173 44M0 32 35 56 69 31 104 70 139 109 173 79"/>
<path class="k6" d="M0 28 35 68 69 48 104 65 139 52 173 117M0 68 35 31 69 30 104 56 139 90 173 102M0 37 35 20 69 59 104 99 139 80 173 82"/>
<path class="k0" d="M0 60 35 23 69 32 104 81 139 92 173 90M0 42 35 18 69 87 104 75 139 99 173 56M0 63 35 41 69 28 104 57 139 74 173 114"/>
<path class="k1" d="M0 42 35 43 69 29 104 103 139 91 173 69M0 72 35 75 69 109 104 34 139 27 173 61M0 38 35 31 69 42 104 89 139 103 173 74"/>
<path class="k5" d="M0 60 35 24 69 35 104 71 139 85 173 103M0 97 35 48 69 33 104 46 139 48 173 105M0 56 35 29 69 56 104 46 139 74 173 116"/>
<path class="k0" d="M0 20 35 47 69 58 104 60 139 106 173 87M0 22 35 46 69 65 104 93 139 50 173 102M0 94 35 78 69 72 104 61 139 66 173 6M0 76 35 73 69 104 104 56 139 13 173 55"/>
<path class="k2" d="M0 19 35 87 69 39 104 86 139 92 173 54M0 105 35 93 69 58 104 29 139 45 173 47M0 81 35 103 69 75 104 44 139 57 173 18"/>
<path class="k6" d="M0 113 35 55 69 78 104 37 139 62 173 32M0 23 35 56 69 43 104 69 139 76 173 110M0 23 35 34 69 85 104 98 139 56 173 80M0 38 35 96 69 16 104 80 139 70 173 77"/>
<path class="k1" d="M0 52 35 49 69 14 104 91 139 83 173 89M0 105 35 77 69 44 104 17 139 71 173 63M0 30 35 47 69 36 104 106 139 87 173 71M0 85 35 42 69 52 104 90 139 89 173 18"/>
<path class="k4" d="M0 54 35 44 69 22 104 109 139 73 173 75M0 31 35 30 69 47 104 91 139 91 173 87M0 76 35 43 69 22 104 69 139 109 173 58"/>
<path class="k3" d="M0 39 35 42 69 40 104 103 139 54 173 99M0 40 35 42 69 32 104 90 139 106 173 66M0 49 35 55 69 115 104 78 139 49 173 30"/>
<path class="k0" d="M0 53 35 58 69 22 104 54 139 79 173 111M0 89 35 97 69 81 104 46 139 24 173 40M0 29 35 50 69 101 104 34 139 71 173 92"/>
<path class="k1" d="M0 58 35 69 69 56 104 87 139 96 173 11M0 76 35 31 69 27 104 60 139 77 173 106M0 106 35 28 69 81 104 75 139 54 173 34"/>
<path class="k3" d="M0 23 35 41 69 46 104 96 139 90 173 81M0 76 35 26 69 94 104 96 139 46 173 39M0 99 35 59 69 43 104 17 139 74 173 85M0 16 35 60 69 43 104 99 139 76 173 83"/>
<path class="k4" d="M0 57 35 18 69 41 104 80 139 99 173 83M0 58 35 107 69 90 104 33 139 57 173 33M0 51 35 10 69 72 104 65 139 91 173 88M0 107 35 71 69 44 104 19 139 60 173 76"/>
<path class="k6" d="M0 32 35 91 69 53 104 75 139 99 173 28M0 50 35 53 69 19 104 74 139 108 173 73M0 22 35 50 69 51 104 84 139 108 173 64"/>
<path class="k2" d="M0 26 35 48 69 48 104 56 139 101 173 97M0 34 35 17 69 73 104 79 139 88 173 87M0 97 35 71 69 14 104 43 139 70 173 82M0 22 35 50 69 38 104 91 139 92 173 83"/>
<path class="k5" d="M0 52 35 68 69 25 104 42 139 82 173 109M0 68 35 20 69 35 104 82 139 101 173 72M0 66 35 28 69 68 104 102 139 29 173 85"/>
<path class="k3" d="M0 67 35 43 69 35 104 36 139 101 173 96M0 77 35 102 69 78 104 41 139 18 173 61M0 24 35 58 69 42 104 101 139 58 173 95"/>
<path class="k5" d="M0 108 35 66 69 34 104 25 139 68 173 76M0 60 35 85 69 104 104 66 139 44 173 19M0 106 35 75 69 45 104 67 139 17 173 67M0 10 35 62 69 98 104 73 139 55 173 79"/>
<path class="k1" d="M0 19 35 53 69 73 104 80 139 105 173 47M0 34 35 89 69 52 104 25 139 86 173 92M0 91 35 91 69 66 104 38 139 75 173 17"/>
<path class="k0" d="M0 44 35 35 69 39 104 60 139 98 173 102M0 65 35 8 69 70 104 98 139 59 173 76M0 34 35 41 69 37 104 92 139 102 173 71M0 73 35 5 69 57 104 84 139 81 173 78"/>
<path class="k2" d="M0 47 35 25 69 38 104 88 139 83 173 96M0 64 35 51 69 61 104 24 139 62 173 116M0 102 35 76 69 87 104 47 139 23 173 43"/>
<path class="k4" d="M0 96 35 49 69 19 104 45 139 77 173 90M0 47 35 38 69 67 104 57 139 121 173 48M0 59 35 85 69 42 104 17 139 97 173 77"/>
<path class="k6" d="M0 32 35 50 69 29 104 81 139 102 173 83M0 38 35 29 69 47 104 72 139 108 173 83M0 24 35 73 69 26 104 81 139 89 173 84M0 99 35 70 69 46 104 23 139 45 173 94"/>
</g>
<rect class="bx" x="304.5" y="635.5" width="86.7" height="62.9"/>
<g style="stroke-width:2.7" transform="translate(419.4,635.5) scale(.5)">
<path class="k0" d="M0 41 35 38 70 87 105 31 140 78 176 102M0 46 35 50 70 114 105 38 140 85 176 44M0 93 35 56 70 7 105 71 140 70 176 81M0 119 35 64 70 33 105 42 140 55 176 64"/>
<path class="k2" d="M0 76 35 11 70 67 105 95 140 47 176 82M0 63 35 79 70 21 105 34 140 96 176 85M0 78 35 80 70 94 105 19 140 74 176 32M0 113 35 79 70 67 105 44 140 31 176 44"/>
<path class="k4" d="M0 57 35 59 70 50 105 21 140 82 176 109M0 104 35 66 70 11 105 75 140 62 176 59M0 54 35 72 70 52 105 14 140 96 176 90"/>
<path class="k5" d="M0 73 35 61 70 30 105 26 140 85 176 101M0 35 35 82 70 19 105 61 140 89 176 91M0 103 35 73 70 21 105 36 140 80 176 64"/>
<path class="k1" d="M0 103 35 55 70 42 105 79 140 20 176 78M0 57 35 62 70 86 105 83 140 7 176 83M0 94 35 35 70 44 105 31 140 77 176 97M0 50 35 68 70 38 105 61 140 41 176 119"/>
<path class="k6" d="M0 83 35 83 70 94 105 23 140 29 176 65M0 33 35 44 70 43 105 92 140 107 176 59M0 85 35 100 70 36 105 25 140 50 176 81"/>
<path class="k3" d="M0 63 35 76 70 91 105 5 140 65 176 77M0 78 35 61 70 44 105 16 140 78 176 101M0 10 35 60 70 51 105 80 140 88 176 88"/>
<path class="k1" d="M0 51 35 102 70 17 105 68 140 53 176 87M0 87 35 95 70 79 105 20 140 61 176 35M0 41 35 31 70 41 105 75 140 80 176 109"/>
<path class="k4" d="M0 54 35 64 70 31 105 33 140 102 176 94M0 27 35 74 70 36 105 77 140 56 176 109M0 88 35 96 70 40 105 16 140 73 176 64M0 41 35 73 70 68 105 65 140 109 176 21"/>
<path class="k0" d="M0 42 35 16 70 60 105 82 140 83 176 96M0 113 35 73 70 30 105 44 140 73 176 44M0 47 35 39 70 62 105 90 140 33 176 107"/>
<path class="k2" d="M0 70 35 109 70 15 105 56 140 64 176 63M0 27 35 106 70 54 105 80 140 35 176 76M0 112 35 63 70 23 105 44 140 60 176 76"/>
<path class="k5" d="M0 67 35 119 70 62 105 43 140 50 176 36M0 15 35 48 70 100 105 61 140 87 176 67M0 91 35 58 70 66 105 17 140 46 176 99M0 79 35 77 70 70 105 8 140 51 176 92"/>
<path class="k3" d="M0 75 35 85 70 22 105 31 140 66 176 98M0 102 35 24 70 53 105 74 140 87 176 37M0 78 35 53 70 42 105 30 140 61 176 114M0 103 35 83 70 69 105 45 140 60 176 17"/>
<path class="k6" d="M0 84 35 71 70 44 105 14 140 67 176 97M0 90 35 96 70 22 105 32 140 72 176 64M0 54 35 29 70 50 105 45 140 104 176 95"/>
<path class="k2" d="M0 54 35 78 70 115 105 54 140 28 176 49M0 94 35 76 70 21 105 32 140 67 176 88M0 92 35 45 70 49 105 20 140 96 176 76"/>
<path class="k1" d="M0 81 35 92 70 19 105 58 140 38 176 90M0 92 35 75 70 33 105 20 140 68 176 90M0 79 35 97 70 26 105 30 140 59 176 87M0 54 35 17 70 45 105 92 140 95 176 74"/>
<path class="k3" d="M0 76 35 73 70 11 105 46 140 79 176 94M0 97 35 53 70 42 105 21 140 69 176 95M0 104 35 25 70 37 105 59 140 62 176 90"/>
<path class="k4" d="M0 32 35 29 70 49 105 97 140 88 176 83M0 61 35 79 70 10 105 52 140 95 176 80M0 100 35 63 70 26 105 92 140 33 176 62"/>
<path class="k0" d="M0 94 35 56 70 32 105 26 140 77 176 93M0 45 35 69 70 12 105 91 140 72 176 88M0 58 35 83 70 37 105 35 140 51 176 113M0 84 35 76 70 61 105 25 140 31 176 100"/>
<path class="k6" d="M0 16 35 63 70 78 105 45 140 72 176 103M0 85 35 46 70 58 105 18 140 103 176 67M0 91 35 92 70 31 105 27 140 54 176 82M0 62 35 106 70 31 105 38 140 49 176 92"/>
<path class="k5" d="M0 88 35 57 70 10 105 54 140 80 176 87M0 71 35 103 70 60 105 38 140 22 176 84M0 97 35 27 70 81 105 26 140 67 176 81"/>
<path class="k6" d="M0 64 35 104 70 61 105 84 140 17 176 48M0 55 35 28 70 52 105 76 140 51 176 115M0 59 35 52 70 39 105 34 140 79 176 115"/>
<path class="k1" d="M0 79 35 108 70 53 105 18 140 61 176 58M0 79 35 75 70 20 105 32 140 74 176 97M0 102 35 58 70 46 105 93 140 57 176 21"/>
<path class="k3" d="M0 107 35 68 70 39 105 22 140 64 176 78M0 59 35 88 70 7 105 66 140 89 176 68M0 75 35 65 70 3 105 80 140 85 176 70M0 112 35 41 70 62 105 34 140 45 176 84"/>
<path class="k2" d="M0 99 35 80 70 73 105 32 140 73 176 21M0 84 35 77 70 38 105 23 140 53 176 102M0 21 35 30 70 74 105 87 140 75 176 90M0 37 35 35 70 41 105 103 140 94 176 67"/>
<path class="k4" d="M0 88 35 22 70 84 105 73 140 84 176 27M0 101 35 79 70 35 105 20 140 68 176 75M0 103 35 61 70 21 105 38 140 74 176 81M0 106 35 73 70 32 105 25 140 70 176 72"/>
<path class="k0" d="M0 49 35 60 70 73 105 108 140 69 176 17M0 90 35 70 70 27 105 51 140 103 176 37M0 73 35 71 70 43 105 13 140 88 176 91"/>
<path class="k5" d="M0 96 35 78 70 27 105 24 140 72 176 81M0 70 35 80 70 31 105 24 140 70 176 102M0 48 35 91 70 93 105 51 140 77 176 16"/>
<path class="k1" d="M0 88 35 50 70 46 105 17 140 91 176 85M0 83 35 85 70 98 105 53 140 23 176 36M0 68 35 89 70 99 105 19 140 63 176 40"/>
<path class="k0" d="M0 72 35 74 70 36 105 17 140 88 176 91M0 74 35 86 70 37 105 46 140 29 176 105M0 59 35 28 70 87 105 103 140 69 176 31M0 82 35 112 70 53 105 30 140 62 176 39"/>
<path class="k4" d="M0 110 35 69 70 25 105 48 140 46 176 80M0 102 35 78 70 35 105 22 140 61 176 80M0 80 35 74 70 40 105 21 140 105 176 58"/>
<path class="k2" d="M0 39 35 56 70 38 105 110 140 45 176 89M0 86 35 71 70 92 105 74 140 41 176 14M0 90 35 59 70 42 105 16 140 94 176 76"/>
<path class="k6" d="M0 113 35 73 70 25 105 45 140 56 176 66M0 27 35 79 70 43 105 103 140 42 176 84M0 93 35 59 70 44 105 15 140 81 176 86M0 78 35 40 70 54 105 20 140 87 176 98"/>
<path class="k3" d="M0 72 35 53 70 49 105 34 140 51 176 119M0 77 35 74 70 61 105 98 140 58 176 9M0 85 35 60 70 27 105 27 140 94 176 84"/>
<path class="k5" d="M0 59 35 29 70 44 105 47 140 93 176 106M0 98 35 64 70 23 105 50 140 45 176 98M0 65 35 84 70 40 105 33 140 45 176 111M0 111 35 57 70 18 105 56 140 72 176 63"/>
</g>
<rect class="bx" x="419.4" y="635.5" width="87.8" height="62.9"/>
<g style="stroke-width:2.7" transform="translate(189,721.9) scale(.5)">
<path class="k0" d="M0 31 35 48 71 36 106 107 141 67 176 87M0 84 35 95 71 43 106 35 141 90 176 30M0 102 35 94 71 55 106 51 141 21 176 54M0 103 35 59 71 59 106 93 141 32 176 32"/>
<path class="k5" d="M0 106 35 68 71 89 106 40 141 40 176 34M0 76 35 69 71 100 106 9 141 66 176 59M0 82 35 86 71 76 106 46 141 9 176 79"/>
<path class="k1" d="M0 105 35 91 71 60 106 38 141 29 176 55M0 15 35 41 71 91 106 90 141 62 176 78M0 89 35 69 71 103 106 42 141 52 176 23M0 38 35 45 71 48 106 51 141 80 176 117"/>
<path class="k2" d="M0 78 35 53 71 75 106 6 141 87 176 79M0 103 35 85 71 49 106 33 141 30 176 77M0 71 35 68 71 109 106 22 141 40 176 66M0 80 35 71 71 28 106 103 141 69 176 27"/>
<path class="k3" d="M0 83 35 77 71 93 106 62 141 52 176 10M0 85 35 92 71 50 106 12 141 58 176 82M0 44 35 93 71 27 106 105 141 49 176 59"/>
<path class="k6" d="M0 85 35 82 71 52 106 14 141 50 176 94M0 14 35 45 71 60 106 93 141 76 176 89M0 52 35 24 71 49 106 113 141 65 176 74"/>
<path class="k4" d="M0 91 35 87 71 50 106 19 141 43 176 87M0 57 35 76 71 114 106 52 141 25 176 54M0 99 35 81 71 84 106 55 141 28 176 30"/>
<path class="k6" d="M0 75 35 105 71 83 106 25 141 42 176 47M0 46 35 85 71 112 106 60 141 36 176 38M0 99 35 57 71 88 106 51 141 69 176 14"/>
<path class="k0" d="M0 85 35 90 71 92 106 49 141 22 176 40M0 55 35 95 71 23 106 101 141 58 176 45M0 64 35 24 71 40 106 56 141 104 176 90"/>
<path class="k4" d="M0 84 35 77 71 64 106 82 141 66 176 4M0 49 35 25 71 40 106 105 141 84 176 74M0 75 35 115 71 63 106 30 141 42 176 52M0 58 35 104 71 83 106 17 141 47 176 69"/>
<path class="k3" d="M0 97 35 89 71 53 106 76 141 18 176 44M0 90 35 93 71 84 106 31 141 27 176 52M0 85 35 95 71 83 106 58 141 18 176 39M0 80 35 70 71 107 106 50 141 50 176 20"/>
<path class="k2" d="M0 48 35 112 71 28 106 66 141 80 176 45M0 101 35 97 71 55 106 56 141 37 176 30M0 62 35 63 71 68 106 23 141 114 176 48"/>
<path class="k1" d="M0 100 35 51 71 102 106 41 141 37 176 47M0 93 35 88 71 89 106 30 141 32 176 46M0 80 35 63 71 97 106 55 141 9 176 72"/>
<path class="k5" d="M0 100 35 69 71 54 106 83 141 60 176 12M0 23 35 59 71 34 106 72 141 94 176 95M0 71 35 73 71 59 106 5 141 82 176 87M0 74 35 99 71 93 106 25 141 43 176 44"/>
<path class="k4" d="M0 69 35 69 71 108 106 34 141 74 176 25M0 103 35 93 71 62 106 44 141 53 176 23M0 20 35 110 71 70 106 49 141 54 176 75"/>
<path class="k1" d="M0 104 35 64 71 24 106 34 141 83 176 68M0 107 35 78 71 78 106 34 141 50 176 30M0 100 35 20 71 37 106 61 141 80 176 80M0 94 35 82 71 66 106 71 141 8 176 57"/>
<path class="k3" d="M0 106 35 59 71 82 106 60 141 55 176 16M0 79 35 45 71 20 106 67 141 59 176 108M0 75 35 74 71 108 106 28 141 33 176 59"/>
<path class="k6" d="M0 92 35 94 71 81 106 52 141 29 176 30M0 105 35 57 71 89 106 22 141 59 176 46M0 68 35 92 71 86 106 65 141 7 176 59M0 75 35 94 71 69 106 41 141 14 176 85"/>
<path class="k5" d="M0 98 35 84 71 87 106 40 141 41 176 28M0 41 35 83 71 85 106 43 141 26 176 100M0 47 35 53 71 95 106 42 141 106 176 33"/>
<path class="k2" d="M0 62 35 94 71 23 106 32 141 91 176 76M0 77 35 16 71 68 106 64 141 46 176 106M0 50 35 56 71 16 106 80 141 105 176 70"/>
<path class="k0" d="M0 53 35 111 71 86 106 46 141 29 176 52M0 17 35 53 71 93 106 53 141 62 176 99M0 110 35 55 71 38 106 27 141 75 176 72M0 59 35 49 71 121 106 56 141 35 176 56"/>
<path class="k0" d="M0 22 35 60 71 59 106 95 141 99 176 41M0 98 35 88 71 79 106 53 141 32 176 27M0 121 35 61 71 64 106 46 141 37 176 48"/>
<path class="k4" d="M0 106 35 90 71 37 106 46 141 33 176 66M0 2 35 77 71 70 106 80 141 70 176 79M0 84 35 80 71 100 106 40 141 50 176 22M0 71 35 85 71 92 106 42 141 13 176 74"/>
<path class="k1" d="M0 101 35 45 71 55 106 58 141 23 176 95M0 82 35 99 71 85 106 45 141 21 176 45M0 53 35 95 71 96 106 72 141 23 176 38"/>
<path class="k5" d="M0 47 35 116 71 72 106 43 141 68 176 32M0 104 35 77 71 77 106 54 141 49 176 17M0 46 35 45 71 76 106 79 141 25 176 107"/>
<path class="k3" d="M0 90 35 100 71 60 106 38 141 21 176 68M0 87 35 102 71 77 106 42 141 42 176 27M0 103 35 73 71 15 106 44 141 73 176 69M0 63 35 100 71 92 106 54 141 50 176 18"/>
<path class="k6" d="M0 81 35 88 71 83 106 57 141 7 176 61M0 65 35 88 71 102 106 45 141 18 176 59M0 105 35 80 71 77 106 54 141 31 176 30"/>
<path class="k2" d="M0 62 35 74 71 94 106 82 141 8 176 57M0 84 35 87 71 65 106 5 141 63 176 73M0 80 35 71 71 103 106 22 141 68 176 34M0 75 35 87 71 74 106 13 141 41 176 88"/>
<path class="k1" d="M0 90 35 15 71 69 106 38 141 80 176 85M0 123 35 47 71 60 106 42 141 55 176 51M0 105 35 52 71 61 106 16 141 62 176 83"/>
<path class="k4" d="M0 89 35 101 71 66 106 57 141 17 176 48M0 56 35 113 71 80 106 26 141 48 176 55M0 69 35 104 71 67 106 12 141 72 176 54"/>
<path class="k3" d="M0 87 35 52 71 14 106 51 141 92 176 83M0 112 35 53 71 55 106 67 141 70 176 20M0 94 35 98 71 75 106 36 141 47 176 28"/>
<path class="k0" d="M0 29 35 106 71 45 106 51 141 93 176 53M0 32 35 60 71 33 106 59 141 109 176 84M0 71 35 82 71 13 106 40 141 84 176 87M0 19 35 51 71 47 106 82 141 73 176 105"/>
<path class="k6" d="M0 51 35 85 71 101 106 66 141 60 176 14M0 42 35 64 71 64 106 118 141 31 176 60M0 90 35 94 71 67 106 11 141 57 176 57M0 62 35 91 71 40 106 37 141 39 176 107"/>
<path class="k2" d="M0 63 35 119 71 40 106 35 141 57 176 62M0 70 35 33 71 40 106 45 141 77 176 113M0 119 35 62 71 68 106 39 141 48 176 41"/>
<path class="k5" d="M0 102 35 89 71 73 106 27 141 53 176 34M0 32 35 58 71 55 106 113 141 38 176 81M0 31 35 51 71 106 106 89 141 35 176 65M0 82 35 86 71 91 106 67 141 22 176 29"/>
</g>
<rect class="bx" x="189" y="721.9" width="88.2" height="62.9"/>
<g style="stroke-width:2.7" transform="translate(304.5,721.9) scale(.5)">
<path class="k3" d="M0 31 35 67 69 25 104 71 139 103 173 80M0 84 35 43 69 45 104 86 139 22 173 97M0 44 35 81 69 34 104 35 139 107 173 77"/>
<path class="k5" d="M0 54 35 45 69 26 104 111 139 82 173 59M0 94 35 67 69 55 104 11 139 89 173 61M0 57 35 45 69 121 104 46 139 67 173 42"/>
<path class="k6" d="M0 26 35 39 69 53 104 108 139 80 173 72M0 41 35 26 69 49 104 88 139 105 173 69M0 17 35 64 69 39 104 79 139 81 173 98"/>
<path class="k4" d="M0 90 35 83 69 50 104 22 139 39 173 93M0 33 35 30 69 45 104 95 139 85 173 89M0 35 35 53 69 28 104 80 139 75 173 107"/>
<path class="k1" d="M0 48 35 34 69 36 104 74 139 73 173 112M0 112 35 61 69 49 104 84 139 35 173 37M0 35 35 26 69 58 104 67 139 105 173 86M0 72 35 48 69 19 104 77 139 107 173 53"/>
<path class="k2" d="M0 26 35 48 69 72 104 49 139 114 173 69M0 66 35 36 69 45 104 110 139 35 173 85M0 95 35 78 69 68 104 6 139 69 173 62M0 37 35 35 69 64 104 111 139 85 173 46"/>
<path class="k0" d="M0 64 35 84 69 35 104 29 139 109 173 57M0 93 35 25 69 57 104 31 139 87 173 85M0 83 35 49 69 22 104 41 139 83 173 100M0 29 35 45 69 42 104 77 139 110 173 74"/>
<path class="k4" d="M0 27 35 63 69 39 104 91 139 105 173 53M0 19 35 34 69 69 104 92 139 88 173 75M0 45 35 100 69 71 104 90 139 52 173 19M0 111 35 66 69 51 104 24 139 47 173 79"/>
<path class="k1" d="M0 102 35 75 69 87 104 31 139 30 173 53M0 41 35 24 69 49 104 105 139 85 173 73M0 91 35 101 69 66 104 56 139 20 173 43"/>
<path class="k0" d="M0 103 35 74 69 79 104 57 139 48 173 16M0 44 35 48 69 20 104 96 139 84 173 86M0 41 35 23 69 66 104 82 139 58 173 107"/>
<path class="k3" d="M0 104 35 84 69 77 104 25 139 44 173 43M0 37 35 19 69 66 104 101 139 82 173 73M0 46 35 22 69 52 104 98 139 62 173 97M0 43 35 111 69 60 104 23 139 71 173 70"/>
<path class="k2" d="M0 77 35 98 69 75 104 63 139 56 173 9M0 42 35 44 69 69 104 45 139 58 173 120M0 34 35 40 69 45 104 114 139 69 173 75"/>
<path class="k6" d="M0 86 35 62 69 15 104 46 139 69 173 99M0 40 35 49 69 23 104 93 139 76 173 96M0 71 35 15 69 44 104 103 139 68 173 77"/>
<path class="k5" d="M0 28 35 61 69 27 104 87 139 78 173 96M0 16 35 34 69 80 104 84 139 83 173 81M0 16 35 62 69 43 104 70 139 88 173 98M0 35 35 41 69 31 104 82 139 92 173 95"/>
<path class="k0" d="M0 34 35 30 69 49 104 92 139 72 173 100M0 20 35 81 69 70 104 41 139 105 173 61M0 78 35 31 69 30 104 51 139 88 173 100M0 45 35 51 69 20 104 79 139 77 173 105"/>
<path class="k3" d="M0 55 35 27 69 34 104 71 139 104 173 86M0 52 35 64 69 104 104 37 139 29 173 92M0 63 35 12 69 104 104 59 139 63 173 77"/>
<path class="k4" d="M0 24 35 58 69 40 104 99 139 96 173 61M0 28 35 52 69 111 104 50 139 52 173 85M0 88 35 87 69 93 104 44 139 45 173 21"/>
<path class="k5" d="M0 31 35 66 69 22 104 92 139 76 173 90M0 33 35 80 69 26 104 78 139 104 173 57M0 35 35 22 69 56 104 87 139 88 173 90"/>
<path class="k1" d="M0 114 35 58 69 63 104 45 139 25 173 74M0 51 35 17 69 55 104 68 139 82 173 105M0 80 35 34 69 28 104 106 139 76 173 54M0 121 35 58 69 51 104 35 139 59 173 53"/>
<path class="k2" d="M0 29 35 35 69 60 104 105 139 59 173 89M0 28 35 88 69 33 104 102 139 53 173 73M0 110 35 67 69 78 104 35 139 28 173 59"/>
<path class="k6" d="M0 63 35 20 69 35 104 76 139 92 173 92M0 14 35 65 69 40 104 90 139 82 173 85M0 76 35 21 69 33 104 69 139 99 173 80M0 59 35 57 69 13 104 61 139 98 173 90"/>
<path class="k5" d="M0 91 35 82 69 21 104 34 139 58 173 90M0 77 35 73 69 102 104 15 139 65 173 45M0 81 35 50 69 89 104 43 139 96 173 20"/>
<path class="k3" d="M0 46 35 70 69 98 104 66 139 83 173 13M0 87 35 69 69 49 104 15 139 99 173 59M0 60 35 102 69 93 104 23 139 45 173 53M0 87 35 70 69 60 104 6 139 66 173 88"/>
<path class="k6" d="M0 104 35 75 69 52 104 17 139 79 173 50M0 30 35 74 69 46 104 38 139 107 173 83M0 11 35 78 69 49 104 93 139 63 173 84"/>
<path class="k1" d="M0 92 35 71 69 39 104 103 139 37 173 35M0 29 35 67 69 32 104 69 139 111 173 69M0 96 35 99 69 49 104 39 139 67 173 28"/>
<path class="k4" d="M0 99 35 75 69 87 104 55 139 17 173 46M0 99 35 74 69 16 104 38 139 74 173 77M0 38 35 17 69 90 104 72 139 66 173 94M0 30 35 87 69 35 104 73 139 47 173 105"/>
<path class="k0" d="M0 102 35 71 69 89 104 45 139 49 173 22M0 118 35 64 69 69 104 51 139 35 173 40M0 58 35 108 69 32 104 30 139 82 173 68"/>
<path class="k2" d="M0 32 35 35 69 60 104 73 139 114 173 63M0 58 35 65 69 36 104 27 139 81 173 110M0 109 35 65 69 63 104 36 139 26 173 79M0 44 35 22 69 43 104 87 139 95 173 85"/>
<path class="k5" d="M0 78 35 53 69 25 104 113 139 51 173 58M0 83 35 91 69 77 104 47 139 10 173 70M0 53 35 22 69 56 104 55 139 110 173 82M0 33 35 58 69 45 104 42 139 104 173 96"/>
<path class="k2" d="M0 35 35 40 69 39 104 79 139 110 173 75M0 35 35 119 69 47 104 70 139 56 173 50M0 21 35 39 69 52 104 92 139 85 173 88"/>
<path class="k6" d="M0 78 35 72 69 34 104 24 139 105 173 65M0 48 35 42 69 21 104 78 139 90 173 97M0 55 35 18 69 46 104 101 139 86 173 71M0 41 35 78 69 41 104 29 139 84 173 104"/>
<path class="k1" d="M0 32 35 53 69 48 104 48 139 113 173 84M0 35 35 54 69 53 104 78 139 40 173 116M0 22 35 53 69 44 104 68 139 107 173 83"/>
<path class="k0" d="M0 43 35 34 69 38 104 73 139 77 173 111M0 95 35 90 69 81 104 36 139 52 173 24M0 65 35 22 69 91 104 97 139 68 173 34M0 53 35 64 69 21 104 95 139 44 173 99"/>
<path class="k3" d="M0 60 35 41 69 35 104 43 139 109 173 90M0 10 35 65 69 68 104 59 139 73 173 102M0 80 35 95 69 66 104 7 139 63 173 66"/>
<path class="k4" d="M0 53 35 65 69 15 104 74 139 65 173 107M0 63 35 24 69 60 104 103 139 90 173 38M0 12 35 65 69 60 104 92 139 54 173 94"/>
</g>
<rect class="bx" x="304.5" y="721.9" width="86.7" height="62.9"/>
<g style="stroke-width:2.7" transform="translate(419.4,721.9) scale(.5)">
<path class="k1" d="M0 24 35 40 70 65 105 66 140 72 176 111M0 77 35 76 70 25 105 51 140 41 176 108M0 110 35 59 70 38 105 25 140 76 176 68M0 80 35 105 70 78 105 24 140 49 176 42"/>
<path class="k0" d="M0 60 35 58 70 53 105 99 140 91 176 15M0 97 35 77 70 50 105 16 140 87 176 52M0 70 35 51 70 66 105 13 140 74 176 103M0 70 35 71 70 6 105 58 140 92 176 80"/>
<path class="k6" d="M0 58 35 64 70 29 105 35 140 110 176 82M0 63 35 46 70 17 105 72 140 72 176 107M0 78 35 110 70 32 105 36 140 47 176 74"/>
<path class="k2" d="M0 82 35 71 70 25 105 39 140 54 176 107M0 37 35 114 70 47 105 73 140 70 176 36M0 65 35 89 70 70 105 4 140 72 176 78M0 69 35 64 70 26 105 32 140 81 176 106"/>
<path class="k5" d="M0 79 35 103 70 59 105 47 140 16 176 73M0 60 35 98 70 33 105 102 140 41 176 44M0 98 35 72 70 97 105 42 140 35 176 34"/>
<path class="k3" d="M0 98 35 62 70 33 105 22 140 80 176 83M0 13 35 90 70 44 105 60 140 82 176 88M0 107 35 79 70 41 105 22 140 70 176 58"/>
<path class="k4" d="M0 85 35 92 70 53 105 10 140 60 176 78M0 70 35 48 70 51 105 22 140 77 176 110M0 102 35 61 70 91 105 63 140 25 176 36"/>
<path class="k6" d="M0 86 35 83 70 34 105 17 140 87 176 70M0 60 35 82 70 30 105 45 140 47 176 113M0 56 35 91 70 28 105 45 140 49 176 107"/>
<path class="k1" d="M0 81 35 99 70 39 105 27 140 44 176 88M0 26 35 42 70 61 105 76 140 113 176 60M0 77 35 73 70 23 105 27 140 93 176 83"/>
<path class="k2" d="M0 95 35 94 70 38 105 20 140 59 176 72M0 96 35 51 70 25 105 35 140 86 176 85M0 71 35 94 70 22 105 29 140 76 176 86"/>
<path class="k5" d="M0 68 35 90 70 8 105 67 140 89 176 55M0 76 35 77 70 39 105 17 140 70 176 100M0 80 35 58 70 26 105 54 140 48 176 113M0 102 35 85 70 79 105 39 140 46 176 26"/>
<path class="k0" d="M0 104 35 62 70 92 105 41 140 52 176 26M0 105 35 28 70 58 105 78 140 30 176 78M0 94 35 67 70 19 105 35 140 91 176 71"/>
<path class="k4" d="M0 56 35 91 70 44 105 19 140 67 176 100M0 57 35 55 70 27 105 69 140 52 176 117M0 71 35 65 70 106 105 78 140 26 176 31M0 76 35 30 70 112 105 51 140 38 176 71"/>
<path class="k3" d="M0 78 35 62 70 23 105 31 140 95 176 88M0 85 35 100 70 65 105 66 140 14 176 48M0 91 35 47 70 31 105 33 140 75 176 100M0 51 35 45 70 43 105 79 140 42 176 117"/>
<path class="k0" d="M0 62 35 18 70 48 105 60 140 84 176 106M0 32 35 56 70 118 105 71 140 57 176 44M0 75 35 86 70 29 105 20 140 82 176 86M0 56 35 108 70 74 105 76 140 23 176 41"/>
<path class="k4" d="M0 19 35 52 70 54 105 96 140 58 176 98M0 69 35 95 70 30 105 31 140 55 176 98M0 85 35 47 70 45 105 23 140 72 176 104"/>
<path class="k6" d="M0 58 35 80 70 114 105 50 140 47 176 28M0 97 35 60 70 30 105 25 140 84 176 82M0 42 35 33 70 34 105 88 140 101 176 80M0 116 35 58 70 78 105 33 140 47 176 46"/>
<path class="k5" d="M0 110 35 62 70 30 105 38 140 53 176 85M0 58 35 71 70 8 105 66 140 78 176 97M0 92 35 93 70 82 105 46 140 26 176 37"/>
<path class="k3" d="M0 55 35 30 70 33 105 73 140 108 176 79M0 80 35 89 70 29 105 21 140 85 176 73M0 83 35 80 70 26 105 25 140 69 176 95"/>
<path class="k2" d="M0 107 35 80 70 65 105 31 140 28 176 67M0 81 35 91 70 26 105 37 140 47 176 95M0 90 35 63 70 87 105 8 140 74 176 55"/>
<path class="k1" d="M0 85 35 75 70 41 105 13 140 75 176 90M0 29 35 63 70 77 105 81 140 101 176 27M0 101 35 47 70 49 105 22 140 93 176 64M0 92 35 91 70 24 105 31 140 60 176 80"/>
<path class="k6" d="M0 104 35 60 70 25 105 47 140 49 176 93M0 110 35 57 70 59 105 27 140 40 176 84M0 45 35 73 70 11 105 74 140 80 176 94"/>
<path class="k4" d="M0 72 35 48 70 39 105 36 140 117 176 65M0 67 35 84 70 3 105 76 140 73 176 74M0 85 35 83 70 60 105 91 140 46 176 13M0 64 35 40 70 16 105 80 140 97 176 80"/>
<path class="k3" d="M0 78 35 48 70 13 105 59 140 91 176 89M0 93 35 104 70 44 105 25 140 57 176 55M0 80 35 47 70 25 105 40 140 80 176 105M0 92 35 36 70 37 105 34 140 81 176 96"/>
<path class="k2" d="M0 67 35 35 70 71 105 26 140 109 176 69M0 82 35 40 70 23 105 49 140 82 176 101M0 120 35 62 70 63 105 36 140 45 176 51M0 68 35 110 70 31 105 29 140 70 176 69"/>
<path class="k5" d="M0 23 35 47 70 57 105 53 140 99 176 98M0 89 35 74 70 92 105 51 140 11 176 60M0 108 35 62 70 68 105 29 140 31 176 80"/>
<path class="k1" d="M0 42 35 90 70 41 105 45 140 49 176 111M0 74 35 83 70 42 105 22 140 52 176 105M0 96 35 66 70 76 105 12 140 46 176 82"/>
<path class="k0" d="M0 76 35 83 70 5 105 59 140 72 176 83M0 84 35 63 70 90 105 14 140 84 176 42M0 31 35 117 70 52 105 46 140 75 176 56"/>
<path class="k3" d="M0 74 35 71 70 90 105 30 140 91 176 22M0 107 35 30 70 40 105 65 140 47 176 88M0 83 35 95 70 38 105 18 140 60 176 83"/>
<path class="k6" d="M0 59 35 83 70 48 105 15 140 71 176 102M0 89 35 57 70 103 105 28 140 69 176 33M0 111 35 51 70 25 105 50 140 57 176 84M0 52 35 103 70 30 105 37 140 62 176 94"/>
<path class="k1" d="M0 74 35 46 70 19 105 70 140 109 176 59M0 25 35 79 70 24 105 84 140 78 176 88M0 58 35 55 70 14 105 71 140 105 176 75"/>
<path class="k0" d="M0 48 35 81 70 30 105 97 140 32 176 90M0 29 35 115 70 47 105 48 140 73 176 67M0 105 35 54 70 29 105 33 140 72 176 84M0 23 35 88 70 62 105 101 140 35 176 68"/>
<path class="k5" d="M0 97 35 90 70 45 105 29 140 35 176 81M0 97 35 25 70 51 105 38 140 73 176 93M0 105 35 47 70 88 105 70 140 28 176 39M0 14 35 65 70 63 105 51 140 82 176 103"/>
<path class="k4" d="M0 67 35 39 70 79 105 83 140 94 176 15M0 75 35 38 70 19 105 103 140 73 176 69M0 34 35 79 70 17 105 81 140 75 176 92"/>
<path class="k2" d="M0 93 35 82 70 66 105 39 140 15 176 83M0 75 35 90 70 79 105 64 140 64 176 5M0 90 35 69 70 4 105 75 140 75 176 65"/>
</g>
<rect class="bx" x="419.4" y="721.9" width="87.8" height="62.9"/>
<defs><linearGradient id="cb" x1="0" x2="1" y1="0" y2="0">
<stop offset="0" stop-color="#fdf7f6"/><stop offset="0.25" stop-color="#fbd2cf"/><stop offset="0.5" stop-color="#e38a82"/><stop offset="0.65" stop-color="#e8634f"/><stop offset="0.82" stop-color="#f23c24"/><stop offset="1" stop-color="#f21212"/>
</linearGradient></defs>
<rect x="627.5" y="411.9" width="109.6" height="14" fill="url(#cb)" stroke="#262626" stroke-width="1.4"/>
<path class="tk" d="M682.3 411.9v1.5"/>
<text class="s2" x="628.2" y="403.7" text-anchor="middle">0</text>
<text class="s2" x="682.4" y="403.7" text-anchor="middle">50</text>
<text class="s2" x="738" y="403.7" text-anchor="middle">100</text>
<rect x="619.10" y="466.40" width="43.50" height="15.93" fill="#fa1010"/>
<rect x="662.30" y="466.40" width="43.50" height="15.93" fill="#f8e6e0"/>
<rect x="705.50" y="466.40" width="43.50" height="15.93" fill="#fdf5f4"/>
<rect x="619.10" y="482.03" width="43.50" height="15.93" fill="#e05a4a"/>
<rect x="662.30" y="482.03" width="43.50" height="15.93" fill="#fa1010"/>
<rect x="705.50" y="482.03" width="43.50" height="15.93" fill="#fdf3f3"/>
<rect x="619.10" y="497.67" width="43.50" height="15.93" fill="#fdf0f3"/>
<rect x="662.30" y="497.67" width="43.50" height="15.93" fill="#fde0e4"/>
<rect x="705.50" y="497.67" width="43.50" height="15.93" fill="#fa1010"/>
<path class="tk" d="M640.7 466.4v1.5M640.7 513.3v-1.5"/>
<path class="tk" d="M683.9 466.4v1.5M683.9 513.3v-1.5"/>
<path class="tk" d="M727.1 466.4v1.5M727.1 513.3v-1.5"/>
<path class="tk" d="M619.1 474.2h1.5M748.7 474.2h-1.5"/>
<path class="tk" d="M619.1 489.8h1.5M748.7 489.8h-1.5"/>
<path class="tk" d="M619.1 505.5h1.5M748.7 505.5h-1.5"/>
<rect class="bx" x="619.1" y="466.4" width="129.6" height="46.9"/>
<text class="s" x="640.7" y="460.0" text-anchor="middle">C1</text>
<text class="s" x="683.9" y="460.0" text-anchor="middle">C2</text>
<text class="s" x="727.1" y="460.0" text-anchor="middle">C3</text>
<text class="s" x="604.6" y="478.1" text-anchor="end">C1</text>
<text class="s" x="604.6" y="495.9" text-anchor="end">C2</text>
<text class="s" x="604.6" y="514.7" text-anchor="end">C3</text>
<rect x="619.10" y="555.47" width="43.50" height="15.93" fill="#fa1010"/>
<rect x="662.30" y="555.47" width="43.50" height="15.93" fill="#fcc6c6"/>
<rect x="705.50" y="555.47" width="43.50" height="15.93" fill="#fde0dc"/>
<rect x="619.10" y="571.10" width="43.50" height="15.93" fill="#fdd8d8"/>
<rect x="662.30" y="571.10" width="43.50" height="15.93" fill="#fa1010"/>
<rect x="705.50" y="571.10" width="43.50" height="15.93" fill="#fde0dc"/>
<rect x="619.10" y="586.74" width="43.50" height="15.93" fill="#fdd8d8"/>
<rect x="662.30" y="586.74" width="43.50" height="15.93" fill="#fba0a0"/>
<rect x="705.50" y="586.74" width="43.50" height="15.93" fill="#fa1010"/>
<path class="tk" d="M640.7 555.5v1.5M640.7 602.4v-1.5"/>
<path class="tk" d="M683.9 555.5v1.5M683.9 602.4v-1.5"/>
<path class="tk" d="M727.1 555.5v1.5M727.1 602.4v-1.5"/>
<path class="tk" d="M619.1 563.3h1.5M748.7 563.3h-1.5"/>
<path class="tk" d="M619.1 578.9h1.5M748.7 578.9h-1.5"/>
<path class="tk" d="M619.1 594.6h1.5M748.7 594.6h-1.5"/>
<rect class="bx" x="619.1" y="555.47" width="129.6" height="46.9"/>
<text class="s" x="640.7" y="549.1" text-anchor="middle">C1</text>
<text class="s" x="683.9" y="549.1" text-anchor="middle">C2</text>
<text class="s" x="727.1" y="549.1" text-anchor="middle">C3</text>
<text class="s" x="604.6" y="567.2" text-anchor="end">C1</text>
<text class="s" x="604.6" y="585.0" text-anchor="end">C2</text>
<text class="s" x="604.6" y="603.8" text-anchor="end">C3</text>
<rect x="619.10" y="644.54" width="43.50" height="15.93" fill="#fa1010"/>
<rect x="662.30" y="644.54" width="43.50" height="15.93" fill="#fbb8b8"/>
<rect x="705.50" y="644.54" width="43.50" height="15.93" fill="#fde8e8"/>
<rect x="619.10" y="660.17" width="43.50" height="15.93" fill="#fbc0c0"/>
<rect x="662.30" y="660.17" width="43.50" height="15.93" fill="#fa1010"/>
<rect x="705.50" y="660.17" width="43.50" height="15.93" fill="#fdd8d8"/>
<rect x="619.10" y="675.81" width="43.50" height="15.93" fill="#fdd0d0"/>
<rect x="662.30" y="675.81" width="43.50" height="15.93" fill="#fbb8b8"/>
<rect x="705.50" y="675.81" width="43.50" height="15.93" fill="#f02020"/>
<path class="tk" d="M640.7 644.5v1.5M640.7 691.4v-1.5"/>
<path class="tk" d="M683.9 644.5v1.5M683.9 691.4v-1.5"/>
<path class="tk" d="M727.1 644.5v1.5M727.1 691.4v-1.5"/>
<path class="tk" d="M619.1 652.4h1.5M748.7 652.4h-1.5"/>
<path class="tk" d="M619.1 668.0h1.5M748.7 668.0h-1.5"/>
<path class="tk" d="M619.1 683.6h1.5M748.7 683.6h-1.5"/>
<rect class="bx" x="619.1" y="644.54" width="129.6" height="46.9"/>
<text class="s" x="640.7" y="638.1" text-anchor="middle">C1</text>
<text class="s" x="683.9" y="638.1" text-anchor="middle">C2</text>
<text class="s" x="727.1" y="638.1" text-anchor="middle">C3</text>
<text class="s" x="604.6" y="656.2" text-anchor="end">C1</text>
<text class="s" x="604.6" y="674.0" text-anchor="end">C2</text>
<text class="s" x="604.6" y="692.8" text-anchor="end">C3</text>
<rect x="619.10" y="733.61" width="43.50" height="15.93" fill="#fa1010"/>
<rect x="662.30" y="733.61" width="43.50" height="15.93" fill="#fbb0b0"/>
<rect x="705.50" y="733.61" width="43.50" height="15.93" fill="#fde0e0"/>
<rect x="619.10" y="749.24" width="43.50" height="15.93" fill="#fbb8b8"/>
<rect x="662.30" y="749.24" width="43.50" height="15.93" fill="#fa1010"/>
<rect x="705.50" y="749.24" width="43.50" height="15.93" fill="#fdd0d0"/>
<rect x="619.10" y="764.88" width="43.50" height="15.93" fill="#fdd0d0"/>
<rect x="662.30" y="764.88" width="43.50" height="15.93" fill="#fbb0b0"/>
<rect x="705.50" y="764.88" width="43.50" height="15.93" fill="#fa1010"/>
<path class="tk" d="M640.7 733.6v1.5M640.7 780.5v-1.5"/>
<path class="tk" d="M683.9 733.6v1.5M683.9 780.5v-1.5"/>
<path class="tk" d="M727.1 733.6v1.5M727.1 780.5v-1.5"/>
<path class="tk" d="M619.1 741.4h1.5M748.7 741.4h-1.5"/>
<path class="tk" d="M619.1 757.1h1.5M748.7 757.1h-1.5"/>
<path class="tk" d="M619.1 772.7h1.5M748.7 772.7h-1.5"/>
<rect class="bx" x="619.1" y="733.6099999999999" width="129.6" height="46.9"/>
<text class="s" x="640.7" y="727.2" text-anchor="middle">C1</text>
<text class="s" x="683.9" y="727.2" text-anchor="middle">C2</text>
<text class="s" x="727.1" y="727.2" text-anchor="middle">C3</text>
<text class="s" x="604.6" y="745.3" text-anchor="end">C1</text>
<text class="s" x="604.6" y="763.1" text-anchor="end">C2</text>
<text class="s" x="604.6" y="781.9" text-anchor="end">C3</text>
</svg>
</body></html>
